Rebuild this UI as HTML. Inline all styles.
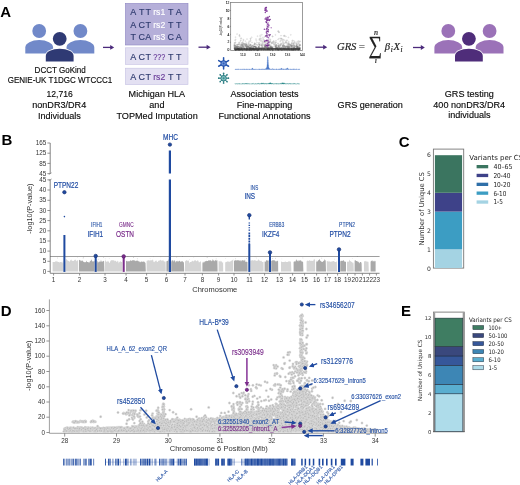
<!DOCTYPE html>
<html><head><meta charset="utf-8"><title>Figure</title>
<style>
html,body{margin:0;padding:0;background:#fff;}
body{width:520px;height:485px;overflow:hidden;}
svg{display:block;}
text{font-family:"Liberation Sans",sans-serif;}
.dj{font-family:"DejaVu Sans",sans-serif;}
.se{font-family:"Liberation Serif",serif;font-style:italic;}
.pl{font-weight:bold;font-size:15px;fill:#000;}
.cap{font-size:9.1px;fill:#0a0a0a;stroke:#0a0a0a;stroke-width:0.14px;text-anchor:middle;}
.tk{font-size:6.3px;fill:#333;}
.gl{font-size:8.8px;fill:#204ca4;stroke:#204ca4;stroke-width:0.2px;}
.gs{font-size:6.3px;fill:#2450a4;stroke:#2450a4;stroke-width:0.12px;}
.pu{fill:#7b2d8b;stroke:#7b2d8b;}
.dna{font-size:9px;fill:#2e3a6e;stroke:#2e3a6e;stroke-width:0.15px;}
</style></head><body>
<svg width="520" height="485" viewBox="0 0 520 485">
<defs>
<marker id="ab" viewBox="0 0 10 10" refX="6" refY="5" markerUnits="userSpaceOnUse" markerWidth="5.4" markerHeight="5.2" orient="auto"><path d="M0,0.3 L10,5 L0,9.7 z" fill="#1f4aa0"/></marker>
<marker id="ap" viewBox="0 0 10 10" refX="6" refY="5" markerUnits="userSpaceOnUse" markerWidth="5.4" markerHeight="5.2" orient="auto"><path d="M0,0.3 L10,5 L0,9.7 z" fill="#7b2d8b"/></marker>
</defs>
<rect width="520" height="485" fill="#fff"/>

<text class="pl" x="0.3" y="16.5">A</text>
<text class="pl" x="1.5" y="145.2">B</text>
<text class="pl" x="398.7" y="147.4">C</text>
<text class="pl" x="0.8" y="315.8">D</text>
<text class="pl" x="401.1" y="316.3">E</text>
<circle cx="39.2" cy="31" r="6.9" fill="#7189c9"/><path d="M25.300000000000004,53.6 V47.4 A13.9 7.3 0 0 1 53.1,47.4 V53.6 Z" fill="#7189c9"/><circle cx="80.4" cy="31" r="6.9" fill="#7189c9"/><path d="M66.5,53.6 V47.4 A13.9 7.3 0 0 1 94.30000000000001,47.4 V53.6 Z" fill="#7189c9"/><path d="M44.900000000000006,61.7 V56 A14.8 8.3 0 0 1 74.5,56 V61.7 Z" fill="#fff"/><circle cx="59.7" cy="38.8" r="7.9" fill="#fff"/><circle cx="59.7" cy="38.8" r="6.9" fill="#2f3a74"/><path d="M45.800000000000004,61.5 V56 A13.9 7.3 0 0 1 73.60000000000001,56 V61.5 Z" fill="#2f3a74"/>
<circle cx="448.3" cy="31" r="6.9" fill="#9b72b8"/><path d="M434.40000000000003,53.6 V47.4 A13.9 7.3 0 0 1 462.2,47.4 V53.6 Z" fill="#9b72b8"/><circle cx="489.6" cy="31" r="6.9" fill="#9b72b8"/><path d="M475.70000000000005,53.6 V47.4 A13.9 7.3 0 0 1 503.5,47.4 V53.6 Z" fill="#9b72b8"/><path d="M454.09999999999997,61.7 V56 A14.8 8.3 0 0 1 483.7,56 V61.7 Z" fill="#fff"/><circle cx="468.9" cy="38.8" r="7.9" fill="#fff"/><circle cx="468.9" cy="38.8" r="6.9" fill="#4f2d7a"/><path d="M455.0,61.5 V56 A13.9 7.3 0 0 1 482.79999999999995,56 V61.5 Z" fill="#4f2d7a"/>
<text x="60.2" y="73.2" font-size="8.3px" fill="#0a0a0a" stroke="#0a0a0a" stroke-width="0.14" text-anchor="middle" textLength="51.2" lengthAdjust="spacingAndGlyphs">DCCT GoKind</text>
<text x="60" y="83" font-size="8.3px" fill="#0a0a0a" stroke="#0a0a0a" stroke-width="0.14" text-anchor="middle" textLength="104.6" lengthAdjust="spacingAndGlyphs">GENIE-UK T1DGC WTCCC1</text>
<text class="cap" x="59.7" y="96.6" style="font-size:8.6px">12,716</text>
<text class="cap" x="59.2" y="107.6">nonDR3/DR4</text>
<text class="cap" x="59.4" y="118.9">Individuals</text>
<path d="M103,47.4 H112.2" stroke="#4b2a7b" stroke-width="1.3" fill="none"/><path d="M110.2,45.0 L114.2,47.4 L110.2,49.8 Z" fill="#4b2a7b"/>
<path d="M198.5,47.2 H208.6" stroke="#4b2a7b" stroke-width="1.3" fill="none"/><path d="M206.6,44.800000000000004 L210.6,47.2 L206.6,49.6 Z" fill="#4b2a7b"/>
<path d="M315.4,47.2 H325.2" stroke="#4b2a7b" stroke-width="1.3" fill="none"/><path d="M323.2,44.800000000000004 L327.2,47.2 L323.2,49.6 Z" fill="#4b2a7b"/>
<path d="M413,47.5 H422.8" stroke="#4b2a7b" stroke-width="1.3" fill="none"/><path d="M420.8,45.1 L424.8,47.5 L420.8,49.9 Z" fill="#4b2a7b"/>
<rect x="125.4" y="3.4" width="62.6" height="41.6" fill="#b5afd9" stroke="#8d85c2" stroke-width="0.6"/>
<rect x="125.4" y="47.8" width="62.6" height="16.6" fill="#e3e0f2" stroke="#c6c1e3" stroke-width="0.6"/>
<rect x="125.4" y="68.2" width="62.6" height="16.4" fill="#e3e0f2" stroke="#c6c1e3" stroke-width="0.6"/>
<text class="dna" text-anchor="middle" x="133.2 141.8 148.2" y="15.4">ATT</text><text class="dna" x="159.2" y="15.4" text-anchor="middle" style="fill:#fff;stroke:#fff" textLength="12" lengthAdjust="spacingAndGlyphs">rs1</text><text class="dna" text-anchor="middle" x="170.8 178.8" y="15.4">TA</text>
<text class="dna" text-anchor="middle" x="133.2 141.8 148.2" y="27.7">ACT</text><text class="dna" x="159.2" y="27.7" text-anchor="middle" style="fill:#fff;stroke:#fff" textLength="12" lengthAdjust="spacingAndGlyphs">rs2</text><text class="dna" text-anchor="middle" x="170.8 178.8" y="27.7">TT</text>
<text class="dna" text-anchor="middle" x="133.2 141.8 148.2" y="40.0">TCA</text><text class="dna" x="159.2" y="40.0" text-anchor="middle" style="fill:#fff;stroke:#fff" textLength="12" lengthAdjust="spacingAndGlyphs">rs3</text><text class="dna" text-anchor="middle" x="170.8 178.8" y="40.0">CA</text>
<text class="dna" text-anchor="middle" x="133.2 141.8 148.2" y="59.7">ACT</text><text class="dna" x="159.2" y="59.7" text-anchor="middle" style="fill:#6a3d9a;stroke:#6a3d9a" textLength="12" lengthAdjust="spacingAndGlyphs">???</text><text class="dna" text-anchor="middle" x="170.8 178.8" y="59.7">TT</text>
<text class="dna" text-anchor="middle" x="133.2 141.8 148.2" y="79.7">ACT</text><text class="dna" x="159.2" y="79.7" text-anchor="middle" style="fill:#6a3d9a;stroke:#6a3d9a" textLength="12" lengthAdjust="spacingAndGlyphs">rs2</text><text class="dna" text-anchor="middle" x="170.8 178.8" y="79.7">TT</text>
<text class="cap" x="156.9" y="96.6">Michigan HLA</text>
<text class="cap" x="156.9" y="108">and</text>
<text class="cap" x="157.1" y="118.8">TOPMed Imputation</text>
<g>
<g fill="none" stroke="#444" stroke-width="0.32"><circle cx="255.6" cy="49.5" r=".5"/><circle cx="272.3" cy="48.5" r=".5"/><circle cx="290.9" cy="48.3" r=".5"/><circle cx="288.1" cy="49.4" r=".5"/><circle cx="282.3" cy="49.0" r=".5"/><circle cx="278.0" cy="49.7" r=".5"/><circle cx="278.3" cy="49.8" r=".5"/><circle cx="241.9" cy="49.7" r=".5"/><circle cx="250.5" cy="48.6" r=".5"/><circle cx="291.2" cy="49.0" r=".5"/><circle cx="249.6" cy="48.1" r=".5"/><circle cx="278.8" cy="49.7" r=".5"/><circle cx="244.9" cy="48.8" r=".5"/><circle cx="244.0" cy="49.1" r=".5"/><circle cx="249.2" cy="47.9" r=".5"/><circle cx="265.8" cy="49.4" r=".5"/><circle cx="277.6" cy="48.7" r=".5"/><circle cx="248.1" cy="49.1" r=".5"/><circle cx="272.9" cy="49.1" r=".5"/><circle cx="286.0" cy="49.6" r=".5"/><circle cx="293.4" cy="49.4" r=".5"/><circle cx="289.1" cy="49.4" r=".5"/><circle cx="235.5" cy="47.7" r=".5"/><circle cx="251.7" cy="49.8" r=".5"/><circle cx="251.3" cy="49.5" r=".5"/><circle cx="237.5" cy="49.3" r=".5"/><circle cx="284.3" cy="49.0" r=".5"/><circle cx="257.1" cy="49.9" r=".5"/><circle cx="276.2" cy="48.5" r=".5"/><circle cx="242.8" cy="49.7" r=".5"/><circle cx="257.7" cy="49.9" r=".5"/><circle cx="267.4" cy="49.3" r=".5"/><circle cx="251.6" cy="49.6" r=".5"/><circle cx="259.9" cy="48.8" r=".5"/><circle cx="277.7" cy="49.7" r=".5"/><circle cx="239.1" cy="49.1" r=".5"/><circle cx="268.3" cy="48.2" r=".5"/><circle cx="280.6" cy="49.2" r=".5"/><circle cx="235.8" cy="49.9" r=".5"/><circle cx="254.1" cy="49.5" r=".5"/><circle cx="273.1" cy="48.7" r=".5"/><circle cx="237.4" cy="49.6" r=".5"/><circle cx="295.9" cy="49.1" r=".5"/><circle cx="295.4" cy="49.5" r=".5"/><circle cx="277.5" cy="48.9" r=".5"/><circle cx="241.4" cy="49.4" r=".5"/><circle cx="254.5" cy="49.8" r=".5"/><circle cx="249.2" cy="49.8" r=".5"/><circle cx="267.5" cy="49.3" r=".5"/><circle cx="298.5" cy="49.2" r=".5"/><circle cx="297.3" cy="49.5" r=".5"/><circle cx="246.9" cy="48.7" r=".5"/><circle cx="236.5" cy="49.7" r=".5"/><circle cx="262.6" cy="48.1" r=".5"/><circle cx="274.3" cy="48.8" r=".5"/><circle cx="238.5" cy="49.8" r=".5"/><circle cx="239.7" cy="49.6" r=".5"/><circle cx="238.4" cy="49.6" r=".5"/><circle cx="252.9" cy="48.9" r=".5"/><circle cx="266.1" cy="49.8" r=".5"/><circle cx="236.9" cy="47.7" r=".5"/><circle cx="289.5" cy="49.6" r=".5"/><circle cx="267.5" cy="48.6" r=".5"/><circle cx="238.5" cy="48.7" r=".5"/><circle cx="293.4" cy="49.0" r=".5"/><circle cx="270.8" cy="47.6" r=".5"/><circle cx="236.4" cy="49.5" r=".5"/><circle cx="235.7" cy="49.9" r=".5"/><circle cx="257.8" cy="49.2" r=".5"/><circle cx="249.9" cy="49.7" r=".5"/><circle cx="281.4" cy="49.9" r=".5"/><circle cx="292.3" cy="49.9" r=".5"/><circle cx="275.3" cy="49.7" r=".5"/><circle cx="236.0" cy="49.6" r=".5"/><circle cx="240.8" cy="49.6" r=".5"/><circle cx="261.5" cy="48.3" r=".5"/><circle cx="298.7" cy="49.9" r=".5"/><circle cx="286.8" cy="49.3" r=".5"/><circle cx="289.1" cy="49.1" r=".5"/><circle cx="276.2" cy="49.7" r=".5"/><circle cx="247.8" cy="49.1" r=".5"/><circle cx="255.8" cy="49.4" r=".5"/><circle cx="268.7" cy="49.4" r=".5"/><circle cx="262.9" cy="49.3" r=".5"/><circle cx="275.8" cy="49.1" r=".5"/><circle cx="296.8" cy="49.3" r=".5"/><circle cx="284.5" cy="49.5" r=".5"/><circle cx="237.9" cy="49.0" r=".5"/><circle cx="261.8" cy="48.4" r=".5"/><circle cx="269.0" cy="49.2" r=".5"/><circle cx="276.1" cy="48.2" r=".5"/><circle cx="251.9" cy="48.6" r=".5"/><circle cx="246.5" cy="49.9" r=".5"/><circle cx="250.4" cy="48.9" r=".5"/><circle cx="285.9" cy="49.5" r=".5"/><circle cx="235.2" cy="49.9" r=".5"/><circle cx="249.7" cy="49.5" r=".5"/><circle cx="265.0" cy="49.5" r=".5"/><circle cx="293.4" cy="49.8" r=".5"/><circle cx="270.2" cy="49.8" r=".5"/><circle cx="271.3" cy="49.1" r=".5"/><circle cx="298.0" cy="49.7" r=".5"/><circle cx="282.4" cy="49.7" r=".5"/><circle cx="239.5" cy="48.9" r=".5"/><circle cx="253.5" cy="49.7" r=".5"/><circle cx="268.6" cy="48.2" r=".5"/><circle cx="246.9" cy="49.4" r=".5"/><circle cx="271.5" cy="48.5" r=".5"/><circle cx="297.8" cy="48.0" r=".5"/><circle cx="248.8" cy="49.8" r=".5"/><circle cx="241.2" cy="48.8" r=".5"/><circle cx="256.3" cy="49.4" r=".5"/><circle cx="293.8" cy="49.6" r=".5"/><circle cx="239.4" cy="49.7" r=".5"/><circle cx="294.3" cy="48.1" r=".5"/><circle cx="291.3" cy="48.9" r=".5"/><circle cx="247.1" cy="49.9" r=".5"/><circle cx="237.2" cy="49.5" r=".5"/><circle cx="252.7" cy="49.5" r=".5"/><circle cx="238.8" cy="48.4" r=".5"/><circle cx="253.2" cy="48.9" r=".5"/><circle cx="253.6" cy="48.5" r=".5"/><circle cx="250.2" cy="49.2" r=".5"/><circle cx="299.4" cy="49.0" r=".5"/><circle cx="259.8" cy="48.3" r=".5"/><circle cx="259.9" cy="48.7" r=".5"/><circle cx="244.5" cy="49.0" r=".5"/><circle cx="246.6" cy="49.4" r=".5"/><circle cx="278.3" cy="49.3" r=".5"/><circle cx="251.8" cy="49.6" r=".5"/><circle cx="257.2" cy="48.3" r=".5"/><circle cx="250.2" cy="48.6" r=".5"/><circle cx="250.3" cy="49.4" r=".5"/><circle cx="298.3" cy="49.0" r=".5"/><circle cx="269.4" cy="48.6" r=".5"/><circle cx="256.7" cy="49.4" r=".5"/><circle cx="267.5" cy="49.2" r=".5"/><circle cx="280.8" cy="49.1" r=".5"/><circle cx="258.5" cy="49.1" r=".5"/><circle cx="291.8" cy="49.5" r=".5"/><circle cx="271.7" cy="48.9" r=".5"/><circle cx="253.8" cy="49.7" r=".5"/><circle cx="246.2" cy="49.6" r=".5"/><circle cx="281.2" cy="48.3" r=".5"/><circle cx="251.0" cy="48.4" r=".5"/><circle cx="250.3" cy="49.6" r=".5"/><circle cx="295.5" cy="49.5" r=".5"/><circle cx="238.1" cy="48.7" r=".5"/><circle cx="254.7" cy="49.5" r=".5"/><circle cx="249.9" cy="49.2" r=".5"/><circle cx="253.3" cy="48.3" r=".5"/><circle cx="255.6" cy="48.2" r=".5"/><circle cx="238.9" cy="49.9" r=".5"/><circle cx="241.4" cy="48.1" r=".5"/><circle cx="270.0" cy="49.9" r=".5"/><circle cx="250.0" cy="49.8" r=".5"/><circle cx="240.1" cy="49.8" r=".5"/><circle cx="253.7" cy="48.3" r=".5"/><circle cx="247.1" cy="49.7" r=".5"/><circle cx="297.1" cy="48.1" r=".5"/><circle cx="263.7" cy="49.7" r=".5"/><circle cx="269.2" cy="49.1" r=".5"/><circle cx="259.3" cy="49.5" r=".5"/><circle cx="234.6" cy="47.6" r=".5"/><circle cx="252.2" cy="49.0" r=".5"/><circle cx="261.0" cy="49.7" r=".5"/><circle cx="299.4" cy="48.1" r=".5"/><circle cx="264.1" cy="48.3" r=".5"/><circle cx="245.3" cy="49.7" r=".5"/><circle cx="299.4" cy="48.7" r=".5"/><circle cx="252.4" cy="48.1" r=".5"/><circle cx="280.7" cy="49.2" r=".5"/><circle cx="277.0" cy="48.5" r=".5"/><circle cx="242.9" cy="49.9" r=".5"/><circle cx="285.3" cy="48.7" r=".5"/><circle cx="284.1" cy="48.2" r=".5"/><circle cx="244.9" cy="49.8" r=".5"/><circle cx="291.2" cy="49.7" r=".5"/><circle cx="250.8" cy="49.1" r=".5"/><circle cx="299.8" cy="49.2" r=".5"/><circle cx="288.5" cy="49.0" r=".5"/><circle cx="293.0" cy="49.4" r=".5"/><circle cx="235.8" cy="49.6" r=".5"/><circle cx="294.4" cy="49.5" r=".5"/><circle cx="267.5" cy="49.2" r=".5"/><circle cx="279.4" cy="49.5" r=".5"/><circle cx="258.1" cy="49.9" r=".5"/><circle cx="261.3" cy="49.5" r=".5"/><circle cx="283.3" cy="48.6" r=".5"/><circle cx="284.3" cy="49.5" r=".5"/><circle cx="268.6" cy="49.2" r=".5"/><circle cx="258.7" cy="49.8" r=".5"/><circle cx="240.9" cy="49.7" r=".5"/><circle cx="270.9" cy="48.0" r=".5"/><circle cx="287.1" cy="49.3" r=".5"/><circle cx="237.6" cy="48.9" r=".5"/><circle cx="238.0" cy="48.4" r=".5"/></g>
<g fill="none" stroke="#707070" stroke-width="0.32"><circle cx="269.6" cy="45.4" r=".5"/><circle cx="242.4" cy="49.2" r=".5"/><circle cx="258.8" cy="47.2" r=".5"/><circle cx="279.1" cy="48.4" r=".5"/><circle cx="264.1" cy="48.9" r=".5"/><circle cx="250.3" cy="47.6" r=".5"/><circle cx="254.9" cy="46.7" r=".5"/><circle cx="263.8" cy="47.7" r=".5"/><circle cx="234.5" cy="48.4" r=".5"/><circle cx="297.1" cy="46.7" r=".5"/><circle cx="241.0" cy="46.4" r=".5"/><circle cx="266.1" cy="46.8" r=".5"/><circle cx="291.2" cy="46.7" r=".5"/><circle cx="256.0" cy="49.2" r=".5"/><circle cx="236.0" cy="49.0" r=".5"/><circle cx="297.3" cy="48.3" r=".5"/><circle cx="297.2" cy="47.4" r=".5"/><circle cx="247.7" cy="47.3" r=".5"/><circle cx="265.8" cy="47.0" r=".5"/><circle cx="296.7" cy="45.7" r=".5"/><circle cx="295.8" cy="48.4" r=".5"/><circle cx="294.3" cy="48.7" r=".5"/><circle cx="293.9" cy="48.4" r=".5"/><circle cx="269.3" cy="45.0" r=".5"/><circle cx="270.9" cy="48.8" r=".5"/><circle cx="267.6" cy="48.0" r=".5"/><circle cx="269.4" cy="48.1" r=".5"/><circle cx="297.1" cy="48.5" r=".5"/><circle cx="256.6" cy="49.3" r=".5"/><circle cx="256.1" cy="47.3" r=".5"/><circle cx="299.2" cy="45.7" r=".5"/><circle cx="242.8" cy="48.4" r=".5"/><circle cx="256.6" cy="47.7" r=".5"/><circle cx="242.7" cy="46.7" r=".5"/><circle cx="289.3" cy="48.6" r=".5"/><circle cx="299.0" cy="48.8" r=".5"/><circle cx="245.0" cy="49.7" r=".5"/><circle cx="278.5" cy="47.1" r=".5"/><circle cx="244.6" cy="48.3" r=".5"/><circle cx="275.6" cy="46.3" r=".5"/><circle cx="268.8" cy="48.0" r=".5"/><circle cx="288.7" cy="47.5" r=".5"/><circle cx="280.0" cy="48.2" r=".5"/><circle cx="275.5" cy="46.8" r=".5"/><circle cx="286.8" cy="46.2" r=".5"/><circle cx="265.8" cy="46.8" r=".5"/><circle cx="276.6" cy="48.2" r=".5"/><circle cx="254.3" cy="47.2" r=".5"/><circle cx="278.6" cy="46.7" r=".5"/><circle cx="293.2" cy="49.3" r=".5"/><circle cx="235.4" cy="48.2" r=".5"/><circle cx="272.6" cy="49.5" r=".5"/><circle cx="289.7" cy="49.9" r=".5"/><circle cx="253.3" cy="48.6" r=".5"/><circle cx="246.7" cy="48.6" r=".5"/><circle cx="283.9" cy="47.1" r=".5"/><circle cx="253.9" cy="46.3" r=".5"/><circle cx="243.4" cy="46.1" r=".5"/><circle cx="250.0" cy="49.1" r=".5"/><circle cx="283.7" cy="48.5" r=".5"/><circle cx="242.5" cy="48.0" r=".5"/><circle cx="248.5" cy="46.8" r=".5"/><circle cx="297.2" cy="44.8" r=".5"/><circle cx="236.3" cy="46.6" r=".5"/><circle cx="273.0" cy="49.9" r=".5"/><circle cx="294.9" cy="47.1" r=".5"/><circle cx="250.8" cy="47.2" r=".5"/><circle cx="238.8" cy="47.9" r=".5"/><circle cx="297.5" cy="47.1" r=".5"/><circle cx="249.7" cy="49.1" r=".5"/><circle cx="261.9" cy="49.1" r=".5"/><circle cx="279.2" cy="49.3" r=".5"/><circle cx="297.0" cy="46.8" r=".5"/><circle cx="236.3" cy="46.9" r=".5"/><circle cx="256.1" cy="47.4" r=".5"/><circle cx="237.5" cy="48.2" r=".5"/><circle cx="261.3" cy="45.4" r=".5"/><circle cx="297.4" cy="47.3" r=".5"/><circle cx="263.7" cy="49.2" r=".5"/><circle cx="287.6" cy="47.0" r=".5"/><circle cx="236.9" cy="47.9" r=".5"/><circle cx="263.8" cy="49.1" r=".5"/><circle cx="241.2" cy="47.4" r=".5"/><circle cx="258.5" cy="47.3" r=".5"/><circle cx="277.2" cy="47.4" r=".5"/><circle cx="271.6" cy="48.7" r=".5"/><circle cx="235.2" cy="47.7" r=".5"/><circle cx="240.1" cy="47.3" r=".5"/><circle cx="243.8" cy="49.0" r=".5"/><circle cx="241.4" cy="48.1" r=".5"/><circle cx="247.2" cy="49.5" r=".5"/><circle cx="293.9" cy="47.3" r=".5"/><circle cx="286.1" cy="49.2" r=".5"/><circle cx="288.9" cy="46.6" r=".5"/><circle cx="275.6" cy="48.9" r=".5"/><circle cx="262.3" cy="47.0" r=".5"/><circle cx="235.7" cy="47.3" r=".5"/><circle cx="284.6" cy="45.8" r=".5"/><circle cx="265.4" cy="45.8" r=".5"/><circle cx="282.6" cy="45.8" r=".5"/><circle cx="294.7" cy="49.4" r=".5"/><circle cx="255.3" cy="48.7" r=".5"/><circle cx="299.7" cy="47.2" r=".5"/><circle cx="288.3" cy="49.1" r=".5"/><circle cx="272.9" cy="47.0" r=".5"/><circle cx="247.7" cy="47.3" r=".5"/><circle cx="296.0" cy="48.6" r=".5"/><circle cx="291.7" cy="45.8" r=".5"/><circle cx="235.0" cy="47.1" r=".5"/><circle cx="276.8" cy="48.3" r=".5"/><circle cx="267.7" cy="47.1" r=".5"/><circle cx="264.9" cy="46.2" r=".5"/><circle cx="270.7" cy="48.4" r=".5"/><circle cx="251.7" cy="47.1" r=".5"/><circle cx="279.9" cy="46.9" r=".5"/><circle cx="289.6" cy="46.7" r=".5"/><circle cx="282.0" cy="47.6" r=".5"/><circle cx="288.2" cy="45.3" r=".5"/><circle cx="255.3" cy="46.7" r=".5"/><circle cx="281.4" cy="48.7" r=".5"/><circle cx="267.4" cy="44.7" r=".5"/><circle cx="288.3" cy="47.9" r=".5"/><circle cx="248.4" cy="46.7" r=".5"/><circle cx="286.1" cy="47.2" r=".5"/><circle cx="284.0" cy="46.1" r=".5"/><circle cx="283.2" cy="49.4" r=".5"/><circle cx="272.4" cy="49.5" r=".5"/><circle cx="249.9" cy="49.3" r=".5"/><circle cx="289.9" cy="47.9" r=".5"/><circle cx="280.0" cy="48.0" r=".5"/><circle cx="243.6" cy="47.4" r=".5"/><circle cx="294.1" cy="48.4" r=".5"/><circle cx="262.0" cy="49.2" r=".5"/><circle cx="285.3" cy="46.6" r=".5"/><circle cx="276.5" cy="48.3" r=".5"/><circle cx="240.7" cy="48.4" r=".5"/><circle cx="275.2" cy="48.5" r=".5"/><circle cx="246.3" cy="47.0" r=".5"/><circle cx="272.1" cy="47.8" r=".5"/><circle cx="251.7" cy="49.2" r=".5"/><circle cx="248.2" cy="49.5" r=".5"/><circle cx="297.8" cy="48.7" r=".5"/><circle cx="288.1" cy="48.2" r=".5"/><circle cx="290.6" cy="49.7" r=".5"/><circle cx="250.7" cy="48.3" r=".5"/><circle cx="257.1" cy="49.5" r=".5"/><circle cx="271.3" cy="46.9" r=".5"/><circle cx="260.8" cy="48.0" r=".5"/><circle cx="298.5" cy="47.0" r=".5"/><circle cx="255.1" cy="48.9" r=".5"/><circle cx="286.0" cy="49.8" r=".5"/><circle cx="275.6" cy="46.7" r=".5"/><circle cx="248.2" cy="46.9" r=".5"/><circle cx="277.5" cy="48.7" r=".5"/><circle cx="255.2" cy="48.4" r=".5"/><circle cx="276.8" cy="47.2" r=".5"/><circle cx="288.8" cy="48.8" r=".5"/><circle cx="289.1" cy="47.4" r=".5"/><circle cx="292.8" cy="48.6" r=".5"/><circle cx="293.3" cy="45.4" r=".5"/><circle cx="251.6" cy="48.4" r=".5"/><circle cx="292.8" cy="49.8" r=".5"/><circle cx="291.4" cy="47.6" r=".5"/><circle cx="287.5" cy="46.8" r=".5"/><circle cx="239.8" cy="47.7" r=".5"/><circle cx="264.9" cy="49.3" r=".5"/><circle cx="249.6" cy="47.6" r=".5"/><circle cx="266.3" cy="47.6" r=".5"/><circle cx="239.7" cy="49.8" r=".5"/><circle cx="271.5" cy="47.1" r=".5"/><circle cx="237.9" cy="49.5" r=".5"/><circle cx="278.9" cy="48.9" r=".5"/><circle cx="266.0" cy="48.2" r=".5"/><circle cx="275.7" cy="48.3" r=".5"/><circle cx="265.7" cy="45.3" r=".5"/><circle cx="261.4" cy="49.4" r=".5"/><circle cx="251.2" cy="49.3" r=".5"/><circle cx="235.3" cy="45.5" r=".5"/><circle cx="234.3" cy="45.1" r=".5"/><circle cx="246.1" cy="45.9" r=".5"/><circle cx="252.3" cy="49.3" r=".5"/><circle cx="287.8" cy="47.0" r=".5"/><circle cx="289.8" cy="44.5" r=".5"/><circle cx="246.5" cy="45.1" r=".5"/><circle cx="268.2" cy="49.6" r=".5"/><circle cx="283.8" cy="49.7" r=".5"/><circle cx="266.9" cy="48.0" r=".5"/><circle cx="296.3" cy="45.8" r=".5"/><circle cx="256.3" cy="48.4" r=".5"/><circle cx="294.4" cy="45.3" r=".5"/><circle cx="262.1" cy="47.2" r=".5"/><circle cx="236.5" cy="47.1" r=".5"/><circle cx="252.2" cy="47.8" r=".5"/><circle cx="250.7" cy="47.9" r=".5"/><circle cx="265.0" cy="46.7" r=".5"/><circle cx="240.0" cy="47.8" r=".5"/><circle cx="270.4" cy="47.3" r=".5"/><circle cx="272.9" cy="49.9" r=".5"/><circle cx="249.9" cy="47.7" r=".5"/><circle cx="256.4" cy="48.7" r=".5"/><circle cx="271.9" cy="48.4" r=".5"/><circle cx="274.3" cy="48.6" r=".5"/><circle cx="281.9" cy="49.0" r=".5"/><circle cx="259.6" cy="48.8" r=".5"/><circle cx="267.2" cy="46.0" r=".5"/><circle cx="300.1" cy="47.9" r=".5"/><circle cx="296.8" cy="46.8" r=".5"/><circle cx="258.9" cy="48.5" r=".5"/><circle cx="288.0" cy="49.4" r=".5"/><circle cx="234.5" cy="48.9" r=".5"/><circle cx="272.1" cy="47.6" r=".5"/><circle cx="255.5" cy="46.5" r=".5"/><circle cx="293.0" cy="47.5" r=".5"/><circle cx="242.3" cy="45.2" r=".5"/><circle cx="246.8" cy="48.8" r=".5"/><circle cx="287.3" cy="49.4" r=".5"/><circle cx="241.4" cy="47.7" r=".5"/><circle cx="242.5" cy="46.5" r=".5"/><circle cx="257.4" cy="48.5" r=".5"/><circle cx="254.2" cy="46.6" r=".5"/><circle cx="237.0" cy="44.7" r=".5"/><circle cx="283.5" cy="45.1" r=".5"/><circle cx="296.7" cy="48.4" r=".5"/><circle cx="237.8" cy="46.7" r=".5"/><circle cx="298.2" cy="47.2" r=".5"/><circle cx="296.0" cy="48.7" r=".5"/><circle cx="243.6" cy="47.7" r=".5"/><circle cx="264.6" cy="46.0" r=".5"/><circle cx="247.2" cy="46.6" r=".5"/><circle cx="239.7" cy="46.5" r=".5"/><circle cx="253.8" cy="49.3" r=".5"/><circle cx="295.4" cy="49.4" r=".5"/><circle cx="258.5" cy="47.7" r=".5"/><circle cx="281.9" cy="49.9" r=".5"/><circle cx="286.1" cy="48.4" r=".5"/><circle cx="268.2" cy="48.4" r=".5"/><circle cx="278.2" cy="45.2" r=".5"/><circle cx="297.7" cy="47.3" r=".5"/><circle cx="278.8" cy="47.4" r=".5"/><circle cx="272.5" cy="48.4" r=".5"/><circle cx="270.5" cy="46.5" r=".5"/><circle cx="283.4" cy="48.8" r=".5"/><circle cx="288.7" cy="49.5" r=".5"/><circle cx="251.0" cy="49.3" r=".5"/><circle cx="272.6" cy="48.9" r=".5"/><circle cx="246.4" cy="47.7" r=".5"/><circle cx="279.7" cy="45.4" r=".5"/><circle cx="256.8" cy="49.5" r=".5"/><circle cx="291.8" cy="45.5" r=".5"/><circle cx="293.2" cy="46.5" r=".5"/><circle cx="265.1" cy="47.6" r=".5"/><circle cx="271.8" cy="47.9" r=".5"/><circle cx="236.5" cy="47.7" r=".5"/><circle cx="285.3" cy="47.2" r=".5"/><circle cx="279.2" cy="48.9" r=".5"/><circle cx="267.8" cy="47.2" r=".5"/><circle cx="249.7" cy="48.7" r=".5"/><circle cx="282.2" cy="47.7" r=".5"/><circle cx="295.0" cy="46.5" r=".5"/><circle cx="291.5" cy="49.7" r=".5"/><circle cx="246.6" cy="47.8" r=".5"/><circle cx="295.1" cy="49.3" r=".5"/><circle cx="266.8" cy="47.4" r=".5"/><circle cx="237.9" cy="47.3" r=".5"/><circle cx="287.9" cy="48.4" r=".5"/><circle cx="270.8" cy="47.0" r=".5"/><circle cx="283.1" cy="49.1" r=".5"/><circle cx="285.4" cy="48.9" r=".5"/><circle cx="264.1" cy="49.0" r=".5"/><circle cx="244.1" cy="49.4" r=".5"/><circle cx="299.0" cy="48.0" r=".5"/><circle cx="287.0" cy="48.2" r=".5"/><circle cx="247.6" cy="46.1" r=".5"/><circle cx="264.1" cy="47.6" r=".5"/><circle cx="292.5" cy="48.7" r=".5"/><circle cx="249.7" cy="45.7" r=".5"/><circle cx="241.6" cy="48.7" r=".5"/><circle cx="257.3" cy="49.2" r=".5"/><circle cx="282.5" cy="46.3" r=".5"/><circle cx="237.1" cy="48.0" r=".5"/><circle cx="270.1" cy="47.7" r=".5"/><circle cx="291.9" cy="46.5" r=".5"/><circle cx="259.1" cy="48.1" r=".5"/><circle cx="276.9" cy="47.7" r=".5"/><circle cx="234.3" cy="46.2" r=".5"/><circle cx="268.9" cy="47.3" r=".5"/><circle cx="294.2" cy="48.2" r=".5"/><circle cx="268.8" cy="47.9" r=".5"/><circle cx="259.4" cy="45.1" r=".5"/><circle cx="280.1" cy="48.3" r=".5"/><circle cx="259.4" cy="44.6" r=".5"/><circle cx="246.0" cy="46.5" r=".5"/><circle cx="247.5" cy="48.4" r=".5"/><circle cx="281.2" cy="49.0" r=".5"/><circle cx="287.7" cy="48.7" r=".5"/><circle cx="295.2" cy="49.3" r=".5"/><circle cx="258.8" cy="46.9" r=".5"/><circle cx="284.1" cy="48.6" r=".5"/><circle cx="293.0" cy="48.3" r=".5"/><circle cx="288.6" cy="46.9" r=".5"/><circle cx="285.0" cy="48.7" r=".5"/><circle cx="237.8" cy="46.8" r=".5"/><circle cx="237.8" cy="46.7" r=".5"/><circle cx="300.1" cy="45.3" r=".5"/><circle cx="251.5" cy="48.9" r=".5"/><circle cx="251.2" cy="46.2" r=".5"/><circle cx="264.8" cy="48.1" r=".5"/><circle cx="271.5" cy="48.8" r=".5"/><circle cx="253.4" cy="46.5" r=".5"/></g>
<g fill="none" stroke="#939393" stroke-width="0.32"><circle cx="262.8" cy="45.5" r=".5"/><circle cx="278.3" cy="46.0" r=".5"/><circle cx="264.3" cy="44.9" r=".5"/><circle cx="299.7" cy="45.2" r=".5"/><circle cx="291.9" cy="45.6" r=".5"/><circle cx="242.3" cy="44.8" r=".5"/><circle cx="245.2" cy="45.9" r=".5"/><circle cx="290.5" cy="45.5" r=".5"/><circle cx="252.5" cy="45.9" r=".5"/><circle cx="296.5" cy="44.3" r=".5"/><circle cx="243.6" cy="44.1" r=".5"/><circle cx="280.4" cy="44.1" r=".5"/><circle cx="241.2" cy="45.3" r=".5"/><circle cx="235.7" cy="45.6" r=".5"/><circle cx="283.7" cy="47.0" r=".5"/><circle cx="241.1" cy="45.0" r=".5"/><circle cx="243.0" cy="45.3" r=".5"/><circle cx="287.8" cy="47.2" r=".5"/><circle cx="245.2" cy="43.7" r=".5"/><circle cx="248.7" cy="43.5" r=".5"/><circle cx="259.1" cy="46.3" r=".5"/><circle cx="288.7" cy="44.7" r=".5"/><circle cx="296.3" cy="46.4" r=".5"/><circle cx="249.0" cy="45.7" r=".5"/><circle cx="288.3" cy="43.6" r=".5"/><circle cx="257.7" cy="45.2" r=".5"/><circle cx="283.5" cy="43.7" r=".5"/><circle cx="287.2" cy="46.3" r=".5"/><circle cx="298.9" cy="44.1" r=".5"/><circle cx="278.7" cy="46.2" r=".5"/><circle cx="242.2" cy="44.9" r=".5"/><circle cx="258.8" cy="44.1" r=".5"/><circle cx="244.3" cy="44.1" r=".5"/><circle cx="265.5" cy="45.3" r=".5"/><circle cx="246.4" cy="44.3" r=".5"/><circle cx="276.4" cy="45.7" r=".5"/><circle cx="300.0" cy="44.6" r=".5"/><circle cx="261.0" cy="44.1" r=".5"/><circle cx="269.2" cy="47.2" r=".5"/><circle cx="241.1" cy="45.1" r=".5"/><circle cx="280.1" cy="44.9" r=".5"/><circle cx="292.3" cy="43.7" r=".5"/><circle cx="291.5" cy="43.3" r=".5"/><circle cx="247.8" cy="44.8" r=".5"/><circle cx="276.1" cy="45.2" r=".5"/><circle cx="247.8" cy="46.3" r=".5"/><circle cx="285.8" cy="42.3" r=".5"/><circle cx="276.4" cy="45.1" r=".5"/><circle cx="242.5" cy="45.1" r=".5"/><circle cx="276.3" cy="47.0" r=".5"/><circle cx="247.2" cy="46.7" r=".5"/><circle cx="263.1" cy="44.1" r=".5"/><circle cx="236.1" cy="47.4" r=".5"/><circle cx="256.5" cy="44.6" r=".5"/><circle cx="268.9" cy="43.0" r=".5"/><circle cx="270.8" cy="45.2" r=".5"/><circle cx="237.8" cy="46.9" r=".5"/><circle cx="272.2" cy="43.1" r=".5"/><circle cx="259.8" cy="47.5" r=".5"/><circle cx="265.6" cy="42.9" r=".5"/><circle cx="244.2" cy="44.6" r=".5"/><circle cx="235.4" cy="42.4" r=".5"/><circle cx="237.5" cy="45.9" r=".5"/><circle cx="291.0" cy="46.0" r=".5"/><circle cx="264.4" cy="41.9" r=".5"/><circle cx="273.7" cy="43.1" r=".5"/><circle cx="293.8" cy="43.5" r=".5"/><circle cx="286.1" cy="46.6" r=".5"/><circle cx="235.0" cy="46.3" r=".5"/><circle cx="293.3" cy="44.2" r=".5"/><circle cx="238.0" cy="46.4" r=".5"/><circle cx="250.7" cy="44.8" r=".5"/><circle cx="245.0" cy="45.2" r=".5"/><circle cx="262.0" cy="45.0" r=".5"/><circle cx="276.0" cy="45.4" r=".5"/><circle cx="238.6" cy="44.4" r=".5"/><circle cx="290.3" cy="45.2" r=".5"/><circle cx="283.3" cy="46.0" r=".5"/><circle cx="284.7" cy="47.5" r=".5"/><circle cx="289.9" cy="45.0" r=".5"/><circle cx="261.4" cy="45.7" r=".5"/><circle cx="251.8" cy="47.1" r=".5"/><circle cx="274.7" cy="45.4" r=".5"/><circle cx="255.0" cy="43.7" r=".5"/><circle cx="254.6" cy="44.3" r=".5"/><circle cx="252.0" cy="45.9" r=".5"/><circle cx="245.9" cy="44.8" r=".5"/><circle cx="294.2" cy="45.9" r=".5"/><circle cx="250.6" cy="44.8" r=".5"/><circle cx="246.1" cy="45.0" r=".5"/><circle cx="234.3" cy="45.0" r=".5"/><circle cx="282.9" cy="45.1" r=".5"/><circle cx="280.6" cy="45.5" r=".5"/><circle cx="275.6" cy="42.5" r=".5"/><circle cx="250.4" cy="45.1" r=".5"/><circle cx="288.3" cy="46.6" r=".5"/><circle cx="266.8" cy="45.7" r=".5"/><circle cx="241.6" cy="44.5" r=".5"/><circle cx="249.2" cy="44.7" r=".5"/><circle cx="239.5" cy="44.5" r=".5"/><circle cx="243.2" cy="43.6" r=".5"/><circle cx="235.2" cy="45.8" r=".5"/><circle cx="271.4" cy="43.2" r=".5"/><circle cx="296.8" cy="43.1" r=".5"/><circle cx="252.8" cy="45.6" r=".5"/><circle cx="274.0" cy="44.5" r=".5"/><circle cx="287.6" cy="44.3" r=".5"/><circle cx="238.0" cy="44.4" r=".5"/><circle cx="291.2" cy="44.4" r=".5"/><circle cx="246.2" cy="44.5" r=".5"/><circle cx="245.3" cy="44.7" r=".5"/><circle cx="281.5" cy="44.1" r=".5"/><circle cx="242.2" cy="43.0" r=".5"/><circle cx="275.7" cy="44.3" r=".5"/><circle cx="245.6" cy="45.2" r=".5"/><circle cx="288.8" cy="43.8" r=".5"/><circle cx="244.4" cy="46.5" r=".5"/><circle cx="268.6" cy="45.5" r=".5"/><circle cx="264.7" cy="45.0" r=".5"/><circle cx="236.9" cy="46.8" r=".5"/><circle cx="254.3" cy="44.5" r=".5"/></g>
<g fill="none" stroke="#b4b4b4" stroke-width="0.32"><circle cx="261.8" cy="41.2" r=".5"/><circle cx="292.6" cy="40.4" r=".5"/><circle cx="240.9" cy="38.3" r=".5"/><circle cx="288.9" cy="43.0" r=".5"/><circle cx="243.9" cy="43.4" r=".5"/><circle cx="277.8" cy="43.4" r=".5"/><circle cx="287.1" cy="40.3" r=".5"/><circle cx="293.9" cy="40.9" r=".5"/><circle cx="235.1" cy="40.3" r=".5"/><circle cx="234.5" cy="42.9" r=".5"/><circle cx="284.4" cy="43.3" r=".5"/><circle cx="292.1" cy="42.2" r=".5"/><circle cx="239.0" cy="43.8" r=".5"/><circle cx="239.0" cy="42.4" r=".5"/><circle cx="239.7" cy="36.4" r=".5"/><circle cx="282.6" cy="42.8" r=".5"/><circle cx="298.4" cy="42.4" r=".5"/><circle cx="282.0" cy="38.9" r=".5"/><circle cx="283.0" cy="39.8" r=".5"/><circle cx="263.9" cy="40.0" r=".5"/><circle cx="242.1" cy="42.8" r=".5"/><circle cx="270.4" cy="41.9" r=".5"/><circle cx="264.4" cy="40.4" r=".5"/><circle cx="278.1" cy="39.4" r=".5"/><circle cx="293.5" cy="44.1" r=".5"/><circle cx="295.7" cy="43.6" r=".5"/><circle cx="255.1" cy="43.9" r=".5"/><circle cx="276.0" cy="40.8" r=".5"/><circle cx="297.3" cy="41.6" r=".5"/><circle cx="285.8" cy="42.1" r=".5"/><circle cx="260.3" cy="36.7" r=".5"/><circle cx="272.7" cy="42.7" r=".5"/><circle cx="234.6" cy="43.6" r=".5"/><circle cx="259.5" cy="42.8" r=".5"/><circle cx="263.4" cy="41.7" r=".5"/><circle cx="290.8" cy="34.9" r=".5"/><circle cx="247.0" cy="39.1" r=".5"/><circle cx="267.3" cy="41.1" r=".5"/><circle cx="279.1" cy="38.5" r=".5"/><circle cx="251.7" cy="37.3" r=".5"/><circle cx="284.7" cy="40.2" r=".5"/><circle cx="268.0" cy="42.2" r=".5"/><circle cx="250.6" cy="40.6" r=".5"/><circle cx="270.6" cy="41.0" r=".5"/><circle cx="254.6" cy="43.1" r=".5"/><circle cx="283.3" cy="42.1" r=".5"/><circle cx="243.6" cy="43.6" r=".5"/><circle cx="280.2" cy="41.7" r=".5"/><circle cx="280.7" cy="40.6" r=".5"/><circle cx="260.2" cy="35.3" r=".5"/><circle cx="259.2" cy="39.9" r=".5"/><circle cx="298.6" cy="41.0" r=".5"/><circle cx="259.6" cy="38.8" r=".5"/><circle cx="266.5" cy="35.6" r=".5"/><circle cx="245.3" cy="43.9" r=".5"/><circle cx="278.3" cy="43.8" r=".5"/><circle cx="269.8" cy="39.2" r=".5"/><circle cx="261.8" cy="34.8" r=".5"/><circle cx="256.0" cy="39.1" r=".5"/><circle cx="246.7" cy="43.0" r=".5"/><circle cx="286.3" cy="43.4" r=".5"/><circle cx="240.9" cy="40.2" r=".5"/><circle cx="264.6" cy="42.6" r=".5"/><circle cx="281.5" cy="43.8" r=".5"/><circle cx="263.2" cy="39.0" r=".5"/><circle cx="286.1" cy="42.1" r=".5"/><circle cx="283.7" cy="35.9" r=".5"/><circle cx="286.4" cy="40.7" r=".5"/><circle cx="237.1" cy="34.1" r=".5"/><circle cx="276.0" cy="42.3" r=".5"/><circle cx="268.5" cy="43.0" r=".5"/><circle cx="262.3" cy="42.0" r=".5"/><circle cx="260.1" cy="39.0" r=".5"/><circle cx="248.8" cy="42.6" r=".5"/><circle cx="243.4" cy="39.7" r=".5"/><circle cx="281.3" cy="39.8" r=".5"/><circle cx="300.1" cy="41.3" r=".5"/><circle cx="262.9" cy="37.7" r=".5"/><circle cx="261.1" cy="38.4" r=".5"/><circle cx="258.7" cy="42.9" r=".5"/><circle cx="235.6" cy="39.6" r=".5"/><circle cx="268.7" cy="40.7" r=".5"/><circle cx="273.3" cy="41.3" r=".5"/><circle cx="268.3" cy="41.3" r=".5"/><circle cx="243.4" cy="40.4" r=".5"/><circle cx="273.4" cy="41.5" r=".5"/><circle cx="271.8" cy="42.9" r=".5"/><circle cx="249.1" cy="41.2" r=".5"/><circle cx="281.0" cy="35.7" r=".5"/><circle cx="272.2" cy="42.2" r=".5"/><circle cx="262.3" cy="42.9" r=".5"/><circle cx="267.0" cy="43.1" r=".5"/><circle cx="292.3" cy="40.9" r=".5"/><circle cx="275.4" cy="34.9" r=".5"/><circle cx="288.7" cy="41.7" r=".5"/><circle cx="288.4" cy="37.4" r=".5"/><circle cx="257.5" cy="36.2" r=".5"/><circle cx="241.2" cy="43.3" r=".5"/><circle cx="275.1" cy="43.9" r=".5"/><circle cx="274.0" cy="41.2" r=".5"/><circle cx="252.0" cy="42.4" r=".5"/><circle cx="242.9" cy="42.0" r=".5"/><circle cx="294.6" cy="42.3" r=".5"/><circle cx="270.4" cy="41.9" r=".5"/><circle cx="283.2" cy="39.8" r=".5"/><circle cx="239.5" cy="42.7" r=".5"/><circle cx="298.3" cy="43.4" r=".5"/><circle cx="256.9" cy="42.6" r=".5"/><circle cx="260.4" cy="40.9" r=".5"/><circle cx="299.6" cy="41.8" r=".5"/><circle cx="245.5" cy="41.2" r=".5"/><circle cx="262.3" cy="44.0" r=".5"/><circle cx="270.4" cy="39.8" r=".5"/><circle cx="287.0" cy="42.7" r=".5"/><circle cx="260.1" cy="40.0" r=".5"/><circle cx="264.5" cy="36.9" r=".5"/><circle cx="282.6" cy="41.0" r=".5"/><circle cx="235.1" cy="42.9" r=".5"/><circle cx="240.4" cy="41.0" r=".5"/><circle cx="267.3" cy="40.6" r=".5"/><circle cx="241.3" cy="38.4" r=".5"/><circle cx="294.9" cy="42.1" r=".5"/><circle cx="235.5" cy="37.2" r=".5"/><circle cx="261.9" cy="40.1" r=".5"/><circle cx="274.3" cy="42.9" r=".5"/><circle cx="285.9" cy="36.5" r=".5"/><circle cx="265.7" cy="41.2" r=".5"/><circle cx="250.2" cy="41.4" r=".5"/><circle cx="293.7" cy="42.8" r=".5"/><circle cx="256.3" cy="40.7" r=".5"/><circle cx="264.2" cy="42.5" r=".5"/></g>
<rect x="234" y="48" width="66.4" height="2" fill="#1a1a1a" opacity="0.5"/>
<circle cx="265.3" cy="12.6" r="0.75" fill="#7d3596" opacity="0.9"/><circle cx="266.1" cy="10.0" r="0.75" fill="#a874ba" opacity="0.9"/><circle cx="265.2" cy="8.4" r="0.75" fill="#9550ad" opacity="0.9"/><circle cx="265.9" cy="10.3" r="0.75" fill="#7d3596" opacity="0.9"/><circle cx="265.3" cy="7.9" r="0.75" fill="#9550ad" opacity="0.9"/><circle cx="265.3" cy="9.1" r="0.75" fill="#a874ba" opacity="0.9"/><circle cx="266.7" cy="11.3" r="0.75" fill="#9550ad" opacity="0.9"/><circle cx="266.4" cy="7.6" r="0.75" fill="#6a2a84" opacity="0.9"/><circle cx="267.2" cy="11.1" r="0.75" fill="#9550ad" opacity="0.9"/><circle cx="265.8" cy="10.8" r="0.75" fill="#9550ad" opacity="0.9"/><circle cx="265.9" cy="10.4" r="0.75" fill="#9550ad" opacity="0.9"/><circle cx="266.0" cy="7.7" r="0.75" fill="#9550ad" opacity="0.9"/><circle cx="266.0" cy="7.6" r="0.75" fill="#7d3596" opacity="0.9"/><circle cx="266.2" cy="10.0" r="0.75" fill="#a874ba" opacity="0.9"/><circle cx="265.0" cy="10.3" r="0.75" fill="#7d3596" opacity="0.9"/><circle cx="266.3" cy="11.0" r="0.75" fill="#9550ad" opacity="0.9"/><circle cx="265.2" cy="10.0" r="0.75" fill="#7d3596" opacity="0.9"/><circle cx="265.9" cy="9.0" r="0.75" fill="#7d3596" opacity="0.9"/><circle cx="271.2" cy="27.8" r="0.75" fill="#a874ba" opacity="0.9"/><circle cx="267.1" cy="26.1" r="0.75" fill="#9550ad" opacity="0.9"/><circle cx="266.9" cy="20.4" r="0.75" fill="#6a2a84" opacity="0.9"/><circle cx="268.0" cy="17.4" r="0.75" fill="#a874ba" opacity="0.9"/><circle cx="267.3" cy="27.9" r="0.75" fill="#a874ba" opacity="0.9"/><circle cx="266.0" cy="21.7" r="0.75" fill="#9550ad" opacity="0.9"/><circle cx="269.4" cy="16.5" r="0.75" fill="#7d3596" opacity="0.9"/><circle cx="266.6" cy="19.3" r="0.75" fill="#9550ad" opacity="0.9"/><circle cx="268.3" cy="29.7" r="0.75" fill="#7d3596" opacity="0.9"/><circle cx="266.5" cy="21.9" r="0.75" fill="#9550ad" opacity="0.9"/><circle cx="268.7" cy="27.0" r="0.75" fill="#a874ba" opacity="0.9"/><circle cx="267.9" cy="20.1" r="0.75" fill="#6a2a84" opacity="0.9"/><circle cx="268.1" cy="29.5" r="0.75" fill="#9550ad" opacity="0.9"/><circle cx="267.8" cy="26.7" r="0.75" fill="#6a2a84" opacity="0.9"/><circle cx="267.9" cy="17.9" r="0.75" fill="#9550ad" opacity="0.9"/><circle cx="267.8" cy="17.3" r="0.75" fill="#6a2a84" opacity="0.9"/><circle cx="267.4" cy="24.1" r="0.75" fill="#6a2a84" opacity="0.9"/><circle cx="266.5" cy="22.5" r="0.75" fill="#6a2a84" opacity="0.9"/><circle cx="267.9" cy="18.3" r="0.75" fill="#9550ad" opacity="0.9"/><circle cx="269.0" cy="25.2" r="0.75" fill="#9550ad" opacity="0.9"/><circle cx="268.1" cy="19.4" r="0.75" fill="#9550ad" opacity="0.9"/><circle cx="268.0" cy="20.1" r="0.75" fill="#a874ba" opacity="0.9"/><circle cx="269.3" cy="20.6" r="0.75" fill="#7d3596" opacity="0.9"/><circle cx="266.8" cy="28.4" r="0.75" fill="#6a2a84" opacity="0.9"/><circle cx="267.5" cy="28.0" r="0.75" fill="#a874ba" opacity="0.9"/><circle cx="268.4" cy="25.2" r="0.75" fill="#9550ad" opacity="0.9"/><circle cx="270.1" cy="19.4" r="0.75" fill="#6a2a84" opacity="0.9"/><circle cx="269.3" cy="20.0" r="0.75" fill="#9550ad" opacity="0.9"/><circle cx="267.4" cy="20.5" r="0.75" fill="#7d3596" opacity="0.9"/><circle cx="266.1" cy="17.5" r="0.75" fill="#9550ad" opacity="0.9"/><circle cx="268.5" cy="19.8" r="0.75" fill="#a874ba" opacity="0.9"/><circle cx="268.1" cy="24.6" r="0.75" fill="#9550ad" opacity="0.9"/><circle cx="266.3" cy="29.4" r="0.75" fill="#9550ad" opacity="0.9"/><circle cx="268.2" cy="23.0" r="0.75" fill="#a874ba" opacity="0.9"/><circle cx="265.1" cy="19.0" r="0.75" fill="#6a2a84" opacity="0.9"/><circle cx="266.1" cy="18.6" r="0.75" fill="#a874ba" opacity="0.9"/><circle cx="269.1" cy="19.9" r="0.75" fill="#7d3596" opacity="0.9"/><circle cx="266.0" cy="19.1" r="0.75" fill="#7d3596" opacity="0.9"/><circle cx="267.0" cy="19.2" r="0.75" fill="#6a2a84" opacity="0.9"/><circle cx="264.4" cy="29.3" r="0.75" fill="#7d3596" opacity="0.9"/><circle cx="268.5" cy="37.7" r="0.75" fill="#9550ad" opacity="0.9"/><circle cx="266.4" cy="32.7" r="0.75" fill="#7d3596" opacity="0.9"/><circle cx="270.1" cy="34.8" r="0.75" fill="#6a2a84" opacity="0.9"/><circle cx="268.1" cy="42.3" r="0.75" fill="#a874ba" opacity="0.9"/><circle cx="267.3" cy="40.5" r="0.75" fill="#6a2a84" opacity="0.9"/><circle cx="269.4" cy="35.7" r="0.75" fill="#7d3596" opacity="0.9"/><circle cx="268.2" cy="32.1" r="0.75" fill="#a874ba" opacity="0.9"/><circle cx="269.0" cy="34.7" r="0.75" fill="#7d3596" opacity="0.9"/><circle cx="265.4" cy="40.8" r="0.75" fill="#9550ad" opacity="0.9"/><circle cx="266.6" cy="35.5" r="0.75" fill="#a874ba" opacity="0.9"/><circle cx="268.0" cy="31.3" r="0.75" fill="#6a2a84" opacity="0.9"/><circle cx="267.0" cy="35.3" r="0.75" fill="#6a2a84" opacity="0.9"/><circle cx="267.0" cy="33.8" r="0.75" fill="#7d3596" opacity="0.9"/><circle cx="267.5" cy="36.9" r="0.75" fill="#9550ad" opacity="0.9"/><circle cx="266.9" cy="36.8" r="0.75" fill="#9550ad" opacity="0.9"/><circle cx="267.1" cy="45.3" r="0.75" fill="#a874ba" opacity="0.9"/><circle cx="269.0" cy="42.1" r="0.75" fill="#6a2a84" opacity="0.9"/><circle cx="267.2" cy="40.4" r="0.75" fill="#9550ad" opacity="0.9"/><circle cx="267.6" cy="31.3" r="0.75" fill="#6a2a84" opacity="0.9"/><circle cx="267.6" cy="45.6" r="0.75" fill="#7d3596" opacity="0.9"/><circle cx="266.5" cy="31.3" r="0.75" fill="#7d3596" opacity="0.9"/><circle cx="264.7" cy="41.2" r="0.75" fill="#7d3596" opacity="0.9"/><circle cx="265.6" cy="36.1" r="0.75" fill="#6a2a84" opacity="0.9"/><circle cx="267.6" cy="47.0" r="0.75" fill="#9550ad" opacity="0.9"/><circle cx="268.6" cy="42.8" r="0.75" fill="#9550ad" opacity="0.9"/><circle cx="268.0" cy="45.4" r="0.75" fill="#6a2a84" opacity="0.9"/><circle cx="267.3" cy="43.7" r="0.75" fill="#7d3596" opacity="0.9"/><circle cx="265.7" cy="45.6" r="0.75" fill="#9550ad" opacity="0.9"/><circle cx="266.4" cy="45.4" r="0.75" fill="#6a2a84" opacity="0.9"/><circle cx="268.7" cy="44.9" r="0.75" fill="#6a2a84" opacity="0.9"/><circle cx="265.7" cy="44.8" r="0.75" fill="#a874ba" opacity="0.9"/><circle cx="268.4" cy="40.2" r="0.75" fill="#a874ba" opacity="0.9"/><circle cx="266.6" cy="40.3" r="0.75" fill="#9550ad" opacity="0.9"/><circle cx="266.6" cy="40.7" r="0.75" fill="#6a2a84" opacity="0.9"/><circle cx="278.2" cy="31.2" r="0.55" fill="none" stroke="#777" stroke-width="0.3"/><circle cx="279" cy="32.2" r="0.55" fill="none" stroke="#777" stroke-width="0.3"/><circle cx="272.6" cy="36.4" r="0.55" fill="none" stroke="#777" stroke-width="0.3"/><circle cx="284.6" cy="35.8" r="0.55" fill="none" stroke="#777" stroke-width="0.3"/><circle cx="239.4" cy="35.2" r="0.55" fill="none" stroke="#777" stroke-width="0.3"/><circle cx="281" cy="38.4" r="0.55" fill="none" stroke="#777" stroke-width="0.3"/><circle cx="250.6" cy="38.8" r="0.55" fill="none" stroke="#777" stroke-width="0.3"/>
<rect x="230.8" y="2.3" width="71.7" height="48.1" fill="none" stroke="#222" stroke-width="0.45"/>
<text x="229.4" y="51.4" font-size="3.3px" fill="#000" stroke="#000" stroke-width="0.08" text-anchor="end">0</text>
<path d="M230,50.3 H230.8" stroke="#222" stroke-width="0.3"/>
<text x="229.4" y="43.4" font-size="3.3px" fill="#000" stroke="#000" stroke-width="0.08" text-anchor="end">2</text>
<path d="M230,42.3 H230.8" stroke="#222" stroke-width="0.3"/>
<text x="229.4" y="35.5" font-size="3.3px" fill="#000" stroke="#000" stroke-width="0.08" text-anchor="end">4</text>
<path d="M230,34.4 H230.8" stroke="#222" stroke-width="0.3"/>
<text x="229.4" y="27.5" font-size="3.3px" fill="#000" stroke="#000" stroke-width="0.08" text-anchor="end">6</text>
<path d="M230,26.4 H230.8" stroke="#222" stroke-width="0.3"/>
<text x="229.4" y="19.6" font-size="3.3px" fill="#000" stroke="#000" stroke-width="0.08" text-anchor="end">8</text>
<path d="M230,18.5 H230.8" stroke="#222" stroke-width="0.3"/>
<text x="229.4" y="11.6" font-size="3.3px" fill="#000" stroke="#000" stroke-width="0.08" text-anchor="end">10</text>
<path d="M230,10.5 H230.8" stroke="#222" stroke-width="0.3"/>
<text x="229.4" y="3.7" font-size="3.3px" fill="#000" stroke="#000" stroke-width="0.08" text-anchor="end">12</text>
<path d="M230,2.6 H230.8" stroke="#222" stroke-width="0.3"/>
<text x="242.8" y="55.6" font-size="2.7px" fill="#000" stroke="#000" stroke-width="0.06" text-anchor="middle">12.0</text>
<path d="M242.8,50.4 V51.2" stroke="#222" stroke-width="0.3"/>
<text x="257.7" y="55.6" font-size="2.7px" fill="#000" stroke="#000" stroke-width="0.06" text-anchor="middle">12.5</text>
<path d="M257.7,50.4 V51.2" stroke="#222" stroke-width="0.3"/>
<text x="272.6" y="55.6" font-size="2.7px" fill="#000" stroke="#000" stroke-width="0.06" text-anchor="middle">13.0</text>
<path d="M272.6,50.4 V51.2" stroke="#222" stroke-width="0.3"/>
<text x="287.6" y="55.6" font-size="2.7px" fill="#000" stroke="#000" stroke-width="0.06" text-anchor="middle">13.5</text>
<path d="M287.6,50.4 V51.2" stroke="#222" stroke-width="0.3"/>
<text x="302.5" y="55.6" font-size="2.7px" fill="#000" stroke="#000" stroke-width="0.06" text-anchor="middle">14.0</text>
<path d="M302.5,50.4 V51.2" stroke="#222" stroke-width="0.3"/>
<text transform="translate(222.2,26.4) rotate(-90)" font-size="2.8px" fill="#222" text-anchor="middle">-log10(P-value)</text>
<path d="M234.8,69.4 L234.8,69.39 L235.2,69.24 L235.6,69.35 L236.0,69.20 L236.4,69.11 L236.8,69.26 L237.2,69.14 L237.6,69.22 L238.0,69.32 L238.4,69.07 L238.8,69.34 L239.2,69.38 L239.6,69.29 L240.0,69.39 L240.4,69.32 L240.8,69.29 L241.2,69.19 L241.6,69.29 L242.0,69.14 L242.4,69.14 L242.8,69.32 L243.2,69.27 L243.6,69.19 L244.0,69.32 L244.4,69.12 L244.8,68.97 L245.2,69.26 L245.6,69.38 L246.0,68.97 L246.4,69.11 L246.8,69.18 L247.2,69.20 L247.6,69.28 L248.0,69.37 L248.4,69.25 L248.8,69.37 L249.2,69.11 L249.6,69.33 L250.0,69.29 L250.4,69.28 L250.8,69.26 L251.2,69.27 L251.6,69.04 L252.0,68.55 L252.4,68.02 L252.8,68.19 L253.2,68.92 L253.6,69.27 L254.0,69.12 L254.4,69.30 L254.8,69.32 L255.2,69.09 L255.6,69.33 L256.0,69.23 L256.4,69.40 L256.8,69.26 L257.2,69.39 L257.6,69.34 L258.0,69.16 L258.4,69.21 L258.8,69.26 L259.2,68.89 L259.6,69.12 L260.0,69.23 L260.4,69.37 L260.8,69.07 L261.2,69.32 L261.6,69.02 L262.0,69.23 L262.4,69.33 L262.8,68.82 L263.2,68.98 L263.6,69.06 L264.0,69.30 L264.4,69.21 L264.8,68.91 L265.2,68.99 L265.6,68.69 L266.0,68.23 L266.4,68.22 L266.8,66.88 L267.2,63.80 L267.6,56.50 L268.0,56.59 L268.4,63.68 L268.8,67.37 L269.2,68.32 L269.6,68.40 L270.0,68.93 L270.4,69.06 L270.8,69.23 L271.2,69.25 L271.6,69.35 L272.0,69.18 L272.4,68.55 L272.8,69.27 L273.2,69.33 L273.6,69.12 L274.0,68.97 L274.4,69.39 L274.8,69.05 L275.2,69.17 L275.6,69.29 L276.0,69.27 L276.4,69.06 L276.8,69.06 L277.2,69.37 L277.6,69.29 L278.0,69.35 L278.4,69.17 L278.8,69.06 L279.2,68.85 L279.6,69.21 L280.0,69.03 L280.4,69.05 L280.8,68.79 L281.2,68.12 L281.6,68.22 L282.0,68.89 L282.4,68.82 L282.8,69.28 L283.2,69.08 L283.6,68.97 L284.0,69.22 L284.4,69.29 L284.8,68.91 L285.2,69.21 L285.6,68.79 L286.0,68.77 L286.4,69.10 L286.8,68.35 L287.2,67.92 L287.6,68.17 L288.0,68.40 L288.4,68.97 L288.8,69.16 L289.2,69.30 L289.6,69.14 L290.0,69.38 L290.4,69.11 L290.8,69.08 L291.2,69.19 L291.6,69.34 L292.0,69.16 L292.4,69.31 L292.8,68.97 L293.2,69.16 L293.6,68.86 L294.0,69.28 L294.4,69.17 L294.8,69.09 L295.2,69.21 L295.6,69.28 L296.0,69.20 L296.4,69.01 L296.8,69.13 L297.2,69.39 L297.6,69.38 L298.0,69.35 L298.4,69.40 L298.8,69.05 L299.2,69.11 L299.6,69.10 L299.8,69.4 Z" fill="#4a78c8" stroke="#4a78c8" stroke-width="0.35" stroke-dasharray="1.2 0.5"/>
<path d="M234.8,84 L234.8,83.78 L235.2,83.72 L235.6,83.92 L236.0,83.93 L236.4,83.70 L236.8,83.75 L237.2,83.63 L237.6,83.96 L238.0,83.87 L238.4,83.93 L238.8,83.50 L239.2,83.55 L239.6,83.83 L240.0,83.94 L240.4,83.85 L240.8,83.96 L241.2,83.91 L241.6,83.91 L242.0,83.81 L242.4,83.89 L242.8,83.19 L243.2,83.85 L243.6,83.82 L244.0,83.66 L244.4,83.72 L244.8,83.74 L245.2,83.80 L245.6,83.19 L246.0,84.00 L246.4,83.03 L246.8,83.96 L247.2,83.77 L247.6,83.43 L248.0,83.79 L248.4,83.66 L248.8,83.80 L249.2,84.00 L249.6,83.66 L250.0,83.88 L250.4,83.91 L250.8,83.77 L251.2,83.91 L251.6,83.88 L252.0,83.39 L252.4,83.79 L252.8,83.69 L253.2,83.97 L253.6,83.38 L254.0,83.70 L254.4,83.94 L254.8,83.89 L255.2,83.75 L255.6,83.75 L256.0,83.70 L256.4,83.92 L256.8,83.76 L257.2,83.61 L257.6,83.72 L258.0,83.71 L258.4,83.66 L258.8,83.33 L259.2,83.62 L259.6,83.88 L260.0,83.71 L260.4,83.72 L260.8,83.40 L261.2,83.15 L261.6,83.19 L262.0,83.37 L262.4,83.51 L262.8,82.89 L263.2,83.58 L263.6,83.20 L264.0,83.53 L264.4,83.82 L264.8,83.40 L265.2,83.35 L265.6,83.83 L266.0,83.86 L266.4,83.61 L266.8,83.72 L267.2,83.59 L267.6,83.74 L268.0,83.73 L268.4,83.17 L268.8,83.41 L269.2,82.86 L269.6,83.22 L270.0,82.91 L270.4,82.54 L270.8,82.97 L271.2,83.16 L271.6,83.16 L272.0,83.60 L272.4,83.55 L272.8,83.40 L273.2,83.83 L273.6,83.88 L274.0,83.74 L274.4,83.77 L274.8,83.64 L275.2,83.73 L275.6,83.49 L276.0,83.90 L276.4,83.85 L276.8,83.34 L277.2,83.93 L277.6,83.72 L278.0,83.55 L278.4,83.87 L278.8,83.75 L279.2,83.74 L279.6,83.90 L280.0,83.35 L280.4,83.38 L280.8,83.68 L281.2,83.71 L281.6,83.30 L282.0,82.63 L282.4,83.05 L282.8,82.75 L283.2,82.87 L283.6,83.09 L284.0,83.34 L284.4,83.26 L284.8,83.13 L285.2,83.33 L285.6,83.93 L286.0,83.76 L286.4,83.70 L286.8,83.81 L287.2,83.76 L287.6,83.60 L288.0,83.95 L288.4,83.72 L288.8,83.68 L289.2,83.55 L289.6,83.59 L290.0,83.92 L290.4,83.74 L290.8,83.52 L291.2,83.95 L291.6,83.70 L292.0,83.65 L292.4,83.80 L292.8,83.89 L293.2,83.55 L293.6,83.97 L294.0,83.44 L294.4,83.41 L294.8,83.84 L295.2,83.72 L295.6,83.88 L296.0,83.76 L296.4,83.91 L296.8,83.99 L297.2,83.88 L297.6,83.48 L298.0,83.84 L298.4,83.85 L298.8,83.70 L299.2,83.94 L299.6,83.85 L299.8,84 Z" fill="#2e8c8c" stroke="#2e8c8c" stroke-width="0.35" stroke-dasharray="1.2 0.5"/>
<path d="M223.6,63.4 L223.60,57.70" stroke="#2453ad" stroke-width="1.5" stroke-linecap="round"/><path d="M223.6,63.4 L223.60,69.10" stroke="#2453ad" stroke-width="1.5" stroke-linecap="round"/><path d="M223.6,63.4 L228.54,60.55" stroke="#2453ad" stroke-width="1.5" stroke-linecap="round"/><path d="M223.6,63.4 L218.66,60.55" stroke="#2453ad" stroke-width="1.5" stroke-linecap="round"/><path d="M223.6,63.4 L218.66,66.25" stroke="#2453ad" stroke-width="1.5" stroke-linecap="round"/><path d="M223.6,63.4 L228.54,66.25" stroke="#2453ad" stroke-width="1.5" stroke-linecap="round"/><circle cx="223.6" cy="63.4" r="3.1" fill="#2453ad"/><circle cx="223.6" cy="63.4" r="2.2" fill="#6f94da"/><circle cx="223.6" cy="63.4" r="1.0" fill="#2453ad" opacity="0.8"/>
<path d="M223.6,78.2 L223.60,73.40" stroke="#2e7f85" stroke-width="1.0" stroke-linecap="round"/><circle cx="223.60" cy="73.40" r="0.85" fill="#2e7f85"/><path d="M223.6,78.2 L223.60,83.00" stroke="#2e7f85" stroke-width="1.0" stroke-linecap="round"/><circle cx="223.60" cy="83.00" r="0.85" fill="#2e7f85"/><path d="M223.6,78.2 L228.40,78.20" stroke="#2e7f85" stroke-width="1.0" stroke-linecap="round"/><circle cx="228.40" cy="78.20" r="0.85" fill="#2e7f85"/><path d="M223.6,78.2 L218.80,78.20" stroke="#2e7f85" stroke-width="1.0" stroke-linecap="round"/><circle cx="218.80" cy="78.20" r="0.85" fill="#2e7f85"/><path d="M223.6,78.2 L226.99,74.81" stroke="#2e7f85" stroke-width="1.0" stroke-linecap="round"/><circle cx="226.99" cy="74.81" r="0.85" fill="#2e7f85"/><path d="M223.6,78.2 L220.21,74.81" stroke="#2e7f85" stroke-width="1.0" stroke-linecap="round"/><circle cx="220.21" cy="74.81" r="0.85" fill="#2e7f85"/><path d="M223.6,78.2 L220.21,81.59" stroke="#2e7f85" stroke-width="1.0" stroke-linecap="round"/><circle cx="220.21" cy="81.59" r="0.85" fill="#2e7f85"/><path d="M223.6,78.2 L226.99,81.59" stroke="#2e7f85" stroke-width="1.0" stroke-linecap="round"/><circle cx="226.99" cy="81.59" r="0.85" fill="#2e7f85"/><circle cx="223.6" cy="78.2" r="3.1" fill="#2e7f85"/><circle cx="223.6" cy="78.2" r="2.2" fill="#7fc0c0"/><circle cx="223.6" cy="78.2" r="1.0" fill="#2e7f85" opacity="0.8"/>
</g>
<text class="cap" x="264.5" y="97">Association tests</text>
<text class="cap" x="264.5" y="108">Fine-mapping</text>
<text class="cap" x="264.5" y="118.8">Functional Annotations</text>
<text class="se" x="337" y="50" font-size="10.6px" fill="#222" stroke="#222" stroke-width="0.18">GRS</text>
<text x="358.8" y="49.7" font-size="11px" fill="#222" stroke="#222" stroke-width="0.18" style="font-family:'Liberation Serif',serif">=</text>
<text x="368.6" y="53.4" font-size="24.5px" fill="#222" stroke="#222" stroke-width="0.18" style="font-family:'Liberation Serif',serif" textLength="13.6" lengthAdjust="spacingAndGlyphs">∑</text>
<text class="se" x="376" y="34.8" font-size="8px" fill="#222" stroke="#222" stroke-width="0.18" text-anchor="middle">n</text>
<text class="se" x="375.8" y="63.2" font-size="8px" fill="#222" stroke="#222" stroke-width="0.18" text-anchor="middle">i</text>
<text class="se" x="384.8" y="50" font-size="10.6px" fill="#222" stroke="#222" stroke-width="0.18">β</text>
<text class="se" x="390.8" y="52.4" font-size="7.4px" fill="#222" stroke="#222" stroke-width="0.18">i</text>
<text class="se" x="393.6" y="50" font-size="10.6px" fill="#222" stroke="#222" stroke-width="0.18">X</text>
<text class="se" x="400.4" y="52.4" font-size="7.4px" fill="#222" stroke="#222" stroke-width="0.18">i</text>
<text class="cap" x="370.2" y="108">GRS generation</text>
<text class="cap" x="469.3" y="97">GRS testing</text>
<text class="cap" x="469.2" y="107.8">400 nonDR3/DR4</text>
<text class="cap" x="469.4" y="118.4">individuals</text>
<path d="M50.2,143 V173.6 M50.2,179.8 V273.3 H379.6" stroke="#777" stroke-width="0.9" fill="none"/>
<path d="M48.8,174.4 L51.6,172.8 M48.8,180.6 L51.6,179" stroke="#777" stroke-width="0.7"/>
<path d="M47.4,143 H50.2" stroke="#777" stroke-width="0.8"/>
<text class="tk" x="46.2" y="145.1" text-anchor="end">165</text>
<path d="M47.4,153.2 H50.2" stroke="#777" stroke-width="0.8"/>
<text class="tk" x="46.2" y="155.29999999999998" text-anchor="end">125</text>
<path d="M47.4,163.4 H50.2" stroke="#777" stroke-width="0.8"/>
<text class="tk" x="46.2" y="165.5" text-anchor="end">85</text>
<path d="M47.4,173.6 H50.2" stroke="#777" stroke-width="0.8"/>
<text class="tk" x="46.2" y="175.7" text-anchor="end">45</text>
<path d="M47.4,179.8 H50.2" stroke="#777" stroke-width="0.8"/>
<text class="tk" x="46.2" y="181.9" text-anchor="end">45</text>
<path d="M47.4,190 H50.2" stroke="#777" stroke-width="0.8"/>
<text class="tk" x="46.2" y="192.1" text-anchor="end">40</text>
<path d="M47.4,200.3 H50.2" stroke="#777" stroke-width="0.8"/>
<text class="tk" x="46.2" y="202.4" text-anchor="end">35</text>
<path d="M47.4,210.5 H50.2" stroke="#777" stroke-width="0.8"/>
<text class="tk" x="46.2" y="212.6" text-anchor="end">30</text>
<path d="M47.4,220.6 H50.2" stroke="#777" stroke-width="0.8"/>
<text class="tk" x="46.2" y="222.7" text-anchor="end">25</text>
<path d="M47.4,230.8 H50.2" stroke="#777" stroke-width="0.8"/>
<text class="tk" x="46.2" y="232.9" text-anchor="end">20</text>
<path d="M47.4,241 H50.2" stroke="#777" stroke-width="0.8"/>
<text class="tk" x="46.2" y="243.1" text-anchor="end">15</text>
<path d="M47.4,251.1 H50.2" stroke="#777" stroke-width="0.8"/>
<text class="tk" x="46.2" y="253.2" text-anchor="end">10</text>
<path d="M47.4,261.3 H50.2" stroke="#777" stroke-width="0.8"/>
<text class="tk" x="46.2" y="263.40000000000003" text-anchor="end">5</text>
<path d="M47.4,271.4 H50.2" stroke="#777" stroke-width="0.8"/>
<text class="tk" x="46.2" y="273.5" text-anchor="end">0</text>
<text transform="translate(32.2,208.6) rotate(-90)" font-size="7.35px" fill="#333" text-anchor="middle">-log10(P-value)</text>
<path d="M52.6,271.5 L52.6,262.1 L53.1,262.1 L53.6,262.0 L54.1,262.1 L54.6,262.1 L55.1,261.7 L55.6,261.4 L56.1,260.5 L56.6,261.9 L57.1,260.7 L57.6,262.1 L58.1,262.1 L58.6,262.1 L59.1,261.8 L59.6,262.8 L60.1,262.1 L60.6,262.1 L61.1,262.1 L61.6,261.8 L62.1,263.4 L62.6,262.1 L63.1,260.8 L63.6,262.7 L64.1,260.7 L64.6,261.3 L65.1,261.4 L65.6,260.7 L66.1,258.9 L66.6,259.2 L67.1,260.3 L67.6,260.3 L68.1,261.2 L68.6,260.7 L69.1,261.0 L69.6,262.3 L70.1,260.3 L70.6,260.4 L71.1,259.2 L71.6,260.6 L72.1,260.5 L72.6,260.9 L73.1,261.1 L73.6,261.0 L74.1,260.3 L74.6,260.3 L75.1,259.2 L75.6,260.3 L76.1,260.3 L76.6,261.6 L77.1,260.6 L77.6,260.3 L78.1,260.3 L78.2,271.5 Z" fill="#d4d4d4"/>
<circle cx="57.7" cy="257.4" r="0.4" fill="#d4d4d4"/>
<circle cx="57.6" cy="258.7" r="0.4" fill="#d4d4d4"/>
<circle cx="66.9" cy="257.4" r="0.4" fill="#d4d4d4"/>
<circle cx="77.5" cy="257.3" r="0.4" fill="#d4d4d4"/>
<path d="M79,271.5 L79.0,260.3 L79.5,259.8 L80.0,260.3 L80.5,260.3 L81.0,261.5 L81.5,260.3 L82.0,261.2 L82.5,260.3 L83.0,260.9 L83.5,262.1 L84.0,262.1 L84.5,261.9 L85.0,262.7 L85.5,262.0 L86.0,262.1 L86.5,260.4 L87.0,262.1 L87.5,262.1 L88.0,262.1 L88.5,262.1 L89.0,263.2 L89.5,262.0 L90.0,261.2 L90.5,261.1 L91.0,260.3 L91.5,259.3 L92.0,261.0 L92.5,261.6 L93.0,261.5 L93.5,261.2 L94.0,261.5 L94.5,260.4 L95.0,260.9 L95.5,261.2 L96.0,259.4 L96.5,260.3 L97.0,260.6 L97.5,261.3 L98.0,262.9 L98.5,261.9 L99.0,261.6 L99.5,261.5 L100.0,262.1 L100.5,261.6 L101.0,259.8 L101.5,261.7 L102.0,261.6 L102.5,261.6 L103.0,261.4 L103.5,260.8 L104.0,261.0 L104.4,271.5 Z" fill="#a9a9a9"/>
<circle cx="98.2" cy="259.2" r="0.4" fill="#a9a9a9"/>
<circle cx="103.7" cy="257.4" r="0.4" fill="#a9a9a9"/>
<circle cx="83.7" cy="257.1" r="0.4" fill="#a9a9a9"/>
<circle cx="83.1" cy="258.0" r="0.4" fill="#a9a9a9"/>
<path d="M104.8,271.5 L104.8,261.8 L105.3,259.4 L105.8,261.6 L106.3,261.4 L106.8,261.9 L107.3,260.6 L107.8,262.0 L108.3,262.0 L108.8,260.4 L109.3,263.0 L109.8,263.1 L110.3,261.2 L110.8,260.4 L111.3,260.3 L111.8,260.3 L112.3,260.3 L112.8,260.3 L113.3,260.3 L113.8,260.3 L114.3,261.6 L114.8,260.3 L115.3,260.8 L115.8,260.9 L116.3,261.5 L116.8,262.1 L117.3,261.4 L117.8,260.4 L118.3,261.5 L118.8,263.5 L119.3,262.1 L119.8,261.8 L120.3,260.9 L120.8,261.8 L121.3,262.1 L121.8,262.1 L122.3,261.3 L122.5,271.5 Z" fill="#d4d4d4"/>
<circle cx="109.2" cy="258.3" r="0.4" fill="#d4d4d4"/>
<circle cx="105.2" cy="258.8" r="0.4" fill="#d4d4d4"/>
<path d="M126,271.5 L126.0,260.8 L126.5,261.2 L127.0,260.5 L127.5,261.8 L128.0,260.9 L128.5,261.2 L129.0,261.5 L129.5,261.2 L130.0,260.8 L130.5,260.3 L131.0,260.5 L131.5,261.1 L132.0,260.4 L132.5,260.3 L133.0,260.3 L133.5,260.3 L134.0,260.3 L134.5,260.3 L135.0,261.1 L135.5,261.2 L136.0,260.3 L136.5,260.7 L137.0,261.1 L137.5,260.6 L138.0,260.6 L138.5,261.5 L139.0,261.3 L139.5,261.5 L140.0,262.4 L140.5,261.9 L141.0,261.5 L141.5,261.5 L142.0,261.7 L142.5,261.7 L143.0,261.8 L143.5,261.3 L144.0,261.9 L144.5,261.6 L145.0,262.8 L145.5,262.8 L145.8,271.5 Z" fill="#a9a9a9"/>
<circle cx="127.9" cy="256.6" r="0.4" fill="#a9a9a9"/>
<circle cx="133.6" cy="257.5" r="0.4" fill="#a9a9a9"/>
<circle cx="137.3" cy="258.8" r="0.4" fill="#a9a9a9"/>
<path d="M146.6,271.5 L146.6,260.4 L147.1,261.2 L147.6,260.3 L148.1,260.3 L148.6,260.3 L149.1,260.5 L149.6,260.5 L150.1,260.6 L150.6,260.3 L151.1,260.3 L151.6,260.3 L152.1,260.6 L152.6,259.6 L153.1,259.7 L153.6,262.1 L154.1,262.2 L154.6,262.1 L155.1,260.5 L155.6,261.5 L156.1,260.1 L156.6,261.2 L157.1,262.0 L157.6,262.1 L158.1,261.3 L158.6,260.6 L159.1,260.9 L159.6,260.3 L160.1,260.3 L160.6,259.4 L161.1,260.7 L161.6,260.4 L162.1,260.3 L162.6,260.8 L163.1,259.4 L163.6,261.1 L164.1,261.4 L164.6,261.4 L165.1,261.6 L165.6,261.8 L165.8,271.5 Z" fill="#d4d4d4"/>
<circle cx="160.8" cy="256.9" r="0.4" fill="#d4d4d4"/>
<circle cx="153.7" cy="256.8" r="0.4" fill="#d4d4d4"/>
<circle cx="150.1" cy="258.8" r="0.4" fill="#d4d4d4"/>
<path d="M166.4,271.5 L166.4,261.5 L166.9,261.1 L167.4,260.9 L167.9,260.6 L168.4,260.3 L168.9,258.7 L169.4,260.4 L169.9,260.3 L170.4,261.7 L170.9,263.0 L171.4,261.1 L171.9,260.3 L172.4,260.3 L172.9,260.4 L173.4,260.4 L173.9,261.9 L174.4,260.3 L174.9,260.3 L175.4,261.7 L175.9,262.8 L176.4,261.1 L176.9,260.9 L177.4,260.8 L177.9,262.0 L178.4,261.3 L178.9,261.2 L179.4,260.5 L179.9,261.3 L180.4,261.4 L180.9,261.9 L181.4,261.5 L181.9,261.1 L182.4,261.6 L182.9,261.3 L183.4,262.4 L183.9,262.1 L184.2,271.5 Z" fill="#a9a9a9"/>
<circle cx="176.8" cy="257.1" r="0.4" fill="#a9a9a9"/>
<circle cx="182.4" cy="256.6" r="0.4" fill="#a9a9a9"/>
<path d="M185,271.5 L185.0,260.7 L185.5,261.6 L186.0,260.3 L186.5,260.3 L187.0,260.4 L187.5,260.5 L188.0,261.2 L188.5,259.9 L189.0,261.4 L189.5,263.6 L190.0,262.0 L190.5,262.1 L191.0,262.0 L191.5,261.5 L192.0,261.5 L192.5,260.7 L193.0,260.7 L193.5,261.7 L194.0,260.7 L194.5,260.6 L195.0,260.3 L195.5,260.3 L196.0,260.7 L196.5,261.3 L197.0,261.2 L197.5,260.3 L198.0,260.3 L198.5,261.2 L199.0,262.8 L199.5,262.1 L200.0,262.1 L200.5,261.3 L201.0,261.4 L201.4,271.5 Z" fill="#d4d4d4"/>
<circle cx="193.8" cy="257.3" r="0.4" fill="#d4d4d4"/>
<circle cx="189.5" cy="259.3" r="0.4" fill="#d4d4d4"/>
<path d="M202.4,271.5 L202.4,263.4 L202.9,261.8 L203.4,261.8 L203.9,263.2 L204.4,261.7 L204.9,261.4 L205.4,261.1 L205.9,261.6 L206.4,260.6 L206.9,261.2 L207.4,261.0 L207.9,261.1 L208.4,260.3 L208.9,260.6 L209.4,260.6 L209.9,260.3 L210.4,260.3 L210.9,260.4 L211.4,260.7 L211.9,261.6 L212.4,260.3 L212.9,258.9 L213.4,260.6 L213.9,260.4 L214.4,261.5 L214.9,260.3 L215.4,260.3 L215.9,260.3 L216.4,260.4 L216.9,260.6 L217.4,260.3 L217.6,271.5 Z" fill="#a9a9a9"/>
<circle cx="216.1" cy="258.9" r="0.4" fill="#a9a9a9"/>
<circle cx="207.1" cy="257.5" r="0.4" fill="#a9a9a9"/>
<path d="M218.6,271.5 L218.6,261.3 L219.1,261.0 L219.6,261.2 L220.1,262.1 L220.6,260.8 L221.1,260.8 L221.6,261.7 L222.1,261.7 L222.6,263.1 L223.1,261.9 L223.2,271.5 Z" fill="#d4d4d4"/>
<path d="M225.2,271.5 L225.2,261.5 L225.7,262.6 L226.2,262.1 L226.7,261.8 L227.2,261.7 L227.7,261.3 L228.2,261.3 L228.7,261.7 L229.2,262.1 L229.7,261.4 L230.2,261.4 L230.7,261.3 L231.2,260.9 L231.7,260.5 L232.2,260.3 L232.7,260.3 L233.2,258.5 L233.2,271.5 Z" fill="#d4d4d4"/>
<circle cx="225.6" cy="258.6" r="0.4" fill="#d4d4d4"/>
<path d="M234,271.5 L234.0,261.3 L234.5,260.5 L235.0,260.3 L235.5,260.3 L236.0,260.3 L236.5,260.4 L237.0,260.3 L237.5,260.3 L238.0,260.3 L238.5,260.3 L239.0,260.6 L239.5,260.7 L240.0,260.3 L240.5,260.3 L241.0,261.7 L241.5,260.5 L242.0,260.3 L242.5,260.3 L243.0,260.3 L243.5,260.3 L244.0,261.3 L244.5,260.3 L245.0,259.6 L245.5,261.9 L246.0,262.1 L246.5,261.6 L247.0,262.1 L247.5,262.1 L247.6,271.5 Z" fill="#a9a9a9"/>
<circle cx="235.5" cy="258.8" r="0.4" fill="#a9a9a9"/>
<circle cx="246.4" cy="258.3" r="0.4" fill="#a9a9a9"/>
<path d="M249,271.5 L249.0,260.8 L249.5,260.8 L250.0,261.1 L250.5,260.4 L251.0,260.4 L251.5,260.4 L252.0,260.3 L252.5,260.3 L253.0,260.3 L253.5,260.8 L254.0,260.3 L254.5,260.3 L255.0,260.3 L255.5,260.4 L256.0,260.5 L256.5,260.9 L257.0,260.8 L257.5,260.6 L258.0,260.8 L258.5,258.9 L259.0,260.3 L259.5,260.3 L260.0,261.3 L260.5,261.0 L261.0,260.5 L261.5,261.1 L262.0,261.8 L262.5,261.9 L263.0,262.1 L263.5,261.6 L263.6,271.5 Z" fill="#d4d4d4"/>
<circle cx="256.6" cy="258.0" r="0.4" fill="#d4d4d4"/>
<circle cx="255.1" cy="256.9" r="0.4" fill="#d4d4d4"/>
<path d="M264.6,271.5 L264.6,261.6 L265.1,261.4 L265.6,262.1 L266.1,260.3 L266.6,260.3 L267.1,260.5 L267.6,260.4 L268.1,260.3 L268.6,260.7 L269.1,260.6 L269.6,260.9 L270.1,261.3 L270.6,261.1 L271.1,261.0 L271.6,260.7 L272.1,260.4 L272.6,260.3 L273.1,260.3 L273.6,260.3 L274.1,260.3 L274.6,260.6 L275.1,260.5 L275.6,261.4 L276.1,261.4 L276.6,261.3 L277.1,260.4 L277.6,261.1 L278.1,261.3 L278.2,271.5 Z" fill="#a9a9a9"/>
<circle cx="275.5" cy="258.2" r="0.4" fill="#a9a9a9"/>
<circle cx="272.8" cy="258.7" r="0.4" fill="#a9a9a9"/>
<path d="M281,271.5 L281.0,261.5 L281.5,261.4 L282.0,262.1 L282.5,262.1 L283.0,262.1 L283.5,262.1 L284.0,262.1 L284.5,261.9 L285.0,261.4 L285.5,261.5 L286.0,262.1 L286.5,262.0 L287.0,262.0 L287.5,261.9 L288.0,261.8 L288.5,261.5 L289.0,261.1 L289.5,261.5 L290.0,261.5 L290.5,261.4 L291.0,261.8 L291.4,271.5 Z" fill="#d4d4d4"/>
<circle cx="281.9" cy="258.9" r="0.4" fill="#d4d4d4"/>
<path d="M293.6,271.5 L293.6,261.7 L294.1,261.7 L294.6,261.2 L295.1,261.3 L295.6,261.7 L296.1,259.0 L296.6,260.3 L297.1,260.4 L297.6,260.8 L298.1,261.8 L298.6,260.3 L299.1,260.4 L299.6,260.8 L300.1,260.3 L300.6,260.6 L301.1,260.5 L301.6,261.5 L302.1,261.7 L302.6,261.5 L303.1,262.1 L303.4,271.5 Z" fill="#a9a9a9"/>
<circle cx="302.9" cy="257.9" r="0.4" fill="#a9a9a9"/>
<path d="M306.6,271.5 L306.6,261.2 L307.1,261.0 L307.6,260.6 L308.1,260.5 L308.6,261.2 L309.1,260.4 L309.6,260.3 L310.1,260.6 L310.6,261.0 L311.1,260.6 L311.6,260.9 L312.1,260.6 L312.6,261.0 L313.1,261.1 L313.6,259.9 L314.1,258.7 L314.6,259.4 L315.1,260.3 L315.2,271.5 Z" fill="#d4d4d4"/>
<circle cx="312.8" cy="256.8" r="0.4" fill="#d4d4d4"/>
<path d="M316.2,271.5 L316.2,260.0 L316.7,262.0 L317.2,261.8 L317.7,261.1 L318.2,260.3 L318.7,260.3 L319.2,259.6 L319.7,258.9 L320.2,261.2 L320.7,260.6 L321.2,261.2 L321.7,262.1 L322.2,262.1 L322.7,261.9 L323.2,260.5 L323.7,261.4 L324.2,260.5 L324.7,259.1 L325.2,260.3 L325.7,260.5 L326,271.5 Z" fill="#a9a9a9"/>
<circle cx="321.8" cy="258.1" r="0.4" fill="#a9a9a9"/>
<path d="M326.8,271.5 L326.8,261.1 L327.3,261.4 L327.8,260.8 L328.3,262.2 L328.8,260.5 L329.3,261.6 L329.8,261.6 L330.3,261.6 L330.8,261.9 L331.3,262.1 L331.8,261.0 L332.3,261.3 L332.8,261.5 L333.3,261.1 L333.8,260.9 L334.3,261.6 L334.8,261.8 L335.3,262.1 L335.8,262.1 L336.3,262.1 L336.8,260.4 L337,271.5 Z" fill="#d4d4d4"/>
<circle cx="334.5" cy="259.1" r="0.4" fill="#d4d4d4"/>
<path d="M338,271.5 L338.0,260.3 L338.5,260.3 L339.0,260.6 L339.5,261.1 L340.0,261.8 L340.5,261.0 L341.0,260.7 L341.5,260.8 L342.0,261.0 L342.5,260.9 L343.0,260.3 L343.5,260.3 L344.0,260.8 L344.5,261.6 L345.0,261.9 L345.5,261.6 L346.0,262.0 L346,271.5 Z" fill="#a9a9a9"/>
<circle cx="338.9" cy="257.3" r="0.4" fill="#a9a9a9"/>
<path d="M347,271.5 L347.0,261.6 L347.5,261.8 L348.0,261.8 L348.5,262.0 L349.0,260.8 L349.5,259.6 L350.0,261.1 L350.5,261.2 L351.0,261.3 L351.5,262.0 L352.0,261.9 L352.5,262.4 L353.0,263.6 L353.5,262.1 L353.8,271.5 Z" fill="#d4d4d4"/>
<circle cx="352.3" cy="258.7" r="0.4" fill="#d4d4d4"/>
<path d="M354.6,271.5 L354.6,260.6 L355.1,260.3 L355.6,260.3 L356.1,260.9 L356.6,261.1 L357.1,261.1 L357.6,261.4 L358.1,262.0 L358.6,261.5 L359.1,263.4 L359.6,262.8 L360.1,262.1 L360.6,262.1 L361.1,262.1 L361.6,263.5 L361.8,271.5 Z" fill="#a9a9a9"/>
<circle cx="357.2" cy="256.6" r="0.4" fill="#a9a9a9"/>
<path d="M364,271.5 L364.0,262.5 L364.5,260.9 L365.0,261.0 L365.5,261.5 L366.0,260.6 L366.5,261.6 L367.0,262.1 L367.5,261.4 L368.0,261.6 L368.5,261.9 L368.8,271.5 Z" fill="#d4d4d4"/>
<path d="M370.6,271.5 L370.6,261.8 L371.1,261.1 L371.6,260.5 L372.1,261.8 L372.6,260.3 L373.1,260.7 L373.6,261.7 L374.1,260.5 L374.6,261.7 L375.1,260.8 L375.6,261.4 L375.6,271.5 Z" fill="#a9a9a9"/>
<path d="M50.2,256.5 H379.6" stroke="#333" stroke-width="0.48"/>
<path d="M53.6,273.3 V275.5" stroke="#777" stroke-width="0.8"/>
<text class="tk" x="53.6" y="282.3" text-anchor="middle">1</text>
<path d="M79.6,273.3 V275.5" stroke="#777" stroke-width="0.8"/>
<text class="tk" x="79.6" y="282.3" text-anchor="middle">2</text>
<path d="M105,273.3 V275.5" stroke="#777" stroke-width="0.8"/>
<text class="tk" x="105" y="282.3" text-anchor="middle">3</text>
<path d="M126,273.3 V275.5" stroke="#777" stroke-width="0.8"/>
<text class="tk" x="126" y="282.3" text-anchor="middle">4</text>
<path d="M146.6,273.3 V275.5" stroke="#777" stroke-width="0.8"/>
<text class="tk" x="146.6" y="282.3" text-anchor="middle">5</text>
<path d="M166.4,273.3 V275.5" stroke="#777" stroke-width="0.8"/>
<text class="tk" x="166.4" y="282.3" text-anchor="middle">6</text>
<path d="M185,273.3 V275.5" stroke="#777" stroke-width="0.8"/>
<text class="tk" x="185" y="282.3" text-anchor="middle">7</text>
<path d="M202.4,273.3 V275.5" stroke="#777" stroke-width="0.8"/>
<text class="tk" x="202.4" y="282.3" text-anchor="middle">8</text>
<path d="M218.6,273.3 V275.5" stroke="#777" stroke-width="0.8"/>
<text class="tk" x="218.6" y="282.3" text-anchor="middle">9</text>
<path d="M234,273.3 V275.5" stroke="#777" stroke-width="0.8"/>
<text class="tk" x="234" y="282.3" text-anchor="middle">10</text>
<path d="M249.4,273.3 V275.5" stroke="#777" stroke-width="0.8"/>
<text class="tk" x="249.4" y="282.3" text-anchor="middle">11</text>
<path d="M264.6,273.3 V275.5" stroke="#777" stroke-width="0.8"/>
<text class="tk" x="264.6" y="282.3" text-anchor="middle">12</text>
<path d="M279.4,273.3 V275.5" stroke="#777" stroke-width="0.8"/>
<text class="tk" x="279.4" y="282.3" text-anchor="middle">13</text>
<path d="M292.6,273.3 V275.5" stroke="#777" stroke-width="0.8"/>
<text class="tk" x="292.6" y="282.3" text-anchor="middle">14</text>
<path d="M304.6,273.3 V275.5" stroke="#777" stroke-width="0.8"/>
<text class="tk" x="304.6" y="282.3" text-anchor="middle">15</text>
<path d="M316.6,273.3 V275.5" stroke="#777" stroke-width="0.8"/>
<text class="tk" x="316.6" y="282.3" text-anchor="middle">16</text>
<path d="M327.4,273.3 V275.5" stroke="#777" stroke-width="0.8"/>
<text class="tk" x="327.4" y="282.3" text-anchor="middle">17</text>
<path d="M337.6,273.3 V275.5" stroke="#777" stroke-width="0.8"/>
<text class="tk" x="337.6" y="282.3" text-anchor="middle">18</text>
<path d="M347.5,273.3 V275.5" stroke="#777" stroke-width="0.8"/>
<text class="tk" x="347.5" y="282.3" text-anchor="middle">19</text>
<path d="M355,273.3 V275.5" stroke="#777" stroke-width="0.8"/>
<text class="tk" x="355" y="282.3" text-anchor="middle">20</text>
<path d="M362.4,273.3 V275.5" stroke="#777" stroke-width="0.8"/>
<text class="tk" x="362.4" y="282.3" text-anchor="middle">21</text>
<path d="M369.6,273.3 V275.5" stroke="#777" stroke-width="0.8"/>
<text class="tk" x="369.6" y="282.3" text-anchor="middle">22</text>
<path d="M376.4,273.3 V275.5" stroke="#777" stroke-width="0.8"/>
<text class="tk" x="376.4" y="282.3" text-anchor="middle">23</text>
<text x="214.8" y="292.2" font-size="7.5px" fill="#333" text-anchor="middle">Chromosome</text>
<path d="M64.4,259.5 V271.7" stroke="#fbf7f0" stroke-width="2.9" opacity="0.6"/>
<path d="M95.7,259.5 V271.7" stroke="#fbf7f0" stroke-width="2.9" opacity="0.6"/>
<path d="M123.7,259.5 V271.7" stroke="#fbf7f0" stroke-width="2.9" opacity="0.6"/>
<path d="M169.9,259.5 V271.7" stroke="#fbf7f0" stroke-width="2.9" opacity="0.6"/>
<path d="M249.3,259.5 V271.7" stroke="#fbf7f0" stroke-width="2.9" opacity="0.6"/>
<path d="M270,259.5 V271.7" stroke="#fbf7f0" stroke-width="2.9" opacity="0.6"/>
<path d="M339,259.5 V271.7" stroke="#fbf7f0" stroke-width="2.9" opacity="0.6"/>
<path d="M64.4,235 V271.9" stroke="#1f4aa0" stroke-width="2"/>
<circle cx="64.4" cy="216.6" r="0.8" fill="#1f4aa0"/>
<circle cx="64.4" cy="192.2" r="1.7" fill="#1f4aa0" stroke="#1b3578" stroke-width="0.7"/>
<text class="gl" x="53.7" y="188.4" textLength="24.6" lengthAdjust="spacingAndGlyphs">PTPN22</text>
<path d="M95.7,256 V271.9" stroke="#1f4aa0" stroke-width="2"/><circle cx="95.7" cy="256" r="1.75" fill="#1f4aa0" stroke="#1b3578" stroke-width="0.7"/>
<text class="gs" x="91.1" y="226.9" textLength="11.3" lengthAdjust="spacingAndGlyphs">IFIH1</text>
<text class="gl" x="87.5" y="237.1" textLength="15.5" lengthAdjust="spacingAndGlyphs">IFIH1</text>
<path d="M123.7,256.4 V271.9" stroke="#7b2d8b" stroke-width="2"/><circle cx="123.7" cy="256.4" r="1.75" fill="#7b2d8b" stroke="#54186a" stroke-width="0.7"/>
<text class="gs pu" x="119.1" y="226.9" textLength="14.5" lengthAdjust="spacingAndGlyphs">GMNC</text>
<text class="gl pu" x="116.1" y="237.1" textLength="17.9" lengthAdjust="spacingAndGlyphs">OSTN</text>
<path d="M169.9,150.6 V173.6 M169.9,179.6 V271.9" stroke="#1f4aa0" stroke-width="2.2"/>
<circle cx="169.9" cy="144.6" r="1.7" fill="#1f4aa0" stroke="#1b3578" stroke-width="0.7"/>
<text class="gl" x="163.1" y="140.3" textLength="14.9" lengthAdjust="spacingAndGlyphs">MHC</text>
<path d="M249.3,244 V271.9" stroke="#1f4aa0" stroke-width="2"/>
<path d="M249.3,215 V219.6" stroke="#1f4aa0" stroke-width="1.4"/>
<path d="M249.3,222.4 V231.4" stroke="#1f4aa0" stroke-width="1.5" stroke-dasharray="1.1 1.3"/>
<path d="M249.3,232.4 V244" stroke="#1f4aa0" stroke-width="1.7" stroke-dasharray="2 0.7"/>
<circle cx="249.3" cy="215.2" r="1.75" fill="#1f4aa0" stroke="#1b3578" stroke-width="0.7"/>
<text class="gs" x="250.6" y="189.5" textLength="7.6" lengthAdjust="spacingAndGlyphs">INS</text>
<text class="gl" x="244.4" y="199.3" textLength="10.6" lengthAdjust="spacingAndGlyphs">INS</text>
<path d="M270,252.4 V271.9" stroke="#1f4aa0" stroke-width="2"/><circle cx="270" cy="252.4" r="1.75" fill="#1f4aa0" stroke="#1b3578" stroke-width="0.7"/>
<text class="gs" x="269.2" y="227.2" textLength="15" lengthAdjust="spacingAndGlyphs">ERBB3</text>
<text class="gl" x="262.1" y="237.1" textLength="17.3" lengthAdjust="spacingAndGlyphs">IKZF4</text>
<path d="M339,249.4 V271.9" stroke="#1f4aa0" stroke-width="2"/><circle cx="339" cy="249.4" r="1.75" fill="#1f4aa0" stroke="#1b3578" stroke-width="0.7"/>
<text class="gs" x="339.1" y="226.9" textLength="15.9" lengthAdjust="spacingAndGlyphs">PTPN2</text>
<text class="gl" x="329.5" y="237.1" textLength="21.1" lengthAdjust="spacingAndGlyphs">PTPN2</text>
<rect x="433.4" y="149.1" width="30.3" height="119" fill="#fff" stroke="#777" stroke-width="0.9"/>
<rect x="434.9" y="249.3" width="27.2" height="18.7" fill="#a4d3e3"/>
<rect x="434.9" y="211.6" width="27.2" height="37.7" fill="#3c9dc3"/>
<rect x="434.9" y="192.8" width="27.2" height="18.8" fill="#3e4289"/>
<rect x="434.9" y="155.2" width="27.2" height="37.6" fill="#3b7560"/>
<text class="dj" x="431" y="270.5" font-size="6.1px" fill="#333" text-anchor="end">0</text>
<text class="dj" x="431" y="251.7" font-size="6.1px" fill="#333" text-anchor="end">1</text>
<text class="dj" x="431" y="232.8" font-size="6.1px" fill="#333" text-anchor="end">2</text>
<text class="dj" x="431" y="214.0" font-size="6.1px" fill="#333" text-anchor="end">3</text>
<text class="dj" x="431" y="195.1" font-size="6.1px" fill="#333" text-anchor="end">4</text>
<text class="dj" x="431" y="176.3" font-size="6.1px" fill="#333" text-anchor="end">5</text>
<text class="dj" x="431" y="157.4" font-size="6.1px" fill="#333" text-anchor="end">6</text>
<text class="dj" transform="translate(423.8,208.8) rotate(-90)" font-size="6.8px" fill="#333" text-anchor="middle">Number of Unique CS</text>
<text class="dj" x="469.3" y="159.8" font-size="7px" fill="#222">Variants per CS</text>
<rect x="476.6" y="165.0" width="11.6" height="3.3" fill="#3b7560"/>
<text class="dj" x="493.4" y="169.0" font-size="6.8px" fill="#222" textLength="19.2" lengthAdjust="spacingAndGlyphs">40–65</text>
<rect x="476.6" y="173.8" width="11.6" height="3.3" fill="#3e4289"/>
<text class="dj" x="493.4" y="177.8" font-size="6.8px" fill="#222" textLength="17" lengthAdjust="spacingAndGlyphs">20-40</text>
<rect x="476.6" y="182.7" width="11.6" height="3.3" fill="#2f6fa8"/>
<text class="dj" x="493.4" y="186.7" font-size="6.8px" fill="#222" textLength="17" lengthAdjust="spacingAndGlyphs">10-20</text>
<rect x="476.6" y="191.5" width="11.6" height="3.3" fill="#3c9dc3"/>
<text class="dj" x="493.4" y="195.5" font-size="6.8px" fill="#222" textLength="13" lengthAdjust="spacingAndGlyphs">6-10</text>
<rect x="476.6" y="200.4" width="11.6" height="3.3" fill="#a4d3e3"/>
<text class="dj" x="493.4" y="204.4" font-size="6.8px" fill="#222" textLength="9.4" lengthAdjust="spacingAndGlyphs">1-5</text>
<rect x="433.5" y="312.1" width="30.7" height="119.5" fill="#fff" stroke="#777" stroke-width="0.9"/><rect x="433.1" y="312.4" width="2.1" height="119.4" fill="#9a9a9a"/><rect x="462.7" y="312.4" width="2" height="119.4" fill="#9a9a9a"/><path d="M433,431.7 H464.7" stroke="#444" stroke-width="0.7"/>
<rect x="435" y="393.8" width="27.8" height="37.8" fill="#aedcea" stroke="#1c2433" stroke-width="0.5"/>
<rect x="435" y="384.3" width="27.8" height="9.5" fill="#5aaed0" stroke="#1c2433" stroke-width="0.5"/>
<rect x="435" y="365.4" width="27.8" height="18.9" fill="#3d86b5" stroke="#1c2433" stroke-width="0.5"/>
<rect x="435" y="355.9" width="27.8" height="9.5" fill="#36579a" stroke="#1c2433" stroke-width="0.5"/>
<rect x="435" y="346.5" width="27.8" height="9.5" fill="#3a487d" stroke="#1c2433" stroke-width="0.5"/>
<rect x="435" y="318.1" width="27.8" height="28.4" fill="#3f7d62" stroke="#1c2433" stroke-width="0.5"/>
<text class="dj" x="431.4" y="433.6" font-size="5.3px" fill="#333" text-anchor="end">0</text>
<text class="dj" x="431.4" y="414.7" font-size="5.3px" fill="#333" text-anchor="end">2</text>
<text class="dj" x="431.4" y="395.8" font-size="5.3px" fill="#333" text-anchor="end">4</text>
<text class="dj" x="431.4" y="376.8" font-size="5.3px" fill="#333" text-anchor="end">6</text>
<text class="dj" x="431.4" y="357.9" font-size="5.3px" fill="#333" text-anchor="end">8</text>
<text class="dj" x="431.4" y="339.0" font-size="5.3px" fill="#333" text-anchor="end">10</text>
<text class="dj" x="431.4" y="320.1" font-size="5.3px" fill="#333" text-anchor="end">12</text>
<text class="dj" transform="translate(421.8,370.4) rotate(-90)" font-size="5.7px" fill="#333" text-anchor="middle">Number of Unique CS</text>
<text class="dj" x="468.9" y="321.5" font-size="6.2px" fill="#222" textLength="42.9" lengthAdjust="spacingAndGlyphs">Variants per CS</text>
<rect x="472.9" y="325.5" width="10.8" height="4.1" fill="#3f7d62" stroke="#1c2433" stroke-width="0.45"/>
<text class="dj" x="488.5" y="329.7" font-size="6.2px" fill="#222" textLength="13.4" lengthAdjust="spacingAndGlyphs">100+</text>
<rect x="472.9" y="333.5" width="10.8" height="4.1" fill="#3a487d" stroke="#1c2433" stroke-width="0.45"/>
<text class="dj" x="488.5" y="337.7" font-size="6.2px" fill="#222" textLength="19" lengthAdjust="spacingAndGlyphs">50-100</text>
<rect x="472.9" y="341.6" width="10.8" height="4.1" fill="#36579a" stroke="#1c2433" stroke-width="0.45"/>
<text class="dj" x="488.5" y="345.8" font-size="6.2px" fill="#222" textLength="15.4" lengthAdjust="spacingAndGlyphs">20-50</text>
<rect x="472.9" y="349.6" width="10.8" height="4.1" fill="#3d86b5" stroke="#1c2433" stroke-width="0.45"/>
<text class="dj" x="488.5" y="353.8" font-size="6.2px" fill="#222" textLength="15.4" lengthAdjust="spacingAndGlyphs">10-20</text>
<rect x="472.9" y="357.7" width="10.8" height="4.1" fill="#5aaed0" stroke="#1c2433" stroke-width="0.45"/>
<text class="dj" x="488.5" y="361.9" font-size="6.2px" fill="#222" textLength="12.1" lengthAdjust="spacingAndGlyphs">6-10</text>
<rect x="472.9" y="365.7" width="10.8" height="4.1" fill="#aedcea" stroke="#1c2433" stroke-width="0.45"/>
<text class="dj" x="488.5" y="369.9" font-size="6.2px" fill="#222" textLength="8.6" lengthAdjust="spacingAndGlyphs">1-5</text>
<path d="M49.4,299.4 V433.3 H387.4" stroke="#777" stroke-width="0.7" fill="none"/>
<path d="M46.4,432.5 H49.4" stroke="#777" stroke-width="0.8"/>
<text class="tk" x="45" y="434.6" text-anchor="end">0</text>
<path d="M46.4,417.2 H49.4" stroke="#777" stroke-width="0.8"/>
<text class="tk" x="45" y="419.4" text-anchor="end">20</text>
<path d="M46.4,402.0 H49.4" stroke="#777" stroke-width="0.8"/>
<text class="tk" x="45" y="404.1" text-anchor="end">40</text>
<path d="M46.4,386.8 H49.4" stroke="#777" stroke-width="0.8"/>
<text class="tk" x="45" y="388.9" text-anchor="end">60</text>
<path d="M46.4,371.5 H49.4" stroke="#777" stroke-width="0.8"/>
<text class="tk" x="45" y="373.6" text-anchor="end">80</text>
<path d="M46.4,356.2 H49.4" stroke="#777" stroke-width="0.8"/>
<text class="tk" x="45" y="358.4" text-anchor="end">100</text>
<path d="M46.4,341.0 H49.4" stroke="#777" stroke-width="0.8"/>
<text class="tk" x="45" y="343.1" text-anchor="end">120</text>
<path d="M46.4,325.8 H49.4" stroke="#777" stroke-width="0.8"/>
<text class="tk" x="45" y="327.9" text-anchor="end">140</text>
<path d="M46.4,310.5 H49.4" stroke="#777" stroke-width="0.8"/>
<text class="tk" x="45" y="312.6" text-anchor="end">160</text>
<path d="M64.7,433.3 V436.6" stroke="#777" stroke-width="0.8"/>
<text class="tk" x="64.7" y="442.7" text-anchor="middle">28</text>
<path d="M116.5,433.3 V436.6" stroke="#777" stroke-width="0.8"/>
<text class="tk" x="116.5" y="442.7" text-anchor="middle">29</text>
<path d="M168.2,433.3 V436.6" stroke="#777" stroke-width="0.8"/>
<text class="tk" x="168.2" y="442.7" text-anchor="middle">30</text>
<path d="M219.9,433.3 V436.6" stroke="#777" stroke-width="0.8"/>
<text class="tk" x="219.9" y="442.7" text-anchor="middle">31</text>
<path d="M271.7,433.3 V436.6" stroke="#777" stroke-width="0.8"/>
<text class="tk" x="271.7" y="442.7" text-anchor="middle">32</text>
<path d="M323.4,433.3 V436.6" stroke="#777" stroke-width="0.8"/>
<text class="tk" x="323.4" y="442.7" text-anchor="middle">33</text>
<path d="M375.2,433.3 V436.6" stroke="#777" stroke-width="0.8"/>
<text class="tk" x="375.2" y="442.7" text-anchor="middle">34</text>
<text transform="translate(31.4,365.6) rotate(-90)" font-size="7.35px" fill="#333" text-anchor="middle">-log10(P-value)</text>
<text x="218.8" y="450.6" font-size="7.55px" fill="#333" text-anchor="middle">Chromosome 6 Position (Mb)</text>
<path d="M64,432.4 L64.2,430.1 L65.1,430.1 L66.0,430.1 L66.9,430.1 L67.8,430.1 L68.7,430.1 L69.6,430.1 L70.5,430.1 L71.4,430.1 L72.3,430.1 L73.2,430.1 L74.1,430.1 L75.0,430.1 L75.9,430.1 L76.8,430.0 L77.7,430.0 L78.6,430.0 L79.5,430.0 L80.4,430.0 L81.3,430.0 L82.2,430.0 L83.1,430.0 L84.0,430.0 L84.9,430.0 L85.8,430.0 L86.7,430.0 L87.6,430.0 L88.5,430.0 L89.4,430.0 L90.3,430.0 L91.2,430.0 L92.1,430.0 L93.0,430.0 L93.9,430.0 L94.8,430.0 L95.7,430.0 L96.6,430.0 L97.5,430.0 L98.4,430.0 L99.3,430.0 L100.2,430.0 L101.1,430.0 L102.0,430.0 L102.9,430.0 L103.8,430.0 L104.7,430.0 L105.6,430.0 L106.5,429.9 L107.4,429.9 L108.3,429.9 L109.2,429.9 L110.1,429.9 L111.0,429.9 L111.9,429.9 L112.8,429.9 L113.7,429.9 L114.6,429.9 L115.5,429.9 L116.4,429.9 L117.3,429.9 L118.2,429.9 L119.1,429.9 L120.0,429.9 L120.9,429.9 L121.8,429.9 L122.7,429.9 L123.6,429.9 L124.5,429.9 L125.4,429.9 L126.3,429.9 L127.2,429.9 L128.1,429.9 L129.0,429.9 L129.9,429.9 L130.8,429.8 L131.7,429.7 L132.6,429.6 L133.5,429.5 L134.4,429.4 L135.3,429.3 L136.2,429.2 L137.1,429.1 L138.0,429.0 L138.9,428.9 L139.8,428.9 L140.7,428.8 L141.6,428.7 L142.5,428.6 L143.4,428.5 L144.3,428.4 L145.2,428.3 L146.1,428.2 L147.0,428.1 L147.9,428.0 L148.8,427.9 L149.7,427.8 L150.6,427.7 L151.5,427.6 L152.4,427.5 L153.3,427.4 L154.2,427.2 L155.1,427.1 L156.0,427.0 L156.9,426.9 L157.8,426.8 L158.7,426.7 L159.6,426.6 L160.5,426.5 L161.4,426.4 L162.3,426.3 L163.2,426.1 L164.1,426.0 L165.0,425.9 L165.9,425.8 L166.8,425.8 L167.7,425.8 L168.6,425.8 L169.5,425.8 L170.4,425.8 L171.3,425.8 L172.2,425.8 L173.1,425.8 L174.0,425.8 L174.9,425.8 L175.8,425.8 L176.7,425.8 L177.6,425.8 L178.5,425.8 L179.4,425.7 L180.3,425.7 L181.2,425.7 L182.1,425.7 L183.0,425.7 L183.9,425.7 L184.8,425.7 L185.7,425.7 L186.6,425.7 L187.5,425.6 L188.4,425.6 L189.3,425.6 L190.2,425.6 L191.1,425.6 L192.0,425.6 L192.9,425.6 L193.8,425.6 L194.7,425.5 L195.6,425.5 L196.5,425.5 L197.4,425.5 L198.3,425.5 L199.2,425.5 L200.1,425.5 L201.0,425.5 L201.9,425.5 L202.8,425.4 L203.7,425.4 L204.6,425.4 L205.5,425.4 L206.4,425.4 L207.3,425.4 L208.2,425.4 L209.1,425.4 L210.0,425.4 L210.9,425.3 L211.8,425.3 L212.7,425.3 L213.6,425.3 L214.5,425.3 L215.4,425.3 L216.3,425.3 L217.2,425.3 L218.1,425.2 L219.0,425.1 L219.9,424.9 L220.8,424.7 L221.7,424.5 L222.6,424.3 L223.5,424.2 L224.4,424.0 L225.3,423.8 L226.2,423.6 L227.1,423.5 L228.0,423.3 L228.9,423.1 L229.8,422.9 L230.7,422.8 L231.6,422.6 L232.5,422.5 L233.4,422.4 L234.3,422.3 L235.2,422.3 L236.1,422.2 L237.0,422.1 L237.9,422.1 L238.8,422.0 L239.7,421.9 L240.6,421.9 L241.5,421.8 L242.4,421.7 L243.3,421.7 L244.2,421.6 L245.1,421.5 L246.0,421.5 L246.9,421.4 L247.8,421.3 L248.7,421.3 L249.6,421.2 L250.5,421.1 L251.4,421.1 L252.3,421.0 L253.2,420.9 L254.1,420.9 L255.0,420.8 L255.9,420.7 L256.8,420.7 L257.7,420.6 L258.6,420.5 L259.5,420.5 L260.4,420.4 L261.3,420.4 L262.2,420.3 L263.1,420.1 L264.0,419.9 L264.9,419.8 L265.8,419.6 L266.7,419.4 L267.6,419.3 L268.5,419.1 L269.4,418.9 L270.3,418.8 L271.2,418.6 L272.1,418.4 L273.0,418.3 L273.9,418.1 L274.8,418.0 L275.7,417.8 L276.6,417.6 L277.5,417.5 L278.4,417.3 L279.3,417.1 L280.2,416.9 L281.1,416.6 L282.0,416.3 L282.9,416.0 L283.8,415.7 L284.7,415.4 L285.6,415.1 L286.5,414.8 L287.4,414.5 L288.3,414.1 L289.2,413.8 L290.1,413.5 L291.0,413.2 L291.9,412.9 L292.8,412.6 L293.7,412.3 L294.6,412.0 L295.5,411.7 L296.4,411.1 L297.3,410.1 L298.2,409.1 L299.1,408.1 L300.0,407.1 L300.9,407.6 L301.8,408.1 L302.7,408.6 L303.6,409.1 L304.5,409.4 L305.4,409.7 L306.3,409.9 L307.2,410.2 L308.1,410.4 L309.0,410.7 L309.9,410.9 L310.8,411.2 L311.7,411.4 L312.6,412.0 L313.5,412.7 L314.4,413.5 L315.3,414.2 L316.2,415.0 L317.1,415.7 L318.0,416.4 L318.9,417.2 L319.8,417.9 L320.7,418.9 L321.6,419.9 L322.5,420.8 L323.4,421.8 L324.3,422.8 L325.2,423.8 L326.1,424.7 L327.0,425.1 L327.9,425.4 L328.8,425.7 L329.7,426.1 L330.6,426.4 L331.5,426.7 L332.4,427.0 L333.3,427.4 L334.2,427.7 L335.1,428.0 L336.0,428.2 L336.9,428.3 L337.8,428.5 L338.7,428.6 L339.6,428.8 L340.5,428.9 L341.4,429.1 L342.3,429.2 L343.2,429.4 L344.1,429.5 L345.0,429.6 L345.9,429.7 L346.8,429.8 L347.7,429.8 L348.6,429.9 L349.5,429.9 L350.4,430.0 L351.3,430.1 L352.2,430.1 L353.1,430.2 L354.0,430.2 L354.9,430.3 L355.8,430.3 L356.7,430.4 L357.6,430.5 L358.5,430.5 L359.4,430.6 L360.3,430.6 L361.2,430.7 L362.1,430.8 L363.0,430.8 L363.9,430.8 L364.8,430.8 L365.7,430.9 L366.6,430.9 L367.5,430.9 L368.4,431.0 L369.3,431.0 L370.2,431.0 L371.1,431.1 L372.0,431.1 L372.9,431.1 L373.8,431.2 L374.7,431.2 L375.6,431.2 L376.5,431.3 L377.4,431.3 L377.5,432.4 Z" fill="#d4d4d4"/>
<g fill="#bababa" stroke="#e6e6e6" stroke-width="0.42">
<circle cx="307.8" cy="405.3" r="1.18"/><circle cx="115.3" cy="428.7" r="1.18"/><circle cx="242.8" cy="421.0" r="1.18"/><circle cx="243.7" cy="427.0" r="1.18"/><circle cx="72.9" cy="431.0" r="1.18"/><circle cx="279.4" cy="384.5" r="1.18"/><circle cx="97.7" cy="430.5" r="1.18"/><circle cx="300.2" cy="373.8" r="1.18"/><circle cx="246.2" cy="406.5" r="1.18"/><circle cx="313.0" cy="412.1" r="1.18"/><circle cx="298.4" cy="416.4" r="1.18"/><circle cx="253.4" cy="418.4" r="1.18"/><circle cx="294.6" cy="403.9" r="1.18"/><circle cx="242.9" cy="425.1" r="1.18"/><circle cx="314.0" cy="424.7" r="1.18"/><circle cx="302.7" cy="316.0" r="1.18"/><circle cx="102.4" cy="428.6" r="1.18"/><circle cx="159.2" cy="430.2" r="1.18"/><circle cx="320.9" cy="408.3" r="1.18"/><circle cx="277.6" cy="421.7" r="1.18"/><circle cx="254.1" cy="425.9" r="1.18"/><circle cx="242.4" cy="416.6" r="1.18"/><circle cx="208.1" cy="420.7" r="1.18"/><circle cx="273.6" cy="412.2" r="1.18"/><circle cx="195.3" cy="422.4" r="1.18"/><circle cx="215.9" cy="424.3" r="1.18"/><circle cx="193.4" cy="424.9" r="1.18"/><circle cx="164.0" cy="409.3" r="1.18"/><circle cx="297.6" cy="400.8" r="1.18"/><circle cx="133.4" cy="426.6" r="1.18"/><circle cx="154.7" cy="431.3" r="1.18"/><circle cx="74.5" cy="422.0" r="1.18"/><circle cx="314.0" cy="424.0" r="1.18"/><circle cx="304.0" cy="366.0" r="1.18"/><circle cx="157.4" cy="413.5" r="1.18"/><circle cx="292.7" cy="428.7" r="1.18"/><circle cx="311.3" cy="418.1" r="1.18"/><circle cx="279.5" cy="391.9" r="1.18"/><circle cx="243.6" cy="420.3" r="1.18"/><circle cx="163.1" cy="404.7" r="1.18"/><circle cx="279.9" cy="430.2" r="1.18"/><circle cx="276.0" cy="416.9" r="1.18"/><circle cx="295.5" cy="368.3" r="1.18"/><circle cx="191.8" cy="429.9" r="1.18"/><circle cx="293.9" cy="402.1" r="1.18"/><circle cx="212.0" cy="420.5" r="1.18"/><circle cx="293.1" cy="413.5" r="1.18"/><circle cx="267.7" cy="413.2" r="1.18"/><circle cx="210.3" cy="429.0" r="1.18"/><circle cx="273.1" cy="428.3" r="1.18"/><circle cx="256.4" cy="421.2" r="1.18"/><circle cx="306.6" cy="415.9" r="1.18"/><circle cx="215.6" cy="428.5" r="1.18"/><circle cx="134.7" cy="412.5" r="1.18"/><circle cx="200.9" cy="423.0" r="1.18"/><circle cx="209.6" cy="429.5" r="1.18"/><circle cx="82.3" cy="421.7" r="1.18"/><circle cx="315.7" cy="424.1" r="1.18"/><circle cx="261.5" cy="424.1" r="1.18"/><circle cx="260.4" cy="414.4" r="1.18"/><circle cx="315.2" cy="400.0" r="1.18"/><circle cx="302.1" cy="314.7" r="1.18"/><circle cx="162.8" cy="406.1" r="1.18"/><circle cx="74.8" cy="429.8" r="1.18"/><circle cx="293.3" cy="415.4" r="1.18"/><circle cx="248.1" cy="426.6" r="1.18"/><circle cx="309.5" cy="415.6" r="1.18"/><circle cx="162.7" cy="428.9" r="1.18"/><circle cx="143.8" cy="425.3" r="1.18"/><circle cx="197.3" cy="430.6" r="1.18"/><circle cx="214.5" cy="425.9" r="1.18"/><circle cx="301.9" cy="425.4" r="1.18"/><circle cx="334.1" cy="428.3" r="1.18"/><circle cx="152.7" cy="424.8" r="1.18"/><circle cx="289.1" cy="405.8" r="1.18"/><circle cx="180.8" cy="427.8" r="1.18"/><circle cx="267.3" cy="412.3" r="1.18"/><circle cx="246.9" cy="410.7" r="1.18"/><circle cx="168.9" cy="428.6" r="1.18"/><circle cx="364.8" cy="429.9" r="1.18"/><circle cx="294.4" cy="412.4" r="1.18"/><circle cx="252.8" cy="401.7" r="1.18"/><circle cx="293.7" cy="410.5" r="1.18"/><circle cx="172.6" cy="420.1" r="1.18"/><circle cx="306.9" cy="394.5" r="1.18"/><circle cx="322.6" cy="422.1" r="1.18"/><circle cx="165.5" cy="422.8" r="1.18"/><circle cx="324.5" cy="423.3" r="1.18"/><circle cx="255.8" cy="413.7" r="1.18"/><circle cx="246.0" cy="430.3" r="1.18"/><circle cx="314.7" cy="417.2" r="1.18"/><circle cx="283.1" cy="390.6" r="1.18"/><circle cx="215.0" cy="419.3" r="1.18"/><circle cx="282.2" cy="424.9" r="1.18"/><circle cx="323.1" cy="430.5" r="1.18"/><circle cx="306.7" cy="352.4" r="1.18"/><circle cx="233.5" cy="407.0" r="1.18"/><circle cx="267.3" cy="428.8" r="1.18"/><circle cx="295.6" cy="415.9" r="1.18"/><circle cx="185.8" cy="430.8" r="1.18"/><circle cx="254.3" cy="426.1" r="1.18"/><circle cx="246.4" cy="402.6" r="1.18"/><circle cx="322.4" cy="423.7" r="1.18"/><circle cx="138.2" cy="427.0" r="1.18"/><circle cx="160.6" cy="423.0" r="1.18"/><circle cx="346.4" cy="428.1" r="1.18"/><circle cx="315.2" cy="422.5" r="1.18"/><circle cx="302.5" cy="403.9" r="1.18"/><circle cx="262.2" cy="429.5" r="1.18"/><circle cx="247.3" cy="416.4" r="1.18"/><circle cx="253.7" cy="409.6" r="1.18"/><circle cx="283.6" cy="357.4" r="1.18"/><circle cx="295.9" cy="430.2" r="1.18"/><circle cx="287.9" cy="424.8" r="1.18"/><circle cx="269.8" cy="409.9" r="1.18"/><circle cx="307.7" cy="394.2" r="1.18"/><circle cx="305.1" cy="414.0" r="1.18"/><circle cx="263.8" cy="418.1" r="1.18"/><circle cx="153.2" cy="429.5" r="1.18"/><circle cx="247.1" cy="406.3" r="1.18"/><circle cx="273.2" cy="425.2" r="1.18"/><circle cx="308.6" cy="426.5" r="1.18"/><circle cx="235.2" cy="431.1" r="1.18"/><circle cx="96.2" cy="428.1" r="1.18"/><circle cx="360.8" cy="430.9" r="1.18"/><circle cx="273.5" cy="408.3" r="1.18"/><circle cx="300.0" cy="371.6" r="1.18"/><circle cx="305.6" cy="402.9" r="1.18"/><circle cx="245.1" cy="419.7" r="1.18"/><circle cx="218.5" cy="430.8" r="1.18"/><circle cx="181.9" cy="425.2" r="1.18"/><circle cx="171.7" cy="420.9" r="1.18"/><circle cx="280.6" cy="425.6" r="1.18"/><circle cx="276.1" cy="421.2" r="1.18"/><circle cx="257.4" cy="416.2" r="1.18"/><circle cx="252.4" cy="421.9" r="1.18"/><circle cx="308.2" cy="407.7" r="1.18"/><circle cx="285.3" cy="411.5" r="1.18"/><circle cx="216.4" cy="419.5" r="1.18"/><circle cx="280.2" cy="412.5" r="1.18"/><circle cx="302.7" cy="374.9" r="1.18"/><circle cx="311.4" cy="396.8" r="1.18"/><circle cx="247.8" cy="399.0" r="1.18"/><circle cx="239.1" cy="402.7" r="1.18"/><circle cx="113.6" cy="431.0" r="1.18"/><circle cx="279.6" cy="425.0" r="1.18"/><circle cx="239.0" cy="414.3" r="1.18"/><circle cx="302.2" cy="413.6" r="1.18"/><circle cx="232.3" cy="429.5" r="1.18"/><circle cx="273.3" cy="412.8" r="1.18"/><circle cx="367.9" cy="430.0" r="1.18"/><circle cx="245.5" cy="422.6" r="1.18"/><circle cx="343.9" cy="428.9" r="1.18"/><circle cx="285.1" cy="422.1" r="1.18"/><circle cx="283.6" cy="410.2" r="1.18"/><circle cx="367.6" cy="430.0" r="1.18"/><circle cx="145.9" cy="426.5" r="1.18"/><circle cx="226.7" cy="418.1" r="1.18"/><circle cx="302.7" cy="344.7" r="1.18"/><circle cx="129.8" cy="414.1" r="1.18"/><circle cx="91.4" cy="429.2" r="1.18"/><circle cx="301.7" cy="322.9" r="1.18"/><circle cx="171.4" cy="426.6" r="1.18"/><circle cx="276.2" cy="410.6" r="1.18"/><circle cx="199.1" cy="422.5" r="1.18"/><circle cx="308.7" cy="422.9" r="1.18"/><circle cx="223.7" cy="425.5" r="1.18"/><circle cx="257.5" cy="424.6" r="1.18"/><circle cx="245.6" cy="398.4" r="1.18"/><circle cx="256.9" cy="418.2" r="1.18"/><circle cx="154.6" cy="431.2" r="1.18"/><circle cx="192.2" cy="421.1" r="1.18"/><circle cx="306.9" cy="402.1" r="1.18"/><circle cx="229.0" cy="419.6" r="1.18"/><circle cx="320.0" cy="429.8" r="1.18"/><circle cx="156.3" cy="426.4" r="1.18"/><circle cx="291.8" cy="426.3" r="1.18"/><circle cx="317.8" cy="417.3" r="1.18"/><circle cx="310.4" cy="410.2" r="1.18"/><circle cx="178.9" cy="420.1" r="1.18"/><circle cx="268.4" cy="424.5" r="1.18"/><circle cx="149.4" cy="430.9" r="1.18"/><circle cx="297.9" cy="399.8" r="1.18"/><circle cx="252.6" cy="414.2" r="1.18"/><circle cx="276.6" cy="429.9" r="1.18"/><circle cx="364.4" cy="428.4" r="1.18"/><circle cx="279.6" cy="390.7" r="1.18"/><circle cx="248.9" cy="385.3" r="1.18"/><circle cx="300.8" cy="355.5" r="1.18"/><circle cx="220.0" cy="426.4" r="1.18"/><circle cx="231.3" cy="418.3" r="1.18"/><circle cx="221.0" cy="421.0" r="1.18"/><circle cx="295.7" cy="394.1" r="1.18"/><circle cx="243.3" cy="414.9" r="1.18"/><circle cx="267.2" cy="382.5" r="1.18"/><circle cx="213.5" cy="430.4" r="1.18"/><circle cx="227.6" cy="422.6" r="1.18"/><circle cx="234.8" cy="426.3" r="1.18"/><circle cx="300.3" cy="362.8" r="1.18"/><circle cx="175.8" cy="422.8" r="1.18"/><circle cx="241.2" cy="403.1" r="1.18"/><circle cx="314.9" cy="401.2" r="1.18"/><circle cx="322.7" cy="411.6" r="1.18"/><circle cx="219.6" cy="418.3" r="1.18"/><circle cx="159.6" cy="425.2" r="1.18"/><circle cx="346.9" cy="427.0" r="1.18"/><circle cx="287.0" cy="411.0" r="1.18"/><circle cx="187.4" cy="420.5" r="1.18"/><circle cx="288.2" cy="414.5" r="1.18"/><circle cx="258.6" cy="414.0" r="1.18"/><circle cx="319.9" cy="420.2" r="1.18"/><circle cx="304.5" cy="406.9" r="1.18"/><circle cx="211.6" cy="430.1" r="1.18"/><circle cx="98.1" cy="430.7" r="1.18"/><circle cx="296.8" cy="392.3" r="1.18"/><circle cx="299.7" cy="378.7" r="1.18"/><circle cx="306.0" cy="414.4" r="1.18"/><circle cx="186.2" cy="420.2" r="1.18"/><circle cx="303.0" cy="390.5" r="1.18"/><circle cx="176.0" cy="414.1" r="1.18"/><circle cx="233.8" cy="425.6" r="1.18"/><circle cx="311.2" cy="407.9" r="1.18"/><circle cx="289.9" cy="424.5" r="1.18"/><circle cx="289.4" cy="402.4" r="1.18"/><circle cx="307.7" cy="411.5" r="1.18"/><circle cx="290.8" cy="420.7" r="1.18"/><circle cx="198.9" cy="429.9" r="1.18"/><circle cx="307.9" cy="403.6" r="1.18"/><circle cx="310.3" cy="421.8" r="1.18"/><circle cx="199.1" cy="418.5" r="1.18"/><circle cx="298.4" cy="426.3" r="1.18"/><circle cx="294.1" cy="414.8" r="1.18"/><circle cx="307.0" cy="364.7" r="1.18"/><circle cx="308.1" cy="422.2" r="1.18"/><circle cx="305.8" cy="409.4" r="1.18"/><circle cx="230.6" cy="426.3" r="1.18"/><circle cx="289.1" cy="406.6" r="1.18"/><circle cx="301.5" cy="320.2" r="1.18"/><circle cx="356.8" cy="429.7" r="1.18"/><circle cx="273.5" cy="411.1" r="1.18"/><circle cx="317.9" cy="415.1" r="1.18"/><circle cx="275.8" cy="416.6" r="1.18"/><circle cx="173.9" cy="429.3" r="1.18"/><circle cx="243.9" cy="413.6" r="1.18"/><circle cx="361.8" cy="431.0" r="1.18"/><circle cx="193.7" cy="426.7" r="1.18"/><circle cx="238.0" cy="415.6" r="1.18"/><circle cx="148.5" cy="424.9" r="1.18"/><circle cx="140.7" cy="419.3" r="1.18"/><circle cx="243.9" cy="418.6" r="1.18"/><circle cx="81.2" cy="427.7" r="1.18"/><circle cx="308.5" cy="410.1" r="1.18"/><circle cx="300.0" cy="416.9" r="1.18"/><circle cx="271.2" cy="412.5" r="1.18"/><circle cx="221.4" cy="425.2" r="1.18"/><circle cx="290.1" cy="401.3" r="1.18"/><circle cx="220.3" cy="430.0" r="1.18"/><circle cx="291.3" cy="412.0" r="1.18"/><circle cx="292.6" cy="421.1" r="1.18"/><circle cx="315.4" cy="424.8" r="1.18"/><circle cx="324.8" cy="427.9" r="1.18"/><circle cx="317.0" cy="408.6" r="1.18"/><circle cx="297.4" cy="406.4" r="1.18"/><circle cx="90.5" cy="427.7" r="1.18"/><circle cx="363.9" cy="429.7" r="1.18"/><circle cx="240.3" cy="415.2" r="1.18"/><circle cx="199.1" cy="427.8" r="1.18"/><circle cx="127.7" cy="431.1" r="1.18"/><circle cx="157.4" cy="430.7" r="1.18"/><circle cx="202.6" cy="420.8" r="1.18"/><circle cx="245.5" cy="418.0" r="1.18"/><circle cx="317.4" cy="412.4" r="1.18"/><circle cx="203.4" cy="420.2" r="1.18"/><circle cx="277.9" cy="415.1" r="1.18"/><circle cx="299.1" cy="378.5" r="1.18"/><circle cx="308.9" cy="401.9" r="1.18"/><circle cx="295.3" cy="399.7" r="1.18"/><circle cx="289.7" cy="360.6" r="1.18"/><circle cx="127.3" cy="420.4" r="1.18"/><circle cx="297.3" cy="424.5" r="1.18"/><circle cx="302.8" cy="417.2" r="1.18"/><circle cx="203.3" cy="428.5" r="1.18"/><circle cx="217.7" cy="427.2" r="1.18"/><circle cx="77.1" cy="422.2" r="1.18"/><circle cx="212.8" cy="421.2" r="1.18"/><circle cx="253.0" cy="429.0" r="1.18"/><circle cx="191.2" cy="426.3" r="1.18"/><circle cx="246.1" cy="430.7" r="1.18"/><circle cx="262.5" cy="416.5" r="1.18"/><circle cx="100.7" cy="416.7" r="1.18"/><circle cx="255.2" cy="414.9" r="1.18"/><circle cx="278.0" cy="417.0" r="1.18"/><circle cx="240.8" cy="416.1" r="1.18"/><circle cx="279.7" cy="421.9" r="1.18"/><circle cx="147.0" cy="425.7" r="1.18"/><circle cx="270.7" cy="426.6" r="1.18"/><circle cx="146.8" cy="417.5" r="1.18"/><circle cx="356.0" cy="428.8" r="1.18"/><circle cx="323.4" cy="429.8" r="1.18"/><circle cx="184.8" cy="429.1" r="1.18"/><circle cx="264.7" cy="418.5" r="1.18"/><circle cx="298.0" cy="412.7" r="1.18"/><circle cx="308.2" cy="402.7" r="1.18"/><circle cx="242.1" cy="429.8" r="1.18"/><circle cx="306.7" cy="410.0" r="1.18"/><circle cx="285.3" cy="377.0" r="1.18"/><circle cx="310.1" cy="422.3" r="1.18"/><circle cx="289.6" cy="422.4" r="1.18"/><circle cx="305.0" cy="420.0" r="1.18"/><circle cx="110.2" cy="427.6" r="1.18"/><circle cx="290.1" cy="372.7" r="1.18"/><circle cx="331.4" cy="422.1" r="1.18"/><circle cx="350.8" cy="401.0" r="1.18"/><circle cx="297.8" cy="405.3" r="1.18"/><circle cx="228.5" cy="430.7" r="1.18"/><circle cx="233.0" cy="429.3" r="1.18"/><circle cx="174.4" cy="421.3" r="1.18"/><circle cx="120.4" cy="431.1" r="1.18"/><circle cx="139.7" cy="421.0" r="1.18"/><circle cx="298.8" cy="366.3" r="1.18"/><circle cx="315.5" cy="411.8" r="1.18"/><circle cx="178.2" cy="428.4" r="1.18"/><circle cx="132.7" cy="431.2" r="1.18"/><circle cx="307.1" cy="396.8" r="1.18"/><circle cx="281.4" cy="424.4" r="1.18"/><circle cx="344.7" cy="429.6" r="1.18"/><circle cx="163.7" cy="403.9" r="1.18"/><circle cx="301.6" cy="362.1" r="1.18"/><circle cx="246.5" cy="401.2" r="1.18"/><circle cx="254.4" cy="395.9" r="1.18"/><circle cx="259.0" cy="412.6" r="1.18"/><circle cx="244.5" cy="413.5" r="1.18"/><circle cx="278.4" cy="429.7" r="1.18"/><circle cx="92.8" cy="428.0" r="1.18"/><circle cx="272.1" cy="423.1" r="1.18"/><circle cx="296.7" cy="400.8" r="1.18"/><circle cx="299.2" cy="401.0" r="1.18"/><circle cx="258.6" cy="412.9" r="1.18"/><circle cx="290.0" cy="398.1" r="1.18"/><circle cx="165.7" cy="430.4" r="1.18"/><circle cx="239.2" cy="420.0" r="1.18"/><circle cx="206.0" cy="421.8" r="1.18"/><circle cx="235.4" cy="427.1" r="1.18"/><circle cx="278.5" cy="410.6" r="1.18"/><circle cx="223.9" cy="425.4" r="1.18"/><circle cx="295.3" cy="395.3" r="1.18"/><circle cx="252.0" cy="418.1" r="1.18"/><circle cx="283.3" cy="389.2" r="1.18"/><circle cx="296.8" cy="390.3" r="1.18"/><circle cx="274.1" cy="428.0" r="1.18"/><circle cx="255.5" cy="423.0" r="1.18"/><circle cx="261.9" cy="428.0" r="1.18"/><circle cx="300.7" cy="386.4" r="1.18"/><circle cx="278.8" cy="405.9" r="1.18"/><circle cx="299.9" cy="394.6" r="1.18"/><circle cx="123.5" cy="429.0" r="1.18"/><circle cx="297.2" cy="362.2" r="1.18"/><circle cx="126.2" cy="414.3" r="1.18"/><circle cx="288.5" cy="409.7" r="1.18"/><circle cx="275.8" cy="429.0" r="1.18"/><circle cx="257.5" cy="414.2" r="1.18"/><circle cx="286.3" cy="428.4" r="1.18"/><circle cx="202.2" cy="425.3" r="1.18"/><circle cx="257.8" cy="408.5" r="1.18"/><circle cx="158.4" cy="413.2" r="1.18"/><circle cx="270.5" cy="415.5" r="1.18"/><circle cx="183.3" cy="431.2" r="1.18"/><circle cx="301.4" cy="335.0" r="1.18"/><circle cx="192.3" cy="419.2" r="1.18"/><circle cx="310.3" cy="401.3" r="1.18"/><circle cx="321.8" cy="425.7" r="1.18"/><circle cx="293.0" cy="408.7" r="1.18"/><circle cx="296.8" cy="420.2" r="1.18"/><circle cx="304.7" cy="402.8" r="1.18"/><circle cx="241.7" cy="393.1" r="1.18"/><circle cx="168.9" cy="422.7" r="1.18"/><circle cx="308.3" cy="401.6" r="1.18"/><circle cx="140.7" cy="431.2" r="1.18"/><circle cx="195.2" cy="421.3" r="1.18"/><circle cx="305.9" cy="415.6" r="1.18"/><circle cx="239.7" cy="403.5" r="1.18"/><circle cx="303.5" cy="357.8" r="1.18"/><circle cx="272.0" cy="407.7" r="1.18"/><circle cx="311.2" cy="431.0" r="1.18"/><circle cx="289.5" cy="426.0" r="1.18"/><circle cx="259.6" cy="412.6" r="1.18"/><circle cx="85.3" cy="428.6" r="1.18"/><circle cx="163.1" cy="407.7" r="1.18"/><circle cx="153.1" cy="424.2" r="1.18"/><circle cx="198.7" cy="424.2" r="1.18"/><circle cx="240.1" cy="418.3" r="1.18"/><circle cx="299.5" cy="382.5" r="1.18"/><circle cx="298.7" cy="409.0" r="1.18"/><circle cx="317.1" cy="420.0" r="1.18"/><circle cx="301.7" cy="429.0" r="1.18"/><circle cx="286.3" cy="417.7" r="1.18"/><circle cx="314.0" cy="408.6" r="1.18"/><circle cx="299.8" cy="399.4" r="1.18"/><circle cx="240.5" cy="413.4" r="1.18"/><circle cx="272.8" cy="409.5" r="1.18"/><circle cx="304.1" cy="394.9" r="1.18"/><circle cx="248.3" cy="426.5" r="1.18"/><circle cx="293.8" cy="401.8" r="1.18"/><circle cx="316.7" cy="416.3" r="1.18"/><circle cx="264.5" cy="420.8" r="1.18"/><circle cx="195.0" cy="420.9" r="1.18"/><circle cx="296.2" cy="407.0" r="1.18"/><circle cx="178.0" cy="421.8" r="1.18"/><circle cx="295.0" cy="405.3" r="1.18"/><circle cx="260.3" cy="421.9" r="1.18"/><circle cx="261.3" cy="401.1" r="1.18"/><circle cx="348.7" cy="429.0" r="1.18"/><circle cx="288.7" cy="354.8" r="1.18"/><circle cx="190.8" cy="428.7" r="1.18"/><circle cx="255.1" cy="415.5" r="1.18"/><circle cx="290.5" cy="383.6" r="1.18"/><circle cx="262.3" cy="426.9" r="1.18"/><circle cx="309.0" cy="391.6" r="1.18"/><circle cx="156.2" cy="430.1" r="1.18"/><circle cx="293.6" cy="402.3" r="1.18"/><circle cx="290.6" cy="429.9" r="1.18"/><circle cx="165.5" cy="420.9" r="1.18"/><circle cx="299.4" cy="390.8" r="1.18"/><circle cx="170.8" cy="428.6" r="1.18"/><circle cx="264.5" cy="418.6" r="1.18"/><circle cx="300.4" cy="412.0" r="1.18"/><circle cx="257.8" cy="419.1" r="1.18"/><circle cx="307.8" cy="426.2" r="1.18"/><circle cx="324.9" cy="421.3" r="1.18"/><circle cx="341.1" cy="427.2" r="1.18"/><circle cx="300.6" cy="418.6" r="1.18"/><circle cx="258.5" cy="427.3" r="1.18"/><circle cx="307.1" cy="418.1" r="1.18"/><circle cx="247.7" cy="426.5" r="1.18"/><circle cx="280.6" cy="406.8" r="1.18"/><circle cx="300.8" cy="398.0" r="1.18"/><circle cx="328.3" cy="430.3" r="1.18"/><circle cx="216.1" cy="421.1" r="1.18"/><circle cx="129.9" cy="430.0" r="1.18"/><circle cx="294.8" cy="425.9" r="1.18"/><circle cx="237.4" cy="426.7" r="1.18"/><circle cx="267.2" cy="410.3" r="1.18"/><circle cx="179.3" cy="420.1" r="1.18"/><circle cx="211.8" cy="421.7" r="1.18"/><circle cx="338.3" cy="430.0" r="1.18"/><circle cx="297.3" cy="370.2" r="1.18"/><circle cx="256.4" cy="407.2" r="1.18"/><circle cx="301.9" cy="346.9" r="1.18"/><circle cx="261.2" cy="413.0" r="1.18"/><circle cx="231.4" cy="429.9" r="1.18"/><circle cx="140.1" cy="428.5" r="1.18"/><circle cx="313.4" cy="397.3" r="1.18"/><circle cx="174.8" cy="427.8" r="1.18"/><circle cx="221.5" cy="427.4" r="1.18"/><circle cx="332.2" cy="426.5" r="1.18"/><circle cx="290.1" cy="418.9" r="1.18"/><circle cx="229.0" cy="425.1" r="1.18"/><circle cx="236.6" cy="396.2" r="1.18"/><circle cx="92.3" cy="429.7" r="1.18"/><circle cx="228.3" cy="423.4" r="1.18"/><circle cx="244.6" cy="422.1" r="1.18"/><circle cx="90.8" cy="430.8" r="1.18"/><circle cx="269.0" cy="400.8" r="1.18"/><circle cx="232.9" cy="422.4" r="1.18"/><circle cx="273.7" cy="411.3" r="1.18"/><circle cx="262.5" cy="411.1" r="1.18"/><circle cx="373.3" cy="430.9" r="1.18"/><circle cx="302.8" cy="390.7" r="1.18"/><circle cx="174.0" cy="419.7" r="1.18"/><circle cx="314.0" cy="402.0" r="1.18"/><circle cx="164.4" cy="429.5" r="1.18"/><circle cx="293.3" cy="398.6" r="1.18"/><circle cx="324.5" cy="422.1" r="1.18"/><circle cx="289.9" cy="410.0" r="1.18"/><circle cx="109.4" cy="427.9" r="1.18"/><circle cx="164.2" cy="431.0" r="1.18"/><circle cx="158.7" cy="427.5" r="1.18"/><circle cx="103.2" cy="428.5" r="1.18"/><circle cx="95.4" cy="421.8" r="1.18"/><circle cx="284.8" cy="421.4" r="1.18"/><circle cx="290.0" cy="419.6" r="1.18"/><circle cx="233.4" cy="413.8" r="1.18"/><circle cx="327.7" cy="430.9" r="1.18"/><circle cx="309.5" cy="414.9" r="1.18"/><circle cx="252.3" cy="411.6" r="1.18"/><circle cx="302.6" cy="392.4" r="1.18"/><circle cx="221.3" cy="418.9" r="1.18"/><circle cx="172.7" cy="420.4" r="1.18"/><circle cx="292.2" cy="389.5" r="1.18"/><circle cx="299.8" cy="396.9" r="1.18"/><circle cx="166.2" cy="430.0" r="1.18"/><circle cx="225.7" cy="417.7" r="1.18"/><circle cx="318.4" cy="419.5" r="1.18"/><circle cx="312.5" cy="415.9" r="1.18"/><circle cx="333.2" cy="431.3" r="1.18"/><circle cx="121.4" cy="431.1" r="1.18"/><circle cx="134.9" cy="430.2" r="1.18"/><circle cx="260.8" cy="421.2" r="1.18"/><circle cx="308.9" cy="410.4" r="1.18"/><circle cx="151.3" cy="423.0" r="1.18"/><circle cx="227.9" cy="431.0" r="1.18"/><circle cx="298.6" cy="379.3" r="1.18"/><circle cx="231.9" cy="423.2" r="1.18"/><circle cx="300.8" cy="326.8" r="1.18"/><circle cx="247.5" cy="417.6" r="1.18"/><circle cx="300.2" cy="355.2" r="1.18"/><circle cx="282.7" cy="424.1" r="1.18"/><circle cx="302.8" cy="396.0" r="1.18"/><circle cx="163.2" cy="424.9" r="1.18"/><circle cx="138.7" cy="428.2" r="1.18"/><circle cx="296.7" cy="407.7" r="1.18"/><circle cx="108.9" cy="430.2" r="1.18"/><circle cx="259.1" cy="421.9" r="1.18"/><circle cx="176.4" cy="424.1" r="1.18"/><circle cx="248.4" cy="418.8" r="1.18"/><circle cx="309.4" cy="422.4" r="1.18"/><circle cx="251.0" cy="418.5" r="1.18"/><circle cx="76.6" cy="430.6" r="1.18"/><circle cx="363.2" cy="429.7" r="1.18"/><circle cx="322.0" cy="423.9" r="1.18"/><circle cx="223.2" cy="419.0" r="1.18"/><circle cx="281.6" cy="415.2" r="1.18"/><circle cx="294.2" cy="428.6" r="1.18"/><circle cx="174.8" cy="420.9" r="1.18"/><circle cx="347.3" cy="428.9" r="1.18"/><circle cx="262.8" cy="413.2" r="1.18"/><circle cx="163.1" cy="404.0" r="1.18"/><circle cx="246.2" cy="428.7" r="1.18"/><circle cx="253.5" cy="423.2" r="1.18"/><circle cx="76.0" cy="422.2" r="1.18"/><circle cx="222.5" cy="423.1" r="1.18"/><circle cx="219.4" cy="426.1" r="1.18"/><circle cx="161.4" cy="431.3" r="1.18"/><circle cx="133.2" cy="413.3" r="1.18"/><circle cx="285.5" cy="423.0" r="1.18"/><circle cx="323.3" cy="424.2" r="1.18"/><circle cx="163.7" cy="414.4" r="1.18"/><circle cx="324.8" cy="419.4" r="1.18"/><circle cx="289.3" cy="419.1" r="1.18"/><circle cx="325.9" cy="428.8" r="1.18"/><circle cx="247.8" cy="417.7" r="1.18"/><circle cx="376.7" cy="430.3" r="1.18"/><circle cx="123.7" cy="412.9" r="1.18"/><circle cx="283.6" cy="405.1" r="1.18"/><circle cx="197.3" cy="427.9" r="1.18"/><circle cx="93.2" cy="428.5" r="1.18"/><circle cx="241.0" cy="415.8" r="1.18"/><circle cx="305.9" cy="372.7" r="1.18"/><circle cx="80.9" cy="430.6" r="1.18"/><circle cx="161.5" cy="420.4" r="1.18"/><circle cx="187.3" cy="422.0" r="1.18"/><circle cx="76.3" cy="431.4" r="1.18"/><circle cx="280.3" cy="417.2" r="1.18"/><circle cx="299.8" cy="397.5" r="1.18"/><circle cx="273.3" cy="410.5" r="1.18"/><circle cx="225.2" cy="423.8" r="1.18"/><circle cx="295.2" cy="403.3" r="1.18"/><circle cx="308.6" cy="423.3" r="1.18"/><circle cx="262.7" cy="414.3" r="1.18"/><circle cx="232.0" cy="415.5" r="1.18"/><circle cx="193.0" cy="422.7" r="1.18"/><circle cx="168.0" cy="423.8" r="1.18"/><circle cx="301.9" cy="430.2" r="1.18"/><circle cx="296.4" cy="414.7" r="1.18"/><circle cx="301.1" cy="417.4" r="1.18"/><circle cx="228.5" cy="429.9" r="1.18"/><circle cx="292.5" cy="424.0" r="1.18"/><circle cx="262.8" cy="417.1" r="1.18"/><circle cx="159.5" cy="418.0" r="1.18"/><circle cx="277.0" cy="417.7" r="1.18"/><circle cx="179.8" cy="426.3" r="1.18"/><circle cx="230.2" cy="428.4" r="1.18"/><circle cx="259.5" cy="408.6" r="1.18"/><circle cx="293.7" cy="413.5" r="1.18"/><circle cx="299.8" cy="398.8" r="1.18"/><circle cx="330.0" cy="424.6" r="1.18"/><circle cx="330.2" cy="423.4" r="1.18"/><circle cx="240.0" cy="406.8" r="1.18"/><circle cx="273.5" cy="428.2" r="1.18"/><circle cx="323.0" cy="422.5" r="1.18"/><circle cx="306.5" cy="409.3" r="1.18"/><circle cx="312.1" cy="388.7" r="1.18"/><circle cx="226.0" cy="427.0" r="1.18"/><circle cx="286.4" cy="405.6" r="1.18"/><circle cx="174.8" cy="420.2" r="1.18"/><circle cx="239.7" cy="423.3" r="1.18"/><circle cx="300.8" cy="345.4" r="1.18"/><circle cx="293.0" cy="406.0" r="1.18"/><circle cx="229.7" cy="418.5" r="1.18"/><circle cx="331.0" cy="425.1" r="1.18"/><circle cx="300.4" cy="399.2" r="1.18"/><circle cx="300.4" cy="328.7" r="1.18"/><circle cx="300.0" cy="397.6" r="1.18"/><circle cx="129.7" cy="414.4" r="1.18"/><circle cx="132.7" cy="410.7" r="1.18"/><circle cx="268.6" cy="408.0" r="1.18"/><circle cx="238.2" cy="424.2" r="1.18"/><circle cx="280.5" cy="426.4" r="1.18"/><circle cx="302.8" cy="323.7" r="1.18"/><circle cx="306.6" cy="337.5" r="1.18"/><circle cx="240.1" cy="417.8" r="1.18"/><circle cx="266.3" cy="390.6" r="1.18"/><circle cx="312.4" cy="410.8" r="1.18"/><circle cx="318.9" cy="425.7" r="1.18"/><circle cx="165.3" cy="425.4" r="1.18"/><circle cx="293.4" cy="419.8" r="1.18"/><circle cx="297.1" cy="422.1" r="1.18"/><circle cx="293.6" cy="403.1" r="1.18"/><circle cx="134.1" cy="431.4" r="1.18"/><circle cx="173.7" cy="427.1" r="1.18"/><circle cx="304.8" cy="383.5" r="1.18"/><circle cx="314.1" cy="419.9" r="1.18"/><circle cx="338.2" cy="431.1" r="1.18"/><circle cx="176.5" cy="422.1" r="1.18"/><circle cx="317.6" cy="406.7" r="1.18"/><circle cx="220.5" cy="426.0" r="1.18"/><circle cx="306.5" cy="412.4" r="1.18"/><circle cx="301.4" cy="389.0" r="1.18"/><circle cx="157.5" cy="409.9" r="1.18"/><circle cx="258.9" cy="412.7" r="1.18"/><circle cx="86.7" cy="429.8" r="1.18"/><circle cx="159.4" cy="429.5" r="1.18"/><circle cx="304.1" cy="361.6" r="1.18"/><circle cx="342.3" cy="430.0" r="1.18"/><circle cx="234.5" cy="428.0" r="1.18"/><circle cx="71.4" cy="430.1" r="1.18"/><circle cx="246.8" cy="402.2" r="1.18"/><circle cx="206.8" cy="427.8" r="1.18"/><circle cx="200.8" cy="431.1" r="1.18"/><circle cx="158.3" cy="430.2" r="1.18"/><circle cx="317.3" cy="423.6" r="1.18"/><circle cx="288.3" cy="416.2" r="1.18"/><circle cx="144.4" cy="414.6" r="1.18"/><circle cx="230.7" cy="431.4" r="1.18"/><circle cx="306.9" cy="344.1" r="1.18"/><circle cx="247.7" cy="415.2" r="1.18"/><circle cx="310.4" cy="416.0" r="1.18"/><circle cx="83.9" cy="421.6" r="1.18"/><circle cx="140.5" cy="424.8" r="1.18"/><circle cx="134.4" cy="417.7" r="1.18"/><circle cx="238.5" cy="428.9" r="1.18"/><circle cx="328.7" cy="420.4" r="1.18"/><circle cx="299.2" cy="389.7" r="1.18"/><circle cx="78.6" cy="427.6" r="1.18"/><circle cx="294.2" cy="424.4" r="1.18"/><circle cx="293.4" cy="393.5" r="1.18"/><circle cx="303.5" cy="406.2" r="1.18"/><circle cx="261.3" cy="413.4" r="1.18"/><circle cx="193.4" cy="419.9" r="1.18"/><circle cx="252.5" cy="404.1" r="1.18"/><circle cx="291.0" cy="425.6" r="1.18"/><circle cx="282.3" cy="404.9" r="1.18"/><circle cx="332.4" cy="428.0" r="1.18"/><circle cx="285.3" cy="411.5" r="1.18"/><circle cx="252.9" cy="385.3" r="1.18"/><circle cx="203.0" cy="418.2" r="1.18"/><circle cx="301.1" cy="352.1" r="1.18"/><circle cx="297.0" cy="417.1" r="1.18"/><circle cx="302.3" cy="405.2" r="1.18"/><circle cx="117.4" cy="427.4" r="1.18"/><circle cx="84.0" cy="421.2" r="1.18"/><circle cx="258.3" cy="407.6" r="1.18"/><circle cx="241.9" cy="426.9" r="1.18"/><circle cx="264.0" cy="412.8" r="1.18"/><circle cx="226.7" cy="430.9" r="1.18"/><circle cx="72.1" cy="428.1" r="1.18"/><circle cx="323.4" cy="418.1" r="1.18"/><circle cx="305.4" cy="390.3" r="1.18"/><circle cx="144.0" cy="424.4" r="1.18"/><circle cx="344.0" cy="427.8" r="1.18"/><circle cx="281.4" cy="422.2" r="1.18"/><circle cx="276.1" cy="368.4" r="1.18"/><circle cx="252.8" cy="396.7" r="1.18"/><circle cx="281.1" cy="417.9" r="1.18"/><circle cx="75.7" cy="428.2" r="1.18"/><circle cx="115.9" cy="430.9" r="1.18"/><circle cx="301.2" cy="318.5" r="1.18"/><circle cx="276.6" cy="399.2" r="1.18"/><circle cx="260.6" cy="428.0" r="1.18"/><circle cx="258.1" cy="413.5" r="1.18"/><circle cx="186.2" cy="424.6" r="1.18"/><circle cx="307.0" cy="380.4" r="1.18"/><circle cx="296.8" cy="427.1" r="1.18"/><circle cx="161.7" cy="424.0" r="1.18"/><circle cx="290.7" cy="391.6" r="1.18"/><circle cx="246.4" cy="413.6" r="1.18"/><circle cx="106.3" cy="430.4" r="1.18"/><circle cx="319.3" cy="406.6" r="1.18"/><circle cx="300.8" cy="324.9" r="1.18"/><circle cx="98.2" cy="427.8" r="1.18"/><circle cx="233.8" cy="420.3" r="1.18"/><circle cx="340.4" cy="431.0" r="1.18"/><circle cx="234.8" cy="414.4" r="1.18"/><circle cx="190.4" cy="431.2" r="1.18"/><circle cx="266.1" cy="426.2" r="1.18"/><circle cx="304.7" cy="389.6" r="1.18"/><circle cx="330.2" cy="422.3" r="1.18"/><circle cx="105.6" cy="431.2" r="1.18"/><circle cx="184.8" cy="418.9" r="1.18"/><circle cx="291.4" cy="417.8" r="1.18"/><circle cx="258.4" cy="411.5" r="1.18"/><circle cx="313.4" cy="412.6" r="1.18"/><circle cx="180.5" cy="428.9" r="1.18"/><circle cx="366.3" cy="429.9" r="1.18"/><circle cx="269.0" cy="422.6" r="1.18"/><circle cx="159.7" cy="423.8" r="1.18"/><circle cx="278.0" cy="410.7" r="1.18"/><circle cx="306.1" cy="392.0" r="1.18"/><circle cx="314.8" cy="405.0" r="1.18"/><circle cx="133.0" cy="419.6" r="1.18"/><circle cx="213.4" cy="419.0" r="1.18"/><circle cx="146.8" cy="429.7" r="1.18"/><circle cx="198.1" cy="420.7" r="1.18"/><circle cx="86.5" cy="431.0" r="1.18"/><circle cx="248.6" cy="422.0" r="1.18"/><circle cx="271.4" cy="419.2" r="1.18"/><circle cx="85.4" cy="421.0" r="1.18"/><circle cx="185.0" cy="429.7" r="1.18"/><circle cx="262.1" cy="412.0" r="1.18"/><circle cx="305.4" cy="415.1" r="1.18"/><circle cx="226.8" cy="423.6" r="1.18"/><circle cx="308.7" cy="403.9" r="1.18"/><circle cx="230.7" cy="417.6" r="1.18"/><circle cx="349.8" cy="422.5" r="1.18"/><circle cx="321.9" cy="421.4" r="1.18"/><circle cx="359.2" cy="428.8" r="1.18"/><circle cx="66.2" cy="431.3" r="1.18"/><circle cx="273.5" cy="421.1" r="1.18"/><circle cx="95.6" cy="428.5" r="1.18"/><circle cx="301.7" cy="395.9" r="1.18"/><circle cx="170.0" cy="423.6" r="1.18"/><circle cx="272.8" cy="430.7" r="1.18"/><circle cx="333.7" cy="426.8" r="1.18"/><circle cx="293.0" cy="395.3" r="1.18"/><circle cx="300.5" cy="413.7" r="1.18"/><circle cx="224.0" cy="421.7" r="1.18"/><circle cx="319.9" cy="429.4" r="1.18"/><circle cx="156.1" cy="423.6" r="1.18"/><circle cx="278.3" cy="411.8" r="1.18"/><circle cx="313.2" cy="403.9" r="1.18"/><circle cx="365.5" cy="429.8" r="1.18"/><circle cx="124.5" cy="429.8" r="1.18"/><circle cx="323.3" cy="425.7" r="1.18"/><circle cx="251.9" cy="425.2" r="1.18"/><circle cx="286.1" cy="400.5" r="1.18"/><circle cx="327.3" cy="421.5" r="1.18"/><circle cx="196.8" cy="431.1" r="1.18"/><circle cx="288.5" cy="407.6" r="1.18"/><circle cx="289.6" cy="429.8" r="1.18"/><circle cx="156.9" cy="421.9" r="1.18"/><circle cx="332.1" cy="421.5" r="1.18"/><circle cx="251.0" cy="430.6" r="1.18"/><circle cx="174.2" cy="422.4" r="1.18"/><circle cx="163.9" cy="404.5" r="1.18"/><circle cx="187.5" cy="422.1" r="1.18"/><circle cx="285.2" cy="430.9" r="1.18"/><circle cx="311.2" cy="401.3" r="1.18"/><circle cx="301.4" cy="392.1" r="1.18"/><circle cx="250.5" cy="430.5" r="1.18"/><circle cx="258.8" cy="428.3" r="1.18"/><circle cx="233.5" cy="428.0" r="1.18"/><circle cx="300.5" cy="387.6" r="1.18"/><circle cx="253.2" cy="426.2" r="1.18"/><circle cx="371.7" cy="430.1" r="1.18"/><circle cx="303.1" cy="430.0" r="1.18"/><circle cx="307.7" cy="402.9" r="1.18"/><circle cx="294.7" cy="428.9" r="1.18"/><circle cx="283.1" cy="401.1" r="1.18"/><circle cx="309.3" cy="426.5" r="1.18"/><circle cx="274.1" cy="385.2" r="1.18"/><circle cx="275.1" cy="385.6" r="1.18"/><circle cx="158.0" cy="410.3" r="1.18"/><circle cx="305.9" cy="395.0" r="1.18"/><circle cx="161.0" cy="427.6" r="1.18"/><circle cx="188.3" cy="420.6" r="1.18"/><circle cx="326.4" cy="419.9" r="1.18"/><circle cx="282.0" cy="430.5" r="1.18"/><circle cx="292.0" cy="418.8" r="1.18"/><circle cx="224.8" cy="424.2" r="1.18"/><circle cx="310.9" cy="396.1" r="1.18"/><circle cx="112.9" cy="429.8" r="1.18"/><circle cx="290.6" cy="430.7" r="1.18"/><circle cx="291.5" cy="408.3" r="1.18"/><circle cx="151.7" cy="429.9" r="1.18"/><circle cx="117.9" cy="431.3" r="1.18"/><circle cx="258.9" cy="409.0" r="1.18"/><circle cx="313.1" cy="396.4" r="1.18"/><circle cx="370.1" cy="431.0" r="1.18"/><circle cx="302.0" cy="332.7" r="1.18"/><circle cx="223.2" cy="420.9" r="1.18"/><circle cx="293.3" cy="427.7" r="1.18"/><circle cx="302.5" cy="366.3" r="1.18"/><circle cx="337.8" cy="428.3" r="1.18"/><circle cx="208.5" cy="426.1" r="1.18"/><circle cx="137.5" cy="428.7" r="1.18"/><circle cx="361.4" cy="429.2" r="1.18"/><circle cx="299.3" cy="421.2" r="1.18"/><circle cx="188.3" cy="423.7" r="1.18"/><circle cx="227.9" cy="426.4" r="1.18"/><circle cx="319.6" cy="418.1" r="1.18"/><circle cx="165.3" cy="423.1" r="1.18"/><circle cx="282.8" cy="392.1" r="1.18"/><circle cx="196.1" cy="424.6" r="1.18"/><circle cx="325.6" cy="417.8" r="1.18"/><circle cx="190.7" cy="430.7" r="1.18"/><circle cx="254.0" cy="425.7" r="1.18"/><circle cx="301.0" cy="341.0" r="1.18"/><circle cx="143.8" cy="428.5" r="1.18"/><circle cx="239.7" cy="421.8" r="1.18"/><circle cx="294.5" cy="400.5" r="1.18"/><circle cx="243.3" cy="425.7" r="1.18"/><circle cx="304.0" cy="418.2" r="1.18"/><circle cx="281.4" cy="408.7" r="1.18"/><circle cx="296.4" cy="421.2" r="1.18"/><circle cx="259.1" cy="416.7" r="1.18"/><circle cx="299.2" cy="392.7" r="1.18"/><circle cx="293.7" cy="406.9" r="1.18"/><circle cx="321.6" cy="410.0" r="1.18"/><circle cx="236.8" cy="416.5" r="1.18"/><circle cx="319.2" cy="406.2" r="1.18"/><circle cx="168.2" cy="423.9" r="1.18"/><circle cx="300.4" cy="339.1" r="1.18"/><circle cx="311.6" cy="418.6" r="1.18"/><circle cx="266.6" cy="430.9" r="1.18"/><circle cx="214.1" cy="427.5" r="1.18"/><circle cx="260.4" cy="415.4" r="1.18"/><circle cx="269.9" cy="429.0" r="1.18"/><circle cx="242.1" cy="420.7" r="1.18"/><circle cx="208.4" cy="425.4" r="1.18"/><circle cx="321.8" cy="414.7" r="1.18"/><circle cx="357.9" cy="429.1" r="1.18"/><circle cx="301.2" cy="368.7" r="1.18"/><circle cx="279.1" cy="429.9" r="1.18"/><circle cx="175.3" cy="429.9" r="1.18"/><circle cx="308.6" cy="394.7" r="1.18"/><circle cx="291.4" cy="427.3" r="1.18"/><circle cx="271.2" cy="417.5" r="1.18"/><circle cx="263.0" cy="410.0" r="1.18"/><circle cx="295.7" cy="404.6" r="1.18"/><circle cx="357.0" cy="429.5" r="1.18"/><circle cx="220.9" cy="421.4" r="1.18"/><circle cx="146.6" cy="427.0" r="1.18"/><circle cx="167.1" cy="421.6" r="1.18"/><circle cx="279.7" cy="427.2" r="1.18"/><circle cx="213.4" cy="430.4" r="1.18"/><circle cx="281.7" cy="424.6" r="1.18"/><circle cx="285.6" cy="411.3" r="1.18"/><circle cx="197.2" cy="423.0" r="1.18"/><circle cx="326.5" cy="418.7" r="1.18"/><circle cx="254.9" cy="418.2" r="1.18"/><circle cx="180.9" cy="425.0" r="1.18"/><circle cx="285.0" cy="397.0" r="1.18"/><circle cx="248.2" cy="420.8" r="1.18"/><circle cx="305.8" cy="399.7" r="1.18"/><circle cx="301.7" cy="370.2" r="1.18"/><circle cx="262.8" cy="410.6" r="1.18"/><circle cx="302.7" cy="399.0" r="1.18"/><circle cx="252.0" cy="408.2" r="1.18"/><circle cx="250.2" cy="416.1" r="1.18"/><circle cx="281.8" cy="416.5" r="1.18"/><circle cx="231.7" cy="420.8" r="1.18"/><circle cx="313.7" cy="408.8" r="1.18"/><circle cx="163.0" cy="427.0" r="1.18"/><circle cx="253.2" cy="429.0" r="1.18"/><circle cx="160.4" cy="422.9" r="1.18"/><circle cx="292.8" cy="366.5" r="1.18"/><circle cx="219.6" cy="420.4" r="1.18"/><circle cx="261.1" cy="422.2" r="1.18"/><circle cx="280.3" cy="387.6" r="1.18"/><circle cx="319.3" cy="429.0" r="1.18"/><circle cx="294.4" cy="397.5" r="1.18"/><circle cx="274.7" cy="366.4" r="1.18"/><circle cx="247.6" cy="407.4" r="1.18"/><circle cx="290.5" cy="405.8" r="1.18"/><circle cx="231.1" cy="427.9" r="1.18"/><circle cx="306.7" cy="413.9" r="1.18"/><circle cx="263.4" cy="428.4" r="1.18"/><circle cx="312.3" cy="428.0" r="1.18"/><circle cx="256.3" cy="411.6" r="1.18"/><circle cx="281.1" cy="391.6" r="1.18"/><circle cx="300.7" cy="342.7" r="1.18"/><circle cx="276.1" cy="365.2" r="1.18"/><circle cx="155.1" cy="425.3" r="1.18"/><circle cx="289.1" cy="381.2" r="1.18"/><circle cx="152.7" cy="417.1" r="1.18"/><circle cx="250.9" cy="389.3" r="1.18"/><circle cx="307.3" cy="409.1" r="1.18"/><circle cx="132.0" cy="417.7" r="1.18"/><circle cx="328.5" cy="421.6" r="1.18"/><circle cx="146.3" cy="431.1" r="1.18"/><circle cx="82.0" cy="428.9" r="1.18"/><circle cx="282.7" cy="408.1" r="1.18"/><circle cx="187.0" cy="425.3" r="1.18"/><circle cx="163.6" cy="406.4" r="1.18"/><circle cx="151.8" cy="427.9" r="1.18"/><circle cx="272.7" cy="405.3" r="1.18"/><circle cx="164.4" cy="431.3" r="1.18"/><circle cx="180.0" cy="423.9" r="1.18"/><circle cx="242.0" cy="431.3" r="1.18"/><circle cx="301.7" cy="319.8" r="1.18"/><circle cx="275.1" cy="411.1" r="1.18"/><circle cx="306.1" cy="417.1" r="1.18"/><circle cx="344.4" cy="426.8" r="1.18"/><circle cx="294.2" cy="385.7" r="1.18"/><circle cx="112.0" cy="431.4" r="1.18"/><circle cx="232.1" cy="407.6" r="1.18"/><circle cx="271.2" cy="425.0" r="1.18"/><circle cx="269.0" cy="427.6" r="1.18"/><circle cx="368.2" cy="430.0" r="1.18"/><circle cx="301.0" cy="413.5" r="1.18"/><circle cx="317.3" cy="405.0" r="1.18"/><circle cx="371.3" cy="430.0" r="1.18"/><circle cx="305.4" cy="397.8" r="1.18"/><circle cx="288.4" cy="416.1" r="1.18"/><circle cx="160.1" cy="431.4" r="1.18"/><circle cx="233.5" cy="415.0" r="1.18"/><circle cx="163.6" cy="425.8" r="1.18"/><circle cx="172.4" cy="420.9" r="1.18"/><circle cx="98.8" cy="428.2" r="1.18"/><circle cx="280.1" cy="404.4" r="1.18"/><circle cx="158.4" cy="419.8" r="1.18"/><circle cx="279.1" cy="414.3" r="1.18"/><circle cx="324.2" cy="425.3" r="1.18"/><circle cx="313.5" cy="428.6" r="1.18"/><circle cx="79.8" cy="428.0" r="1.18"/><circle cx="206.5" cy="427.1" r="1.18"/><circle cx="244.3" cy="419.4" r="1.18"/><circle cx="168.1" cy="422.0" r="1.18"/><circle cx="232.9" cy="422.5" r="1.18"/><circle cx="149.1" cy="426.7" r="1.18"/><circle cx="300.6" cy="393.8" r="1.18"/><circle cx="227.4" cy="419.5" r="1.18"/><circle cx="181.4" cy="427.8" r="1.18"/><circle cx="177.6" cy="422.2" r="1.18"/><circle cx="322.0" cy="427.7" r="1.18"/><circle cx="290.5" cy="418.9" r="1.18"/><circle cx="242.4" cy="402.9" r="1.18"/><circle cx="232.1" cy="425.1" r="1.18"/><circle cx="344.3" cy="431.2" r="1.18"/><circle cx="326.4" cy="424.2" r="1.18"/><circle cx="318.6" cy="424.9" r="1.18"/><circle cx="262.3" cy="411.9" r="1.18"/><circle cx="128.6" cy="428.9" r="1.18"/><circle cx="178.3" cy="423.3" r="1.18"/><circle cx="149.9" cy="431.2" r="1.18"/><circle cx="324.7" cy="418.2" r="1.18"/><circle cx="184.9" cy="429.6" r="1.18"/><circle cx="258.3" cy="404.4" r="1.18"/><circle cx="157.1" cy="428.7" r="1.18"/><circle cx="229.8" cy="422.7" r="1.18"/><circle cx="155.4" cy="424.3" r="1.18"/><circle cx="204.2" cy="416.6" r="1.18"/><circle cx="366.8" cy="425.6" r="1.18"/><circle cx="294.5" cy="388.4" r="1.18"/><circle cx="229.9" cy="416.3" r="1.18"/><circle cx="297.0" cy="404.1" r="1.18"/><circle cx="155.6" cy="428.4" r="1.18"/><circle cx="93.8" cy="422.1" r="1.18"/><circle cx="80.6" cy="421.4" r="1.18"/><circle cx="330.4" cy="423.8" r="1.18"/><circle cx="237.5" cy="431.3" r="1.18"/><circle cx="215.1" cy="424.0" r="1.18"/><circle cx="92.1" cy="421.8" r="1.18"/><circle cx="211.4" cy="428.4" r="1.18"/><circle cx="318.3" cy="405.8" r="1.18"/><circle cx="284.2" cy="420.0" r="1.18"/><circle cx="254.5" cy="424.4" r="1.18"/><circle cx="244.3" cy="418.6" r="1.18"/><circle cx="301.4" cy="401.7" r="1.18"/><circle cx="302.9" cy="398.6" r="1.18"/><circle cx="307.2" cy="401.7" r="1.18"/><circle cx="176.5" cy="421.1" r="1.18"/><circle cx="211.9" cy="426.2" r="1.18"/><circle cx="186.0" cy="429.3" r="1.18"/><circle cx="312.3" cy="422.2" r="1.18"/><circle cx="205.4" cy="421.9" r="1.18"/><circle cx="346.3" cy="426.7" r="1.18"/><circle cx="267.4" cy="429.0" r="1.18"/><circle cx="249.6" cy="415.0" r="1.18"/><circle cx="182.5" cy="428.7" r="1.18"/><circle cx="266.2" cy="412.6" r="1.18"/><circle cx="302.8" cy="396.3" r="1.18"/><circle cx="293.2" cy="410.7" r="1.18"/><circle cx="129.4" cy="431.0" r="1.18"/><circle cx="217.8" cy="424.4" r="1.18"/><circle cx="324.0" cy="426.0" r="1.18"/><circle cx="301.1" cy="419.9" r="1.18"/><circle cx="262.1" cy="430.6" r="1.18"/><circle cx="329.4" cy="425.6" r="1.18"/><circle cx="260.4" cy="420.9" r="1.18"/><circle cx="300.4" cy="332.3" r="1.18"/><circle cx="67.0" cy="428.6" r="1.18"/><circle cx="223.3" cy="431.0" r="1.18"/><circle cx="106.9" cy="431.1" r="1.18"/><circle cx="288.5" cy="406.9" r="1.18"/><circle cx="179.4" cy="419.7" r="1.18"/><circle cx="317.7" cy="395.4" r="1.18"/><circle cx="263.8" cy="428.1" r="1.18"/><circle cx="129.9" cy="429.8" r="1.18"/><circle cx="314.7" cy="413.2" r="1.18"/><circle cx="301.8" cy="414.3" r="1.18"/><circle cx="208.9" cy="427.4" r="1.18"/><circle cx="309.8" cy="396.2" r="1.18"/><circle cx="221.9" cy="426.2" r="1.18"/><circle cx="190.4" cy="421.6" r="1.18"/><circle cx="300.5" cy="316.1" r="1.18"/><circle cx="311.2" cy="424.6" r="1.18"/><circle cx="272.0" cy="389.8" r="1.18"/><circle cx="325.1" cy="408.9" r="1.18"/><circle cx="262.3" cy="415.6" r="1.18"/><circle cx="246.5" cy="402.0" r="1.18"/><circle cx="110.7" cy="429.9" r="1.18"/><circle cx="313.0" cy="410.7" r="1.18"/><circle cx="108.2" cy="430.5" r="1.18"/><circle cx="305.2" cy="423.2" r="1.18"/><circle cx="275.8" cy="403.6" r="1.18"/><circle cx="308.0" cy="395.7" r="1.18"/><circle cx="142.9" cy="429.0" r="1.18"/><circle cx="307.0" cy="361.7" r="1.18"/><circle cx="307.8" cy="418.2" r="1.18"/><circle cx="290.8" cy="399.4" r="1.18"/><circle cx="281.1" cy="420.4" r="1.18"/><circle cx="156.3" cy="423.0" r="1.18"/><circle cx="316.4" cy="417.1" r="1.18"/><circle cx="343.0" cy="427.6" r="1.18"/><circle cx="304.1" cy="363.7" r="1.18"/><circle cx="202.3" cy="427.7" r="1.18"/><circle cx="232.8" cy="422.1" r="1.18"/><circle cx="334.6" cy="422.6" r="1.18"/><circle cx="241.2" cy="412.2" r="1.18"/><circle cx="259.7" cy="414.2" r="1.18"/><circle cx="174.9" cy="424.9" r="1.18"/><circle cx="297.1" cy="370.0" r="1.18"/><circle cx="157.0" cy="422.3" r="1.18"/><circle cx="193.7" cy="426.7" r="1.18"/><circle cx="222.0" cy="427.4" r="1.18"/><circle cx="296.6" cy="399.4" r="1.18"/><circle cx="304.0" cy="385.7" r="1.18"/><circle cx="108.2" cy="427.7" r="1.18"/><circle cx="319.1" cy="396.2" r="1.18"/><circle cx="320.1" cy="424.8" r="1.18"/><circle cx="83.5" cy="429.1" r="1.18"/><circle cx="335.8" cy="431.3" r="1.18"/><circle cx="86.6" cy="427.7" r="1.18"/><circle cx="274.3" cy="427.5" r="1.18"/><circle cx="158.2" cy="425.0" r="1.18"/><circle cx="163.1" cy="424.1" r="1.18"/><circle cx="146.1" cy="425.8" r="1.18"/><circle cx="92.8" cy="420.7" r="1.18"/><circle cx="156.5" cy="416.5" r="1.18"/><circle cx="283.0" cy="403.7" r="1.18"/><circle cx="65.7" cy="428.3" r="1.18"/><circle cx="186.8" cy="419.7" r="1.18"/><circle cx="217.8" cy="419.0" r="1.18"/><circle cx="140.0" cy="431.3" r="1.18"/><circle cx="296.9" cy="412.7" r="1.18"/><circle cx="271.8" cy="431.2" r="1.18"/><circle cx="135.2" cy="426.8" r="1.18"/><circle cx="312.9" cy="398.3" r="1.18"/><circle cx="122.7" cy="429.7" r="1.18"/><circle cx="158.6" cy="427.0" r="1.18"/><circle cx="208.7" cy="407.4" r="1.18"/><circle cx="246.3" cy="419.2" r="1.18"/><circle cx="80.2" cy="421.0" r="1.18"/><circle cx="152.6" cy="413.6" r="1.18"/><circle cx="299.9" cy="382.9" r="1.18"/><circle cx="280.9" cy="399.0" r="1.18"/><circle cx="204.3" cy="425.5" r="1.18"/><circle cx="266.2" cy="425.3" r="1.18"/><circle cx="290.4" cy="398.6" r="1.18"/><circle cx="311.5" cy="397.2" r="1.18"/><circle cx="173.2" cy="420.9" r="1.18"/><circle cx="274.5" cy="366.7" r="1.18"/><circle cx="207.6" cy="430.1" r="1.18"/><circle cx="251.2" cy="390.9" r="1.18"/><circle cx="156.5" cy="410.7" r="1.18"/><circle cx="224.0" cy="431.4" r="1.18"/><circle cx="282.1" cy="400.3" r="1.18"/><circle cx="125.5" cy="428.2" r="1.18"/><circle cx="179.7" cy="429.5" r="1.18"/><circle cx="362.0" cy="423.0" r="1.18"/><circle cx="130.7" cy="412.1" r="1.18"/><circle cx="299.4" cy="418.0" r="1.18"/><circle cx="269.9" cy="430.8" r="1.18"/><circle cx="266.3" cy="408.9" r="1.18"/><circle cx="276.3" cy="428.1" r="1.18"/><circle cx="295.2" cy="371.4" r="1.18"/><circle cx="249.6" cy="421.1" r="1.18"/><circle cx="299.0" cy="400.4" r="1.18"/><circle cx="291.2" cy="377.9" r="1.18"/><circle cx="306.4" cy="410.0" r="1.18"/><circle cx="291.7" cy="397.8" r="1.18"/><circle cx="286.2" cy="424.8" r="1.18"/><circle cx="302.8" cy="320.7" r="1.18"/><circle cx="256.6" cy="423.3" r="1.18"/><circle cx="277.9" cy="407.8" r="1.18"/><circle cx="67.6" cy="428.2" r="1.18"/><circle cx="313.2" cy="412.7" r="1.18"/><circle cx="201.7" cy="418.2" r="1.18"/><circle cx="211.3" cy="419.7" r="1.18"/><circle cx="306.9" cy="410.8" r="1.18"/><circle cx="328.6" cy="431.0" r="1.18"/><circle cx="278.1" cy="426.7" r="1.18"/><circle cx="299.0" cy="404.6" r="1.18"/><circle cx="276.0" cy="419.1" r="1.18"/><circle cx="359.9" cy="429.6" r="1.18"/><circle cx="157.9" cy="411.1" r="1.18"/><circle cx="283.3" cy="430.1" r="1.18"/><circle cx="67.0" cy="427.8" r="1.18"/><circle cx="198.0" cy="422.2" r="1.18"/><circle cx="338.9" cy="431.1" r="1.18"/><circle cx="280.7" cy="397.0" r="1.18"/><circle cx="273.7" cy="365.1" r="1.18"/><circle cx="163.9" cy="411.0" r="1.18"/><circle cx="298.7" cy="396.1" r="1.18"/><circle cx="304.7" cy="397.2" r="1.18"/><circle cx="111.2" cy="428.2" r="1.18"/><circle cx="201.7" cy="429.9" r="1.18"/><circle cx="310.3" cy="399.5" r="1.18"/><circle cx="341.8" cy="431.2" r="1.18"/><circle cx="93.8" cy="428.2" r="1.18"/><circle cx="186.1" cy="426.2" r="1.18"/><circle cx="182.6" cy="420.4" r="1.18"/><circle cx="307.2" cy="402.0" r="1.18"/><circle cx="153.0" cy="431.1" r="1.18"/><circle cx="162.4" cy="429.2" r="1.18"/><circle cx="238.8" cy="421.0" r="1.18"/><circle cx="289.2" cy="415.5" r="1.18"/><circle cx="173.0" cy="419.5" r="1.18"/><circle cx="246.0" cy="414.0" r="1.18"/><circle cx="257.1" cy="406.3" r="1.18"/><circle cx="238.8" cy="418.3" r="1.18"/><circle cx="198.9" cy="430.3" r="1.18"/><circle cx="339.1" cy="427.9" r="1.18"/><circle cx="98.8" cy="430.6" r="1.18"/><circle cx="302.5" cy="326.3" r="1.18"/><circle cx="180.8" cy="423.1" r="1.18"/><circle cx="284.2" cy="427.7" r="1.18"/><circle cx="351.2" cy="428.5" r="1.18"/><circle cx="124.0" cy="413.4" r="1.18"/><circle cx="354.2" cy="430.0" r="1.18"/><circle cx="274.8" cy="414.9" r="1.18"/><circle cx="307.1" cy="408.5" r="1.18"/><circle cx="259.7" cy="414.8" r="1.18"/><circle cx="163.7" cy="425.6" r="1.18"/><circle cx="230.3" cy="431.0" r="1.18"/><circle cx="271.4" cy="412.3" r="1.18"/><circle cx="338.6" cy="425.7" r="1.18"/><circle cx="289.8" cy="381.9" r="1.18"/><circle cx="350.8" cy="421.5" r="1.18"/><circle cx="239.5" cy="402.3" r="1.18"/><circle cx="275.0" cy="423.8" r="1.18"/><circle cx="377.5" cy="430.3" r="1.18"/><circle cx="377.4" cy="430.4" r="1.18"/><circle cx="301.2" cy="411.0" r="1.18"/><circle cx="243.4" cy="422.9" r="1.18"/><circle cx="282.5" cy="418.2" r="1.18"/><circle cx="154.7" cy="423.5" r="1.18"/><circle cx="236.0" cy="426.8" r="1.18"/><circle cx="232.6" cy="427.3" r="1.18"/><circle cx="249.1" cy="411.9" r="1.18"/><circle cx="287.6" cy="397.4" r="1.18"/><circle cx="243.6" cy="427.6" r="1.18"/><circle cx="247.0" cy="429.9" r="1.18"/><circle cx="240.2" cy="414.4" r="1.18"/><circle cx="267.8" cy="427.4" r="1.18"/><circle cx="300.1" cy="367.5" r="1.18"/><circle cx="289.1" cy="420.1" r="1.18"/><circle cx="154.2" cy="417.8" r="1.18"/><circle cx="184.2" cy="422.7" r="1.18"/><circle cx="299.9" cy="362.7" r="1.18"/><circle cx="304.7" cy="391.3" r="1.18"/><circle cx="296.9" cy="394.0" r="1.18"/><circle cx="163.7" cy="423.7" r="1.18"/><circle cx="81.8" cy="428.6" r="1.18"/><circle cx="308.9" cy="426.4" r="1.18"/><circle cx="281.6" cy="390.3" r="1.18"/><circle cx="301.6" cy="411.4" r="1.18"/><circle cx="259.8" cy="429.1" r="1.18"/><circle cx="335.2" cy="425.6" r="1.18"/><circle cx="250.4" cy="429.9" r="1.18"/><circle cx="249.7" cy="414.3" r="1.18"/><circle cx="287.0" cy="403.1" r="1.18"/><circle cx="305.0" cy="368.9" r="1.18"/><circle cx="302.7" cy="362.8" r="1.18"/><circle cx="163.6" cy="418.9" r="1.18"/><circle cx="311.5" cy="400.2" r="1.18"/><circle cx="188.9" cy="430.9" r="1.18"/><circle cx="174.5" cy="430.9" r="1.18"/><circle cx="350.7" cy="430.1" r="1.18"/><circle cx="302.3" cy="343.2" r="1.18"/><circle cx="80.6" cy="427.6" r="1.18"/><circle cx="271.2" cy="409.9" r="1.18"/><circle cx="301.8" cy="415.9" r="1.18"/><circle cx="284.8" cy="363.1" r="1.18"/><circle cx="251.6" cy="409.7" r="1.18"/><circle cx="189.8" cy="425.9" r="1.18"/><circle cx="313.9" cy="418.1" r="1.18"/><circle cx="315.7" cy="423.1" r="1.18"/><circle cx="233.1" cy="417.9" r="1.18"/><circle cx="311.0" cy="413.5" r="1.18"/><circle cx="286.3" cy="430.3" r="1.18"/><circle cx="299.5" cy="389.0" r="1.18"/><circle cx="281.1" cy="417.9" r="1.18"/><circle cx="269.4" cy="425.9" r="1.18"/><circle cx="142.7" cy="426.1" r="1.18"/><circle cx="92.9" cy="429.9" r="1.18"/><circle cx="246.5" cy="416.6" r="1.18"/><circle cx="286.4" cy="381.1" r="1.18"/><circle cx="157.7" cy="430.5" r="1.18"/><circle cx="239.5" cy="423.4" r="1.18"/><circle cx="152.1" cy="430.5" r="1.18"/><circle cx="320.1" cy="413.8" r="1.18"/><circle cx="331.2" cy="422.4" r="1.18"/><circle cx="301.5" cy="364.5" r="1.18"/><circle cx="314.5" cy="417.7" r="1.18"/><circle cx="250.4" cy="412.3" r="1.18"/><circle cx="158.7" cy="424.3" r="1.18"/><circle cx="240.5" cy="430.5" r="1.18"/><circle cx="243.1" cy="422.1" r="1.18"/><circle cx="299.5" cy="399.0" r="1.18"/><circle cx="247.0" cy="412.5" r="1.18"/><circle cx="256.6" cy="428.0" r="1.18"/><circle cx="239.7" cy="429.4" r="1.18"/><circle cx="320.7" cy="414.9" r="1.18"/><circle cx="291.3" cy="379.6" r="1.18"/><circle cx="286.9" cy="410.4" r="1.18"/><circle cx="220.3" cy="426.9" r="1.18"/><circle cx="226.0" cy="431.2" r="1.18"/><circle cx="232.6" cy="420.4" r="1.18"/><circle cx="244.6" cy="431.1" r="1.18"/><circle cx="274.9" cy="430.9" r="1.18"/><circle cx="297.4" cy="423.9" r="1.18"/><circle cx="301.4" cy="317.1" r="1.18"/><circle cx="281.1" cy="426.5" r="1.18"/><circle cx="200.5" cy="425.2" r="1.18"/><circle cx="242.3" cy="414.5" r="1.18"/><circle cx="305.8" cy="349.8" r="1.18"/><circle cx="136.3" cy="426.5" r="1.18"/><circle cx="220.2" cy="415.9" r="1.18"/><circle cx="222.6" cy="420.9" r="1.18"/><circle cx="258.0" cy="414.3" r="1.18"/><circle cx="237.4" cy="417.2" r="1.18"/><circle cx="238.2" cy="425.3" r="1.18"/><circle cx="312.1" cy="380.5" r="1.18"/><circle cx="289.1" cy="414.6" r="1.18"/><circle cx="251.9" cy="411.2" r="1.18"/><circle cx="337.1" cy="426.2" r="1.18"/><circle cx="255.2" cy="429.0" r="1.18"/><circle cx="76.1" cy="430.1" r="1.18"/><circle cx="199.6" cy="422.3" r="1.18"/><circle cx="245.3" cy="431.4" r="1.18"/><circle cx="306.0" cy="419.1" r="1.18"/><circle cx="65.5" cy="430.9" r="1.18"/><circle cx="301.4" cy="322.6" r="1.18"/><circle cx="292.5" cy="414.5" r="1.18"/><circle cx="202.1" cy="420.8" r="1.18"/><circle cx="72.7" cy="421.9" r="1.18"/><circle cx="78.8" cy="431.2" r="1.18"/><circle cx="361.3" cy="429.6" r="1.18"/><circle cx="210.0" cy="430.0" r="1.18"/><circle cx="324.4" cy="427.1" r="1.18"/><circle cx="158.3" cy="414.3" r="1.18"/><circle cx="320.0" cy="411.5" r="1.18"/><circle cx="304.5" cy="403.5" r="1.18"/><circle cx="220.4" cy="429.1" r="1.18"/><circle cx="164.1" cy="409.3" r="1.18"/><circle cx="271.6" cy="418.9" r="1.18"/><circle cx="305.4" cy="411.6" r="1.18"/><circle cx="306.6" cy="344.3" r="1.18"/><circle cx="287.6" cy="421.9" r="1.18"/><circle cx="256.2" cy="412.0" r="1.18"/><circle cx="145.9" cy="413.6" r="1.18"/><circle cx="266.5" cy="430.2" r="1.18"/><circle cx="218.3" cy="422.8" r="1.18"/><circle cx="224.5" cy="426.5" r="1.18"/><circle cx="71.9" cy="431.2" r="1.18"/><circle cx="268.7" cy="410.7" r="1.18"/><circle cx="260.4" cy="430.0" r="1.18"/><circle cx="274.8" cy="422.5" r="1.18"/><circle cx="321.3" cy="417.2" r="1.18"/><circle cx="283.9" cy="430.2" r="1.18"/><circle cx="158.5" cy="416.9" r="1.18"/><circle cx="180.4" cy="422.7" r="1.18"/><circle cx="176.8" cy="431.2" r="1.18"/><circle cx="334.7" cy="428.7" r="1.18"/><circle cx="296.0" cy="406.1" r="1.18"/><circle cx="205.8" cy="424.3" r="1.18"/><circle cx="195.6" cy="422.1" r="1.18"/><circle cx="141.5" cy="425.1" r="1.18"/><circle cx="184.0" cy="421.2" r="1.18"/><circle cx="96.0" cy="431.2" r="1.18"/><circle cx="97.6" cy="426.2" r="1.18"/><circle cx="327.7" cy="428.5" r="1.18"/><circle cx="188.6" cy="423.3" r="1.18"/><circle cx="302.5" cy="321.4" r="1.18"/><circle cx="354.5" cy="429.6" r="1.18"/><circle cx="297.6" cy="424.0" r="1.18"/><circle cx="229.0" cy="418.0" r="1.18"/><circle cx="268.3" cy="396.7" r="1.18"/><circle cx="252.4" cy="421.6" r="1.18"/><circle cx="178.9" cy="426.6" r="1.18"/><circle cx="78.6" cy="431.2" r="1.18"/><circle cx="249.9" cy="416.6" r="1.18"/><circle cx="204.3" cy="429.8" r="1.18"/><circle cx="246.8" cy="420.4" r="1.18"/><circle cx="325.2" cy="424.0" r="1.18"/><circle cx="218.5" cy="426.6" r="1.18"/><circle cx="297.0" cy="402.5" r="1.18"/><circle cx="324.3" cy="418.1" r="1.18"/><circle cx="255.5" cy="430.9" r="1.18"/><circle cx="138.3" cy="428.1" r="1.18"/><circle cx="292.1" cy="413.9" r="1.18"/><circle cx="288.6" cy="420.9" r="1.18"/><circle cx="300.7" cy="331.4" r="1.18"/><circle cx="215.0" cy="420.7" r="1.18"/><circle cx="321.4" cy="417.8" r="1.18"/><circle cx="221.7" cy="423.0" r="1.18"/><circle cx="357.3" cy="430.9" r="1.18"/><circle cx="286.6" cy="422.6" r="1.18"/><circle cx="181.9" cy="420.6" r="1.18"/><circle cx="300.4" cy="418.8" r="1.18"/><circle cx="144.2" cy="431.3" r="1.18"/><circle cx="305.1" cy="397.7" r="1.18"/><circle cx="279.3" cy="420.3" r="1.18"/><circle cx="280.3" cy="430.3" r="1.18"/><circle cx="145.7" cy="425.4" r="1.18"/><circle cx="259.2" cy="412.9" r="1.18"/><circle cx="242.8" cy="418.1" r="1.18"/><circle cx="107.6" cy="431.1" r="1.18"/><circle cx="285.5" cy="431.1" r="1.18"/><circle cx="161.6" cy="415.3" r="1.18"/><circle cx="315.0" cy="429.2" r="1.18"/><circle cx="207.6" cy="421.9" r="1.18"/><circle cx="218.0" cy="428.7" r="1.18"/><circle cx="307.3" cy="396.0" r="1.18"/><circle cx="300.8" cy="340.3" r="1.18"/><circle cx="167.7" cy="429.0" r="1.18"/><circle cx="173.1" cy="420.9" r="1.18"/><circle cx="114.0" cy="427.7" r="1.18"/><circle cx="178.9" cy="421.4" r="1.18"/><circle cx="281.6" cy="425.6" r="1.18"/><circle cx="163.1" cy="412.3" r="1.18"/><circle cx="335.3" cy="420.9" r="1.18"/><circle cx="119.4" cy="430.0" r="1.18"/><circle cx="180.6" cy="431.3" r="1.18"/><circle cx="91.1" cy="428.7" r="1.18"/><circle cx="230.4" cy="427.4" r="1.18"/><circle cx="240.2" cy="422.1" r="1.18"/><circle cx="275.2" cy="384.2" r="1.18"/><circle cx="242.3" cy="419.4" r="1.18"/><circle cx="198.1" cy="424.7" r="1.18"/><circle cx="144.7" cy="425.7" r="1.18"/><circle cx="205.4" cy="421.9" r="1.18"/><circle cx="273.8" cy="428.4" r="1.18"/><circle cx="169.8" cy="431.1" r="1.18"/><circle cx="260.1" cy="413.3" r="1.18"/><circle cx="351.8" cy="428.6" r="1.18"/><circle cx="200.0" cy="423.4" r="1.18"/><circle cx="248.6" cy="398.9" r="1.18"/><circle cx="299.9" cy="325.6" r="1.18"/><circle cx="326.5" cy="419.9" r="1.18"/><circle cx="241.8" cy="416.7" r="1.18"/><circle cx="188.8" cy="420.0" r="1.18"/><circle cx="97.6" cy="428.4" r="1.18"/><circle cx="304.6" cy="345.8" r="1.18"/><circle cx="286.9" cy="420.1" r="1.18"/><circle cx="132.2" cy="426.2" r="1.18"/><circle cx="309.4" cy="399.7" r="1.18"/><circle cx="257.8" cy="413.1" r="1.18"/><circle cx="310.4" cy="401.0" r="1.18"/><circle cx="172.6" cy="421.9" r="1.18"/><circle cx="307.5" cy="396.0" r="1.18"/><circle cx="265.1" cy="411.8" r="1.18"/><circle cx="187.5" cy="422.4" r="1.18"/><circle cx="298.1" cy="369.7" r="1.18"/><circle cx="235.5" cy="413.6" r="1.18"/><circle cx="304.5" cy="413.7" r="1.18"/><circle cx="106.6" cy="427.8" r="1.18"/><circle cx="163.3" cy="421.3" r="1.18"/><circle cx="293.1" cy="425.0" r="1.18"/><circle cx="266.2" cy="413.0" r="1.18"/><circle cx="210.9" cy="426.9" r="1.18"/><circle cx="318.5" cy="403.9" r="1.18"/><circle cx="240.1" cy="413.6" r="1.18"/><circle cx="254.8" cy="418.1" r="1.18"/><circle cx="281.4" cy="429.0" r="1.18"/><circle cx="233.0" cy="420.1" r="1.18"/><circle cx="298.2" cy="400.1" r="1.18"/><circle cx="163.7" cy="413.3" r="1.18"/><circle cx="309.3" cy="424.7" r="1.18"/><circle cx="302.4" cy="402.6" r="1.18"/><circle cx="157.9" cy="421.4" r="1.18"/><circle cx="315.1" cy="431.1" r="1.18"/><circle cx="179.2" cy="422.7" r="1.18"/><circle cx="192.9" cy="422.3" r="1.18"/><circle cx="204.8" cy="425.0" r="1.18"/><circle cx="308.6" cy="422.9" r="1.18"/><circle cx="250.3" cy="424.6" r="1.18"/><circle cx="235.1" cy="423.8" r="1.18"/><circle cx="234.4" cy="418.9" r="1.18"/><circle cx="302.9" cy="395.6" r="1.18"/><circle cx="299.0" cy="396.4" r="1.18"/><circle cx="158.2" cy="407.8" r="1.18"/><circle cx="286.6" cy="409.8" r="1.18"/><circle cx="132.2" cy="415.0" r="1.18"/><circle cx="258.6" cy="413.2" r="1.18"/><circle cx="160.5" cy="414.4" r="1.18"/><circle cx="314.9" cy="429.6" r="1.18"/><circle cx="301.0" cy="427.1" r="1.18"/><circle cx="100.0" cy="431.1" r="1.18"/><circle cx="139.6" cy="426.9" r="1.18"/><circle cx="298.1" cy="389.8" r="1.18"/><circle cx="167.0" cy="420.3" r="1.18"/><circle cx="270.7" cy="412.2" r="1.18"/><circle cx="367.9" cy="431.1" r="1.18"/><circle cx="311.9" cy="411.0" r="1.18"/><circle cx="129.8" cy="414.0" r="1.18"/><circle cx="283.6" cy="389.2" r="1.18"/><circle cx="269.8" cy="417.6" r="1.18"/><circle cx="180.8" cy="422.9" r="1.18"/><circle cx="203.2" cy="419.5" r="1.18"/><circle cx="265.8" cy="400.0" r="1.18"/><circle cx="77.3" cy="431.3" r="1.18"/><circle cx="316.7" cy="420.1" r="1.18"/><circle cx="300.4" cy="342.6" r="1.18"/><circle cx="67.5" cy="428.6" r="1.18"/><circle cx="268.8" cy="413.9" r="1.18"/><circle cx="227.8" cy="428.3" r="1.18"/><circle cx="292.2" cy="372.2" r="1.18"/><circle cx="301.9" cy="386.0" r="1.18"/><circle cx="293.2" cy="399.9" r="1.18"/><circle cx="236.2" cy="423.9" r="1.18"/><circle cx="300.7" cy="424.8" r="1.18"/><circle cx="262.0" cy="419.9" r="1.18"/><circle cx="291.3" cy="427.4" r="1.18"/><circle cx="175.9" cy="420.2" r="1.18"/><circle cx="157.3" cy="425.4" r="1.18"/><circle cx="175.8" cy="426.7" r="1.18"/><circle cx="156.1" cy="423.0" r="1.18"/><circle cx="152.9" cy="423.7" r="1.18"/><circle cx="315.9" cy="422.4" r="1.18"/><circle cx="109.8" cy="430.9" r="1.18"/><circle cx="298.9" cy="392.1" r="1.18"/><circle cx="281.8" cy="395.4" r="1.18"/><circle cx="269.5" cy="412.3" r="1.18"/><circle cx="170.6" cy="428.6" r="1.18"/><circle cx="128.6" cy="430.2" r="1.18"/><circle cx="312.5" cy="404.1" r="1.18"/><circle cx="139.4" cy="413.2" r="1.18"/><circle cx="270.5" cy="411.1" r="1.18"/><circle cx="316.2" cy="416.7" r="1.18"/><circle cx="209.1" cy="424.9" r="1.18"/><circle cx="163.2" cy="431.1" r="1.18"/><circle cx="299.5" cy="429.5" r="1.18"/><circle cx="176.7" cy="431.4" r="1.18"/><circle cx="185.3" cy="421.5" r="1.18"/><circle cx="282.8" cy="409.7" r="1.18"/><circle cx="85.1" cy="421.3" r="1.18"/><circle cx="91.9" cy="428.2" r="1.18"/><circle cx="288.6" cy="404.4" r="1.18"/><circle cx="248.5" cy="414.7" r="1.18"/><circle cx="300.9" cy="334.0" r="1.18"/><circle cx="299.0" cy="397.4" r="1.18"/><circle cx="73.8" cy="427.9" r="1.18"/><circle cx="232.2" cy="417.6" r="1.18"/><circle cx="291.7" cy="402.3" r="1.18"/><circle cx="198.1" cy="425.5" r="1.18"/><circle cx="173.0" cy="421.5" r="1.18"/><circle cx="297.8" cy="429.7" r="1.18"/><circle cx="301.0" cy="352.9" r="1.18"/><circle cx="214.7" cy="428.1" r="1.18"/><circle cx="327.3" cy="412.3" r="1.18"/><circle cx="123.0" cy="428.0" r="1.18"/><circle cx="358.1" cy="428.7" r="1.18"/><circle cx="358.3" cy="431.3" r="1.18"/><circle cx="298.4" cy="393.4" r="1.18"/><circle cx="302.5" cy="408.5" r="1.18"/><circle cx="125.2" cy="431.1" r="1.18"/><circle cx="237.2" cy="430.8" r="1.18"/><circle cx="175.6" cy="430.1" r="1.18"/><circle cx="277.0" cy="404.8" r="1.18"/><circle cx="254.7" cy="412.9" r="1.18"/><circle cx="309.3" cy="425.6" r="1.18"/><circle cx="300.7" cy="351.4" r="1.18"/><circle cx="219.5" cy="425.1" r="1.18"/><circle cx="147.8" cy="429.0" r="1.18"/><circle cx="303.7" cy="404.6" r="1.18"/><circle cx="181.9" cy="431.2" r="1.18"/><circle cx="160.8" cy="427.4" r="1.18"/><circle cx="294.1" cy="396.1" r="1.18"/><circle cx="159.7" cy="428.6" r="1.18"/><circle cx="243.9" cy="430.0" r="1.18"/><circle cx="224.6" cy="417.8" r="1.18"/><circle cx="339.1" cy="428.8" r="1.18"/><circle cx="265.2" cy="425.1" r="1.18"/><circle cx="301.5" cy="328.5" r="1.18"/><circle cx="308.0" cy="397.9" r="1.18"/><circle cx="142.9" cy="428.9" r="1.18"/><circle cx="159.9" cy="421.6" r="1.18"/><circle cx="283.0" cy="403.4" r="1.18"/><circle cx="316.3" cy="416.8" r="1.18"/><circle cx="270.0" cy="408.4" r="1.18"/><circle cx="240.2" cy="426.7" r="1.18"/><circle cx="248.8" cy="414.8" r="1.18"/><circle cx="224.8" cy="412.9" r="1.18"/><circle cx="135.3" cy="426.9" r="1.18"/><circle cx="285.7" cy="401.1" r="1.18"/><circle cx="241.1" cy="420.5" r="1.18"/><circle cx="295.6" cy="394.9" r="1.18"/><circle cx="259.8" cy="413.8" r="1.18"/><circle cx="171.7" cy="421.0" r="1.18"/><circle cx="157.5" cy="423.8" r="1.18"/><circle cx="239.6" cy="430.7" r="1.18"/><circle cx="284.4" cy="363.8" r="1.18"/><circle cx="196.6" cy="416.7" r="1.18"/><circle cx="300.5" cy="391.1" r="1.18"/><circle cx="65.5" cy="428.2" r="1.18"/><circle cx="239.4" cy="417.1" r="1.18"/><circle cx="132.7" cy="431.1" r="1.18"/><circle cx="287.8" cy="426.6" r="1.18"/><circle cx="165.0" cy="429.1" r="1.18"/><circle cx="325.9" cy="425.5" r="1.18"/><circle cx="320.3" cy="404.0" r="1.18"/><circle cx="306.4" cy="418.3" r="1.18"/><circle cx="307.5" cy="407.9" r="1.18"/><circle cx="301.7" cy="420.0" r="1.18"/><circle cx="275.9" cy="413.3" r="1.18"/><circle cx="291.7" cy="374.5" r="1.18"/><circle cx="220.0" cy="424.7" r="1.18"/><circle cx="80.5" cy="429.0" r="1.18"/><circle cx="319.8" cy="407.2" r="1.18"/><circle cx="226.5" cy="420.4" r="1.18"/><circle cx="369.5" cy="429.3" r="1.18"/><circle cx="193.7" cy="427.5" r="1.18"/><circle cx="282.4" cy="389.2" r="1.18"/><circle cx="267.8" cy="409.1" r="1.18"/><circle cx="222.6" cy="429.3" r="1.18"/><circle cx="239.7" cy="402.8" r="1.18"/><circle cx="231.2" cy="415.8" r="1.18"/><circle cx="294.3" cy="388.0" r="1.18"/><circle cx="288.8" cy="405.4" r="1.18"/><circle cx="299.5" cy="421.7" r="1.18"/><circle cx="298.9" cy="372.9" r="1.18"/><circle cx="269.8" cy="411.2" r="1.18"/><circle cx="299.4" cy="424.9" r="1.18"/><circle cx="287.6" cy="430.9" r="1.18"/><circle cx="185.6" cy="427.9" r="1.18"/><circle cx="116.7" cy="427.5" r="1.18"/><circle cx="128.1" cy="413.1" r="1.18"/><circle cx="309.2" cy="377.9" r="1.18"/><circle cx="234.0" cy="418.1" r="1.18"/><circle cx="319.1" cy="422.1" r="1.18"/><circle cx="336.9" cy="431.0" r="1.18"/><circle cx="240.7" cy="430.1" r="1.18"/><circle cx="75.2" cy="431.0" r="1.18"/><circle cx="317.0" cy="410.6" r="1.18"/><circle cx="92.4" cy="427.8" r="1.18"/><circle cx="64.5" cy="428.7" r="1.18"/><circle cx="206.0" cy="417.2" r="1.18"/><circle cx="299.2" cy="429.9" r="1.18"/><circle cx="300.8" cy="322.7" r="1.18"/><circle cx="276.3" cy="404.2" r="1.18"/><circle cx="312.9" cy="421.8" r="1.18"/><circle cx="308.0" cy="407.6" r="1.18"/><circle cx="216.7" cy="428.7" r="1.18"/><circle cx="280.4" cy="431.1" r="1.18"/><circle cx="341.9" cy="429.1" r="1.18"/><circle cx="300.7" cy="395.5" r="1.18"/><circle cx="299.5" cy="374.1" r="1.18"/><circle cx="258.7" cy="430.4" r="1.18"/><circle cx="310.3" cy="417.6" r="1.18"/><circle cx="352.1" cy="430.3" r="1.18"/><circle cx="232.8" cy="417.2" r="1.18"/><circle cx="285.5" cy="409.0" r="1.18"/><circle cx="149.7" cy="431.1" r="1.18"/><circle cx="300.2" cy="391.0" r="1.18"/><circle cx="322.3" cy="417.5" r="1.18"/><circle cx="280.8" cy="385.3" r="1.18"/><circle cx="257.2" cy="419.9" r="1.18"/><circle cx="115.8" cy="428.3" r="1.18"/><circle cx="114.7" cy="428.5" r="1.18"/><circle cx="133.4" cy="413.4" r="1.18"/><circle cx="317.3" cy="403.7" r="1.18"/><circle cx="293.3" cy="418.8" r="1.18"/><circle cx="275.4" cy="421.7" r="1.18"/><circle cx="243.1" cy="393.8" r="1.18"/><circle cx="312.9" cy="398.7" r="1.18"/><circle cx="119.5" cy="430.7" r="1.18"/><circle cx="289.9" cy="419.4" r="1.18"/><circle cx="301.0" cy="392.4" r="1.18"/><circle cx="299.9" cy="421.1" r="1.18"/><circle cx="295.0" cy="376.3" r="1.18"/><circle cx="238.9" cy="410.1" r="1.18"/><circle cx="221.3" cy="423.8" r="1.18"/><circle cx="325.6" cy="430.6" r="1.18"/><circle cx="157.1" cy="418.0" r="1.18"/><circle cx="141.9" cy="427.6" r="1.18"/><circle cx="306.6" cy="414.8" r="1.18"/><circle cx="187.0" cy="422.8" r="1.18"/><circle cx="295.4" cy="400.0" r="1.18"/><circle cx="199.7" cy="428.6" r="1.18"/><circle cx="174.1" cy="427.0" r="1.18"/><circle cx="236.2" cy="430.9" r="1.18"/><circle cx="275.5" cy="414.6" r="1.18"/><circle cx="195.3" cy="427.2" r="1.18"/><circle cx="257.4" cy="417.2" r="1.18"/><circle cx="201.4" cy="430.6" r="1.18"/><circle cx="294.6" cy="425.8" r="1.18"/><circle cx="190.8" cy="420.9" r="1.18"/><circle cx="284.0" cy="431.0" r="1.18"/><circle cx="312.4" cy="399.5" r="1.18"/><circle cx="332.6" cy="397.8" r="1.18"/><circle cx="275.1" cy="373.7" r="1.18"/><circle cx="280.6" cy="414.1" r="1.18"/><circle cx="337.4" cy="424.6" r="1.18"/><circle cx="159.5" cy="426.8" r="1.18"/><circle cx="234.3" cy="415.5" r="1.18"/><circle cx="302.2" cy="352.0" r="1.18"/><circle cx="297.8" cy="395.1" r="1.18"/><circle cx="266.7" cy="406.5" r="1.18"/><circle cx="294.5" cy="426.4" r="1.18"/><circle cx="314.4" cy="414.0" r="1.18"/><circle cx="204.2" cy="420.9" r="1.18"/><circle cx="303.6" cy="397.1" r="1.18"/><circle cx="288.7" cy="404.5" r="1.18"/><circle cx="314.0" cy="412.5" r="1.18"/><circle cx="299.6" cy="399.4" r="1.18"/><circle cx="73.4" cy="421.7" r="1.18"/><circle cx="245.0" cy="431.3" r="1.18"/><circle cx="213.2" cy="421.3" r="1.18"/><circle cx="304.7" cy="423.6" r="1.18"/><circle cx="323.6" cy="421.6" r="1.18"/><circle cx="336.6" cy="431.0" r="1.18"/><circle cx="232.5" cy="409.8" r="1.18"/><circle cx="169.2" cy="421.4" r="1.18"/><circle cx="71.7" cy="427.9" r="1.18"/><circle cx="277.1" cy="410.9" r="1.18"/><circle cx="264.1" cy="413.1" r="1.18"/><circle cx="304.3" cy="394.6" r="1.18"/><circle cx="312.9" cy="417.5" r="1.18"/><circle cx="313.0" cy="424.0" r="1.18"/><circle cx="277.5" cy="397.4" r="1.18"/><circle cx="300.3" cy="355.7" r="1.18"/><circle cx="241.1" cy="415.3" r="1.18"/><circle cx="264.2" cy="400.4" r="1.18"/><circle cx="135.3" cy="426.7" r="1.18"/><circle cx="335.8" cy="429.1" r="1.18"/><circle cx="374.4" cy="430.3" r="1.18"/><circle cx="169.9" cy="424.0" r="1.18"/><circle cx="187.4" cy="423.6" r="1.18"/><circle cx="63.9" cy="431.3" r="1.18"/><circle cx="272.0" cy="411.5" r="1.18"/><circle cx="277.1" cy="427.1" r="1.18"/><circle cx="351.7" cy="430.9" r="1.18"/><circle cx="73.6" cy="431.3" r="1.18"/><circle cx="99.4" cy="427.9" r="1.18"/><circle cx="318.8" cy="413.0" r="1.18"/><circle cx="271.6" cy="430.5" r="1.18"/><circle cx="307.3" cy="419.6" r="1.18"/><circle cx="247.9" cy="412.2" r="1.18"/><circle cx="68.7" cy="431.3" r="1.18"/><circle cx="333.4" cy="425.3" r="1.18"/><circle cx="269.3" cy="428.9" r="1.18"/><circle cx="315.2" cy="409.6" r="1.18"/><circle cx="234.0" cy="416.9" r="1.18"/><circle cx="256.0" cy="413.5" r="1.18"/><circle cx="152.6" cy="424.4" r="1.18"/><circle cx="252.3" cy="408.3" r="1.18"/><circle cx="160.0" cy="425.7" r="1.18"/><circle cx="265.0" cy="381.7" r="1.18"/><circle cx="167.1" cy="430.3" r="1.18"/><circle cx="163.9" cy="406.3" r="1.18"/><circle cx="189.7" cy="430.2" r="1.18"/><circle cx="152.8" cy="418.2" r="1.18"/><circle cx="253.1" cy="415.4" r="1.18"/><circle cx="200.1" cy="419.7" r="1.18"/><circle cx="327.0" cy="419.9" r="1.18"/><circle cx="283.0" cy="409.8" r="1.18"/><circle cx="260.3" cy="411.7" r="1.18"/><circle cx="245.1" cy="426.4" r="1.18"/><circle cx="264.7" cy="415.6" r="1.18"/><circle cx="172.2" cy="419.2" r="1.18"/><circle cx="351.5" cy="431.1" r="1.18"/><circle cx="148.6" cy="424.1" r="1.18"/><circle cx="217.0" cy="419.7" r="1.18"/><circle cx="246.7" cy="428.4" r="1.18"/><circle cx="295.7" cy="431.1" r="1.18"/><circle cx="279.8" cy="407.4" r="1.18"/><circle cx="260.9" cy="413.5" r="1.18"/><circle cx="301.3" cy="344.4" r="1.18"/><circle cx="263.7" cy="427.0" r="1.18"/><circle cx="83.5" cy="431.3" r="1.18"/><circle cx="301.7" cy="367.7" r="1.18"/><circle cx="203.5" cy="423.4" r="1.18"/><circle cx="193.9" cy="426.6" r="1.18"/><circle cx="305.4" cy="405.9" r="1.18"/><circle cx="102.0" cy="428.6" r="1.18"/><circle cx="303.2" cy="390.2" r="1.18"/><circle cx="150.8" cy="426.0" r="1.18"/><circle cx="246.9" cy="424.7" r="1.18"/><circle cx="309.0" cy="417.4" r="1.18"/><circle cx="300.5" cy="398.3" r="1.18"/><circle cx="219.4" cy="419.0" r="1.18"/><circle cx="289.6" cy="413.6" r="1.18"/><circle cx="174.8" cy="425.0" r="1.18"/><circle cx="264.2" cy="424.2" r="1.18"/><circle cx="317.2" cy="431.0" r="1.18"/><circle cx="277.1" cy="421.0" r="1.18"/><circle cx="76.6" cy="421.6" r="1.18"/><circle cx="284.8" cy="399.0" r="1.18"/><circle cx="176.2" cy="422.6" r="1.18"/><circle cx="316.1" cy="418.8" r="1.18"/><circle cx="314.9" cy="402.4" r="1.18"/><circle cx="234.8" cy="416.6" r="1.18"/><circle cx="157.9" cy="430.9" r="1.18"/><circle cx="189.4" cy="423.8" r="1.18"/><circle cx="355.2" cy="430.3" r="1.18"/><circle cx="315.6" cy="409.5" r="1.18"/><circle cx="261.1" cy="407.3" r="1.18"/><circle cx="238.2" cy="416.9" r="1.18"/><circle cx="289.1" cy="383.3" r="1.18"/><circle cx="286.0" cy="429.7" r="1.18"/><circle cx="168.2" cy="428.3" r="1.18"/><circle cx="301.2" cy="348.1" r="1.18"/><circle cx="195.6" cy="423.1" r="1.18"/><circle cx="327.6" cy="429.2" r="1.18"/><circle cx="260.8" cy="416.9" r="1.18"/><circle cx="301.6" cy="339.9" r="1.18"/><circle cx="299.1" cy="396.7" r="1.18"/><circle cx="228.2" cy="423.8" r="1.18"/><circle cx="284.6" cy="409.2" r="1.18"/><circle cx="200.8" cy="421.0" r="1.18"/><circle cx="282.1" cy="413.6" r="1.18"/><circle cx="116.9" cy="428.1" r="1.18"/><circle cx="292.1" cy="399.2" r="1.18"/><circle cx="275.3" cy="427.0" r="1.18"/><circle cx="249.5" cy="426.8" r="1.18"/><circle cx="159.1" cy="422.7" r="1.18"/><circle cx="280.1" cy="418.3" r="1.18"/><circle cx="259.2" cy="411.3" r="1.18"/><circle cx="232.2" cy="419.8" r="1.18"/><circle cx="215.9" cy="421.3" r="1.18"/><circle cx="309.1" cy="417.4" r="1.18"/><circle cx="75.3" cy="421.6" r="1.18"/><circle cx="156.1" cy="425.9" r="1.18"/><circle cx="204.2" cy="418.8" r="1.18"/><circle cx="301.9" cy="414.7" r="1.18"/><circle cx="101.5" cy="430.9" r="1.18"/><circle cx="251.7" cy="423.2" r="1.18"/><circle cx="309.2" cy="426.5" r="1.18"/><circle cx="259.9" cy="397.1" r="1.18"/><circle cx="232.9" cy="425.1" r="1.18"/><circle cx="138.8" cy="431.2" r="1.18"/><circle cx="181.0" cy="429.6" r="1.18"/><circle cx="247.3" cy="419.1" r="1.18"/><circle cx="257.0" cy="430.2" r="1.18"/><circle cx="214.3" cy="422.1" r="1.18"/><circle cx="303.9" cy="365.5" r="1.18"/><circle cx="290.4" cy="407.1" r="1.18"/><circle cx="144.0" cy="424.0" r="1.18"/><circle cx="301.4" cy="318.6" r="1.18"/><circle cx="227.5" cy="419.4" r="1.18"/><circle cx="185.3" cy="426.8" r="1.18"/><circle cx="282.4" cy="412.3" r="1.18"/><circle cx="266.0" cy="420.5" r="1.18"/><circle cx="268.5" cy="424.4" r="1.18"/><circle cx="329.4" cy="421.4" r="1.18"/><circle cx="312.2" cy="431.0" r="1.18"/><circle cx="167.1" cy="420.7" r="1.18"/><circle cx="292.1" cy="419.5" r="1.18"/><circle cx="320.8" cy="417.5" r="1.18"/><circle cx="298.0" cy="380.9" r="1.18"/><circle cx="304.6" cy="364.1" r="1.18"/><circle cx="250.7" cy="422.0" r="1.18"/><circle cx="284.1" cy="421.1" r="1.18"/><circle cx="139.1" cy="427.9" r="1.18"/><circle cx="275.8" cy="406.5" r="1.18"/><circle cx="299.8" cy="373.9" r="1.18"/><circle cx="259.3" cy="411.4" r="1.18"/><circle cx="134.7" cy="428.2" r="1.18"/><circle cx="294.0" cy="368.6" r="1.18"/><circle cx="212.0" cy="418.7" r="1.18"/><circle cx="367.0" cy="429.4" r="1.18"/><circle cx="281.7" cy="398.6" r="1.18"/><circle cx="303.5" cy="392.8" r="1.18"/><circle cx="295.3" cy="418.2" r="1.18"/><circle cx="186.0" cy="429.9" r="1.18"/><circle cx="287.8" cy="412.1" r="1.18"/><circle cx="272.5" cy="413.5" r="1.18"/><circle cx="295.4" cy="396.3" r="1.18"/><circle cx="374.7" cy="429.8" r="1.18"/><circle cx="162.1" cy="427.8" r="1.18"/><circle cx="305.7" cy="416.0" r="1.18"/><circle cx="225.5" cy="420.5" r="1.18"/><circle cx="333.1" cy="422.2" r="1.18"/><circle cx="210.2" cy="430.2" r="1.18"/><circle cx="263.7" cy="412.9" r="1.18"/><circle cx="162.5" cy="422.2" r="1.18"/><circle cx="271.8" cy="408.7" r="1.18"/><circle cx="287.7" cy="421.3" r="1.18"/><circle cx="163.6" cy="428.2" r="1.18"/><circle cx="214.6" cy="424.8" r="1.18"/><circle cx="321.3" cy="418.4" r="1.18"/><circle cx="242.5" cy="431.1" r="1.18"/><circle cx="304.2" cy="400.0" r="1.18"/><circle cx="93.8" cy="428.2" r="1.18"/><circle cx="274.3" cy="413.8" r="1.18"/><circle cx="291.5" cy="431.1" r="1.18"/><circle cx="291.4" cy="412.9" r="1.18"/><circle cx="192.2" cy="428.3" r="1.18"/><circle cx="170.2" cy="427.4" r="1.18"/><circle cx="67.7" cy="429.7" r="1.18"/><circle cx="303.0" cy="362.1" r="1.18"/><circle cx="168.8" cy="429.1" r="1.18"/><circle cx="294.1" cy="422.5" r="1.18"/><circle cx="302.5" cy="335.1" r="1.18"/><circle cx="77.6" cy="429.1" r="1.18"/><circle cx="321.7" cy="416.6" r="1.18"/><circle cx="252.1" cy="425.0" r="1.18"/><circle cx="303.9" cy="397.5" r="1.18"/><circle cx="316.9" cy="415.9" r="1.18"/><circle cx="248.0" cy="412.6" r="1.18"/><circle cx="84.6" cy="422.0" r="1.18"/><circle cx="301.3" cy="317.9" r="1.18"/><circle cx="309.3" cy="397.4" r="1.18"/><circle cx="297.8" cy="412.9" r="1.18"/><circle cx="254.9" cy="412.1" r="1.18"/><circle cx="265.0" cy="431.1" r="1.18"/><circle cx="298.0" cy="427.0" r="1.18"/><circle cx="233.4" cy="406.1" r="1.18"/><circle cx="138.1" cy="416.4" r="1.18"/><circle cx="81.3" cy="421.7" r="1.18"/><circle cx="353.5" cy="428.5" r="1.18"/><circle cx="308.7" cy="397.5" r="1.18"/><circle cx="318.9" cy="426.6" r="1.18"/><circle cx="300.7" cy="319.9" r="1.18"/><circle cx="295.3" cy="409.6" r="1.18"/><circle cx="298.4" cy="398.8" r="1.18"/><circle cx="360.5" cy="429.2" r="1.18"/><circle cx="302.6" cy="394.5" r="1.18"/><circle cx="239.4" cy="417.0" r="1.18"/><circle cx="258.8" cy="427.3" r="1.18"/><circle cx="234.0" cy="408.8" r="1.18"/><circle cx="268.1" cy="411.5" r="1.18"/><circle cx="231.7" cy="406.3" r="1.18"/><circle cx="321.0" cy="412.3" r="1.18"/><circle cx="225.0" cy="420.1" r="1.18"/><circle cx="324.8" cy="421.0" r="1.18"/><circle cx="253.3" cy="407.5" r="1.18"/><circle cx="83.9" cy="431.0" r="1.18"/><circle cx="219.3" cy="418.7" r="1.18"/><circle cx="285.0" cy="415.3" r="1.18"/><circle cx="297.2" cy="380.8" r="1.18"/><circle cx="89.4" cy="431.1" r="1.18"/><circle cx="216.0" cy="428.0" r="1.18"/><circle cx="129.4" cy="415.4" r="1.18"/><circle cx="100.1" cy="430.2" r="1.18"/><circle cx="64.5" cy="429.5" r="1.18"/><circle cx="287.8" cy="401.1" r="1.18"/><circle cx="279.2" cy="419.8" r="1.18"/><circle cx="348.9" cy="427.4" r="1.18"/><circle cx="123.6" cy="428.3" r="1.18"/><circle cx="111.9" cy="431.2" r="1.18"/><circle cx="308.1" cy="384.0" r="1.18"/><circle cx="302.7" cy="413.2" r="1.18"/><circle cx="363.1" cy="429.2" r="1.18"/><circle cx="299.5" cy="371.4" r="1.18"/><circle cx="354.8" cy="430.9" r="1.18"/><circle cx="278.7" cy="393.2" r="1.18"/><circle cx="281.7" cy="403.4" r="1.18"/><circle cx="279.8" cy="375.9" r="1.18"/><circle cx="300.0" cy="348.3" r="1.18"/><circle cx="254.3" cy="424.6" r="1.18"/><circle cx="87.4" cy="429.7" r="1.18"/><circle cx="282.5" cy="425.4" r="1.18"/><circle cx="163.6" cy="421.0" r="1.18"/><circle cx="316.0" cy="418.3" r="1.18"/><circle cx="256.7" cy="388.2" r="1.18"/><circle cx="209.5" cy="431.3" r="1.18"/><circle cx="189.9" cy="418.9" r="1.18"/><circle cx="180.3" cy="420.4" r="1.18"/><circle cx="269.0" cy="427.5" r="1.18"/><circle cx="146.2" cy="428.9" r="1.18"/><circle cx="109.1" cy="429.0" r="1.18"/><circle cx="303.7" cy="430.9" r="1.18"/><circle cx="264.4" cy="411.2" r="1.18"/><circle cx="322.2" cy="427.3" r="1.18"/><circle cx="246.9" cy="413.3" r="1.18"/><circle cx="313.6" cy="415.2" r="1.18"/><circle cx="236.7" cy="415.3" r="1.18"/><circle cx="347.4" cy="430.4" r="1.18"/><circle cx="358.6" cy="429.1" r="1.18"/><circle cx="300.5" cy="392.5" r="1.18"/><circle cx="268.8" cy="417.5" r="1.18"/><circle cx="247.3" cy="399.4" r="1.18"/><circle cx="298.5" cy="428.6" r="1.18"/><circle cx="161.0" cy="424.5" r="1.18"/><circle cx="126.8" cy="413.8" r="1.18"/><circle cx="165.5" cy="425.1" r="1.18"/><circle cx="224.9" cy="419.4" r="1.18"/><circle cx="88.4" cy="427.7" r="1.18"/><circle cx="230.6" cy="427.5" r="1.18"/><circle cx="285.8" cy="398.0" r="1.18"/><circle cx="300.6" cy="429.3" r="1.18"/><circle cx="154.0" cy="424.0" r="1.18"/><circle cx="245.1" cy="413.5" r="1.18"/><circle cx="304.9" cy="425.4" r="1.18"/><circle cx="164.8" cy="427.5" r="1.18"/><circle cx="266.7" cy="427.2" r="1.18"/><circle cx="274.8" cy="431.1" r="1.18"/><circle cx="265.8" cy="429.4" r="1.18"/><circle cx="243.4" cy="412.7" r="1.18"/><circle cx="255.9" cy="414.1" r="1.18"/><circle cx="213.8" cy="419.7" r="1.18"/><circle cx="301.9" cy="331.4" r="1.18"/><circle cx="276.0" cy="414.4" r="1.18"/><circle cx="215.1" cy="425.7" r="1.18"/><circle cx="206.8" cy="421.0" r="1.18"/><circle cx="254.7" cy="426.8" r="1.18"/><circle cx="240.7" cy="408.8" r="1.18"/><circle cx="333.8" cy="425.1" r="1.18"/><circle cx="79.4" cy="421.9" r="1.18"/><circle cx="332.7" cy="431.3" r="1.18"/><circle cx="159.7" cy="417.3" r="1.18"/><circle cx="120.4" cy="429.2" r="1.18"/><circle cx="322.2" cy="427.6" r="1.18"/><circle cx="301.8" cy="397.7" r="1.18"/><circle cx="284.7" cy="430.2" r="1.18"/><circle cx="156.9" cy="419.3" r="1.18"/><circle cx="287.3" cy="418.1" r="1.18"/><circle cx="145.4" cy="426.1" r="1.18"/><circle cx="219.2" cy="422.2" r="1.18"/><circle cx="213.9" cy="419.3" r="1.18"/><circle cx="300.2" cy="325.6" r="1.18"/><circle cx="307.1" cy="397.3" r="1.18"/><circle cx="169.7" cy="410.1" r="1.18"/><circle cx="287.2" cy="406.1" r="1.18"/><circle cx="295.8" cy="362.2" r="1.18"/><circle cx="148.4" cy="427.4" r="1.18"/><circle cx="287.3" cy="400.1" r="1.18"/><circle cx="163.9" cy="414.3" r="1.18"/><circle cx="307.0" cy="400.7" r="1.18"/><circle cx="307.8" cy="412.9" r="1.18"/><circle cx="258.5" cy="417.3" r="1.18"/><circle cx="286.2" cy="420.1" r="1.18"/><circle cx="267.4" cy="431.3" r="1.18"/><circle cx="224.6" cy="420.5" r="1.18"/><circle cx="297.7" cy="407.9" r="1.18"/><circle cx="257.6" cy="420.1" r="1.18"/><circle cx="291.2" cy="397.0" r="1.18"/><circle cx="169.2" cy="431.0" r="1.18"/><circle cx="135.6" cy="410.8" r="1.18"/><circle cx="161.9" cy="423.3" r="1.18"/><circle cx="290.9" cy="406.2" r="1.18"/><circle cx="303.4" cy="415.0" r="1.18"/><circle cx="304.2" cy="402.1" r="1.18"/><circle cx="267.9" cy="430.2" r="1.18"/><circle cx="227.5" cy="419.3" r="1.18"/><circle cx="217.7" cy="425.1" r="1.18"/><circle cx="143.8" cy="428.8" r="1.18"/><circle cx="305.7" cy="369.9" r="1.18"/><circle cx="74.0" cy="421.7" r="1.18"/><circle cx="190.5" cy="425.7" r="1.18"/><circle cx="209.4" cy="420.7" r="1.18"/><circle cx="196.5" cy="423.7" r="1.18"/><circle cx="266.0" cy="424.9" r="1.18"/><circle cx="149.3" cy="430.3" r="1.18"/><circle cx="154.4" cy="431.1" r="1.18"/><circle cx="265.8" cy="416.0" r="1.18"/><circle cx="289.3" cy="398.9" r="1.18"/><circle cx="302.5" cy="331.4" r="1.18"/><circle cx="283.0" cy="428.3" r="1.18"/><circle cx="102.9" cy="428.1" r="1.18"/><circle cx="301.3" cy="388.6" r="1.18"/><circle cx="71.7" cy="429.2" r="1.18"/><circle cx="212.1" cy="425.7" r="1.18"/><circle cx="144.5" cy="429.8" r="1.18"/><circle cx="319.0" cy="411.2" r="1.18"/><circle cx="280.9" cy="394.0" r="1.18"/><circle cx="309.8" cy="426.5" r="1.18"/><circle cx="231.7" cy="423.1" r="1.18"/><circle cx="300.5" cy="357.1" r="1.18"/><circle cx="308.8" cy="381.3" r="1.18"/><circle cx="288.7" cy="411.6" r="1.18"/><circle cx="303.2" cy="419.5" r="1.18"/><circle cx="186.8" cy="422.5" r="1.18"/><circle cx="305.6" cy="398.2" r="1.18"/><circle cx="346.0" cy="428.3" r="1.18"/><circle cx="166.5" cy="422.2" r="1.18"/><circle cx="303.8" cy="420.3" r="1.18"/><circle cx="246.9" cy="414.6" r="1.18"/><circle cx="288.6" cy="420.1" r="1.18"/><circle cx="239.2" cy="420.5" r="1.18"/><circle cx="145.1" cy="425.9" r="1.18"/><circle cx="148.3" cy="424.2" r="1.18"/><circle cx="291.4" cy="426.7" r="1.18"/><circle cx="116.3" cy="428.0" r="1.18"/><circle cx="301.7" cy="378.3" r="1.18"/><circle cx="226.5" cy="417.6" r="1.18"/><circle cx="160.0" cy="423.3" r="1.18"/><circle cx="302.9" cy="392.8" r="1.18"/><circle cx="266.2" cy="412.0" r="1.18"/><circle cx="196.0" cy="422.0" r="1.18"/><circle cx="340.7" cy="425.9" r="1.18"/><circle cx="336.4" cy="426.2" r="1.18"/><circle cx="292.1" cy="417.6" r="1.18"/><circle cx="128.5" cy="412.7" r="1.18"/><circle cx="176.8" cy="423.1" r="1.18"/><circle cx="307.1" cy="380.2" r="1.18"/><circle cx="287.3" cy="390.9" r="1.18"/><circle cx="297.5" cy="416.9" r="1.18"/><circle cx="254.3" cy="423.4" r="1.18"/><circle cx="293.6" cy="388.8" r="1.18"/><circle cx="288.3" cy="405.3" r="1.18"/><circle cx="68.8" cy="428.0" r="1.18"/><circle cx="324.3" cy="419.8" r="1.18"/><circle cx="289.6" cy="399.0" r="1.18"/><circle cx="283.6" cy="418.8" r="1.18"/><circle cx="178.3" cy="423.5" r="1.18"/><circle cx="233.0" cy="421.1" r="1.18"/><circle cx="239.2" cy="431.0" r="1.18"/><circle cx="232.9" cy="415.6" r="1.18"/><circle cx="314.3" cy="419.2" r="1.18"/><circle cx="169.4" cy="427.1" r="1.18"/><circle cx="294.6" cy="415.8" r="1.18"/><circle cx="85.6" cy="429.9" r="1.18"/><circle cx="153.1" cy="424.2" r="1.18"/><circle cx="298.2" cy="424.3" r="1.18"/><circle cx="242.4" cy="417.1" r="1.18"/><circle cx="144.7" cy="431.3" r="1.18"/><circle cx="307.7" cy="408.4" r="1.18"/><circle cx="161.5" cy="414.8" r="1.18"/><circle cx="353.7" cy="427.8" r="1.18"/><circle cx="311.1" cy="408.5" r="1.18"/><circle cx="69.5" cy="431.3" r="1.18"/><circle cx="302.2" cy="429.6" r="1.18"/><circle cx="328.4" cy="431.3" r="1.18"/><circle cx="348.2" cy="429.2" r="1.18"/><circle cx="278.8" cy="409.0" r="1.18"/><circle cx="238.4" cy="423.1" r="1.18"/><circle cx="112.9" cy="427.8" r="1.18"/><circle cx="298.8" cy="392.3" r="1.18"/><circle cx="301.1" cy="350.5" r="1.18"/><circle cx="309.6" cy="409.1" r="1.18"/><circle cx="289.7" cy="381.3" r="1.18"/><circle cx="296.8" cy="412.5" r="1.18"/><circle cx="267.0" cy="413.2" r="1.18"/><circle cx="266.1" cy="411.0" r="1.18"/><circle cx="174.7" cy="426.9" r="1.18"/><circle cx="252.4" cy="415.3" r="1.18"/><circle cx="94.3" cy="421.4" r="1.18"/><circle cx="245.3" cy="420.2" r="1.18"/><circle cx="181.9" cy="421.0" r="1.18"/><circle cx="316.8" cy="431.3" r="1.18"/><circle cx="309.7" cy="399.4" r="1.18"/><circle cx="308.3" cy="416.9" r="1.18"/><circle cx="69.1" cy="429.7" r="1.18"/><circle cx="229.8" cy="427.5" r="1.18"/><circle cx="192.3" cy="423.0" r="1.18"/><circle cx="285.2" cy="412.4" r="1.18"/><circle cx="276.5" cy="406.4" r="1.18"/><circle cx="224.5" cy="424.0" r="1.18"/><circle cx="300.3" cy="329.5" r="1.18"/><circle cx="302.4" cy="321.7" r="1.18"/><circle cx="257.2" cy="427.7" r="1.18"/><circle cx="300.5" cy="413.3" r="1.18"/><circle cx="126.4" cy="428.2" r="1.18"/><circle cx="89.6" cy="429.9" r="1.18"/><circle cx="81.5" cy="429.5" r="1.18"/><circle cx="274.1" cy="409.9" r="1.18"/><circle cx="194.3" cy="428.0" r="1.18"/><circle cx="279.5" cy="405.3" r="1.18"/><circle cx="278.6" cy="415.3" r="1.18"/><circle cx="266.4" cy="420.0" r="1.18"/><circle cx="191.1" cy="425.7" r="1.18"/><circle cx="280.5" cy="393.8" r="1.18"/><circle cx="77.7" cy="427.3" r="1.18"/><circle cx="328.0" cy="422.3" r="1.18"/><circle cx="308.3" cy="422.6" r="1.18"/><circle cx="304.4" cy="431.0" r="1.18"/><circle cx="123.0" cy="431.0" r="1.18"/><circle cx="311.7" cy="430.2" r="1.18"/><circle cx="294.9" cy="398.7" r="1.18"/><circle cx="223.9" cy="426.1" r="1.18"/><circle cx="301.9" cy="364.9" r="1.18"/><circle cx="133.7" cy="410.6" r="1.18"/><circle cx="291.8" cy="400.4" r="1.18"/><circle cx="177.8" cy="420.3" r="1.18"/><circle cx="310.5" cy="402.2" r="1.18"/><circle cx="237.1" cy="422.0" r="1.18"/><circle cx="304.2" cy="402.6" r="1.18"/><circle cx="292.9" cy="404.4" r="1.18"/><circle cx="239.1" cy="417.8" r="1.18"/><circle cx="103.0" cy="431.0" r="1.18"/><circle cx="157.0" cy="422.7" r="1.18"/><circle cx="260.8" cy="385.4" r="1.18"/><circle cx="238.3" cy="429.8" r="1.18"/><circle cx="245.1" cy="422.7" r="1.18"/><circle cx="343.7" cy="421.1" r="1.18"/><circle cx="171.2" cy="430.1" r="1.18"/><circle cx="342.9" cy="429.1" r="1.18"/><circle cx="284.1" cy="408.9" r="1.18"/><circle cx="303.2" cy="415.3" r="1.18"/><circle cx="248.5" cy="394.1" r="1.18"/><circle cx="140.6" cy="428.7" r="1.18"/><circle cx="309.2" cy="426.9" r="1.18"/><circle cx="260.0" cy="417.0" r="1.18"/><circle cx="232.5" cy="409.4" r="1.18"/><circle cx="246.4" cy="429.1" r="1.18"/><circle cx="300.4" cy="334.7" r="1.18"/><circle cx="154.6" cy="423.9" r="1.18"/><circle cx="254.3" cy="420.3" r="1.18"/><circle cx="298.7" cy="401.8" r="1.18"/><circle cx="217.9" cy="420.6" r="1.18"/><circle cx="280.2" cy="428.3" r="1.18"/><circle cx="313.6" cy="420.3" r="1.18"/><circle cx="279.7" cy="401.5" r="1.18"/><circle cx="254.2" cy="413.1" r="1.18"/><circle cx="155.9" cy="430.3" r="1.18"/><circle cx="334.9" cy="425.5" r="1.18"/><circle cx="219.3" cy="420.1" r="1.18"/><circle cx="233.7" cy="409.9" r="1.18"/><circle cx="237.7" cy="423.0" r="1.18"/><circle cx="274.7" cy="375.4" r="1.18"/><circle cx="320.6" cy="419.6" r="1.18"/><circle cx="323.9" cy="429.3" r="1.18"/><circle cx="232.9" cy="408.9" r="1.18"/><circle cx="269.2" cy="425.1" r="1.18"/><circle cx="280.1" cy="428.2" r="1.18"/><circle cx="150.5" cy="426.4" r="1.18"/><circle cx="359.6" cy="431.3" r="1.18"/><circle cx="246.9" cy="429.0" r="1.18"/><circle cx="317.0" cy="405.1" r="1.18"/><circle cx="319.2" cy="404.4" r="1.18"/><circle cx="69.0" cy="429.5" r="1.18"/><circle cx="300.9" cy="399.6" r="1.18"/><circle cx="108.2" cy="428.4" r="1.18"/><circle cx="162.5" cy="421.2" r="1.18"/><circle cx="324.8" cy="424.7" r="1.18"/><circle cx="306.1" cy="404.1" r="1.18"/><circle cx="260.0" cy="424.3" r="1.18"/><circle cx="343.3" cy="431.3" r="1.18"/><circle cx="271.2" cy="413.1" r="1.18"/><circle cx="163.4" cy="406.6" r="1.18"/><circle cx="276.6" cy="415.2" r="1.18"/><circle cx="238.8" cy="429.4" r="1.18"/><circle cx="279.1" cy="416.3" r="1.18"/><circle cx="303.5" cy="406.4" r="1.18"/><circle cx="282.9" cy="409.8" r="1.18"/><circle cx="238.9" cy="414.0" r="1.18"/><circle cx="235.1" cy="428.8" r="1.18"/><circle cx="173.1" cy="412.3" r="1.18"/><circle cx="261.1" cy="410.9" r="1.18"/><circle cx="244.7" cy="416.9" r="1.18"/><circle cx="244.3" cy="430.6" r="1.18"/><circle cx="247.4" cy="428.5" r="1.18"/><circle cx="87.8" cy="428.0" r="1.18"/><circle cx="231.8" cy="421.0" r="1.18"/><circle cx="252.3" cy="412.7" r="1.18"/><circle cx="259.9" cy="420.3" r="1.18"/><circle cx="229.6" cy="431.0" r="1.18"/><circle cx="274.8" cy="408.7" r="1.18"/><circle cx="285.9" cy="415.7" r="1.18"/><circle cx="301.7" cy="354.5" r="1.18"/><circle cx="318.2" cy="407.4" r="1.18"/><circle cx="144.8" cy="428.1" r="1.18"/><circle cx="302.5" cy="366.5" r="1.18"/><circle cx="360.7" cy="430.0" r="1.18"/><circle cx="235.7" cy="424.8" r="1.18"/><circle cx="274.8" cy="411.8" r="1.18"/><circle cx="304.0" cy="406.3" r="1.18"/><circle cx="285.1" cy="417.5" r="1.18"/><circle cx="196.9" cy="420.9" r="1.18"/><circle cx="333.8" cy="425.7" r="1.18"/><circle cx="132.2" cy="428.3" r="1.18"/><circle cx="275.5" cy="414.3" r="1.18"/><circle cx="341.0" cy="412.0" r="1.18"/><circle cx="316.9" cy="429.4" r="1.18"/><circle cx="241.8" cy="409.1" r="1.18"/><circle cx="214.5" cy="431.3" r="1.18"/><circle cx="310.0" cy="411.2" r="1.18"/><circle cx="310.0" cy="413.8" r="1.18"/><circle cx="126.4" cy="427.6" r="1.18"/><circle cx="115.9" cy="429.6" r="1.18"/><circle cx="118.5" cy="427.2" r="1.18"/><circle cx="227.0" cy="416.0" r="1.18"/><circle cx="183.9" cy="425.1" r="1.18"/><circle cx="207.1" cy="420.8" r="1.18"/><circle cx="167.9" cy="428.2" r="1.18"/><circle cx="299.6" cy="391.9" r="1.18"/><circle cx="278.7" cy="415.1" r="1.18"/><circle cx="251.7" cy="428.8" r="1.18"/><circle cx="311.9" cy="391.2" r="1.18"/><circle cx="277.0" cy="408.0" r="1.18"/><circle cx="99.4" cy="430.6" r="1.18"/><circle cx="239.2" cy="427.0" r="1.18"/><circle cx="232.7" cy="417.1" r="1.18"/><circle cx="279.0" cy="419.5" r="1.18"/><circle cx="311.2" cy="427.5" r="1.18"/><circle cx="296.9" cy="413.5" r="1.18"/><circle cx="199.8" cy="425.4" r="1.18"/><circle cx="77.0" cy="430.9" r="1.18"/><circle cx="136.8" cy="428.6" r="1.18"/><circle cx="264.8" cy="411.4" r="1.18"/><circle cx="169.1" cy="421.6" r="1.18"/><circle cx="306.3" cy="353.4" r="1.18"/><circle cx="273.9" cy="413.2" r="1.18"/><circle cx="131.1" cy="410.8" r="1.18"/><circle cx="276.8" cy="420.7" r="1.18"/><circle cx="142.0" cy="431.2" r="1.18"/><circle cx="304.5" cy="386.1" r="1.18"/><circle cx="285.4" cy="424.2" r="1.18"/><circle cx="292.8" cy="421.1" r="1.18"/><circle cx="355.0" cy="427.8" r="1.18"/><circle cx="229.9" cy="417.1" r="1.18"/><circle cx="252.3" cy="411.9" r="1.18"/><circle cx="210.4" cy="423.1" r="1.18"/><circle cx="321.2" cy="416.8" r="1.18"/><circle cx="344.8" cy="428.3" r="1.18"/><circle cx="249.3" cy="426.7" r="1.18"/><circle cx="158.3" cy="427.0" r="1.18"/><circle cx="325.8" cy="428.2" r="1.18"/><circle cx="177.7" cy="422.3" r="1.18"/><circle cx="119.7" cy="427.5" r="1.18"/><circle cx="141.3" cy="429.0" r="1.18"/><circle cx="270.4" cy="389.0" r="1.18"/><circle cx="266.6" cy="410.0" r="1.18"/><circle cx="158.6" cy="416.7" r="1.18"/><circle cx="301.7" cy="364.1" r="1.18"/><circle cx="125.3" cy="429.8" r="1.18"/><circle cx="319.2" cy="408.9" r="1.18"/><circle cx="256.5" cy="414.6" r="1.18"/><circle cx="302.5" cy="356.6" r="1.18"/><circle cx="304.0" cy="365.7" r="1.18"/><circle cx="190.9" cy="431.2" r="1.18"/><circle cx="315.8" cy="402.6" r="1.18"/><circle cx="202.7" cy="423.7" r="1.18"/><circle cx="245.6" cy="431.1" r="1.18"/><circle cx="306.3" cy="348.3" r="1.18"/><circle cx="277.0" cy="414.1" r="1.18"/><circle cx="250.4" cy="418.8" r="1.18"/><circle cx="272.4" cy="409.7" r="1.18"/><circle cx="312.4" cy="425.8" r="1.18"/><circle cx="293.5" cy="377.9" r="1.18"/><circle cx="296.1" cy="430.3" r="1.18"/><circle cx="364.6" cy="431.1" r="1.18"/><circle cx="318.0" cy="423.3" r="1.18"/><circle cx="248.2" cy="422.2" r="1.18"/><circle cx="263.0" cy="418.2" r="1.18"/><circle cx="217.6" cy="421.3" r="1.18"/><circle cx="284.7" cy="411.7" r="1.18"/><circle cx="280.4" cy="376.7" r="1.18"/><circle cx="322.0" cy="420.7" r="1.18"/><circle cx="152.5" cy="424.6" r="1.18"/><circle cx="153.7" cy="429.6" r="1.18"/><circle cx="303.8" cy="387.5" r="1.18"/><circle cx="241.3" cy="404.7" r="1.18"/><circle cx="184.2" cy="420.8" r="1.18"/><circle cx="264.7" cy="420.3" r="1.18"/><circle cx="292.5" cy="386.7" r="1.18"/><circle cx="267.6" cy="424.4" r="1.18"/><circle cx="212.5" cy="424.7" r="1.18"/><circle cx="276.1" cy="414.3" r="1.18"/><circle cx="316.7" cy="424.1" r="1.18"/><circle cx="134.0" cy="416.3" r="1.18"/><circle cx="292.8" cy="425.2" r="1.18"/><circle cx="332.0" cy="425.4" r="1.18"/><circle cx="223.5" cy="416.9" r="1.18"/><circle cx="265.4" cy="417.5" r="1.18"/><circle cx="148.1" cy="428.0" r="1.18"/><circle cx="202.6" cy="419.6" r="1.18"/><circle cx="306.0" cy="390.8" r="1.18"/><circle cx="243.3" cy="422.1" r="1.18"/><circle cx="186.1" cy="421.3" r="1.18"/><circle cx="147.7" cy="424.9" r="1.18"/><circle cx="118.6" cy="430.7" r="1.18"/><circle cx="163.4" cy="403.9" r="1.18"/><circle cx="252.6" cy="420.7" r="1.18"/><circle cx="192.1" cy="429.4" r="1.18"/><circle cx="289.8" cy="352.2" r="1.18"/><circle cx="238.8" cy="408.8" r="1.18"/><circle cx="266.1" cy="430.4" r="1.18"/><circle cx="176.4" cy="418.9" r="1.18"/><circle cx="281.7" cy="368.3" r="1.18"/><circle cx="130.8" cy="428.1" r="1.18"/><circle cx="234.2" cy="421.6" r="1.18"/><circle cx="316.3" cy="411.0" r="1.18"/><circle cx="167.5" cy="425.2" r="1.18"/><circle cx="163.4" cy="418.3" r="1.18"/><circle cx="303.3" cy="348.6" r="1.18"/><circle cx="322.4" cy="422.4" r="1.18"/><circle cx="271.2" cy="399.5" r="1.18"/><circle cx="328.3" cy="413.8" r="1.18"/><circle cx="117.1" cy="427.9" r="1.18"/><circle cx="282.3" cy="403.5" r="1.18"/><circle cx="272.6" cy="424.5" r="1.18"/><circle cx="298.9" cy="424.4" r="1.18"/><circle cx="302.6" cy="342.7" r="1.18"/><circle cx="328.8" cy="428.5" r="1.18"/><circle cx="255.1" cy="423.0" r="1.18"/><circle cx="311.9" cy="405.3" r="1.18"/><circle cx="330.2" cy="421.4" r="1.18"/><circle cx="178.7" cy="422.5" r="1.18"/><circle cx="182.6" cy="427.5" r="1.18"/><circle cx="264.6" cy="427.3" r="1.18"/><circle cx="313.6" cy="396.7" r="1.18"/><circle cx="311.2" cy="412.0" r="1.18"/><circle cx="291.2" cy="411.8" r="1.18"/><circle cx="325.7" cy="423.7" r="1.18"/><circle cx="320.1" cy="411.8" r="1.18"/><circle cx="203.5" cy="424.2" r="1.18"/><circle cx="235.6" cy="422.9" r="1.18"/><circle cx="101.0" cy="428.6" r="1.18"/><circle cx="270.6" cy="409.3" r="1.18"/><circle cx="234.3" cy="423.3" r="1.18"/><circle cx="204.6" cy="420.7" r="1.18"/><circle cx="138.6" cy="425.8" r="1.18"/><circle cx="168.3" cy="422.6" r="1.18"/><circle cx="76.9" cy="428.5" r="1.18"/><circle cx="333.9" cy="425.8" r="1.18"/><circle cx="320.0" cy="429.7" r="1.18"/><circle cx="189.2" cy="430.4" r="1.18"/><circle cx="199.8" cy="421.1" r="1.18"/><circle cx="277.4" cy="419.0" r="1.18"/><circle cx="285.4" cy="416.7" r="1.18"/><circle cx="294.6" cy="386.4" r="1.18"/><circle cx="188.5" cy="419.3" r="1.18"/><circle cx="304.2" cy="395.6" r="1.18"/><circle cx="292.2" cy="399.8" r="1.18"/><circle cx="286.3" cy="402.1" r="1.18"/><circle cx="262.2" cy="425.8" r="1.18"/><circle cx="257.6" cy="418.3" r="1.18"/><circle cx="339.2" cy="422.7" r="1.18"/><circle cx="301.1" cy="417.2" r="1.18"/><circle cx="300.4" cy="316.4" r="1.18"/><circle cx="283.8" cy="403.7" r="1.18"/><circle cx="70.4" cy="427.7" r="1.18"/><circle cx="301.4" cy="316.3" r="1.18"/><circle cx="315.3" cy="430.1" r="1.18"/><circle cx="329.5" cy="426.9" r="1.18"/><circle cx="307.6" cy="402.7" r="1.18"/><circle cx="244.5" cy="424.8" r="1.18"/><circle cx="247.4" cy="418.8" r="1.18"/><circle cx="222.8" cy="425.1" r="1.18"/><circle cx="216.3" cy="419.0" r="1.18"/><circle cx="269.8" cy="430.0" r="1.18"/><circle cx="104.6" cy="430.4" r="1.18"/><circle cx="301.8" cy="324.3" r="1.18"/><circle cx="334.5" cy="423.0" r="1.18"/><circle cx="224.9" cy="425.7" r="1.18"/><circle cx="295.1" cy="411.5" r="1.18"/><circle cx="309.6" cy="407.3" r="1.18"/><circle cx="103.5" cy="428.0" r="1.18"/><circle cx="300.2" cy="331.8" r="1.18"/><circle cx="303.1" cy="427.6" r="1.18"/><circle cx="294.5" cy="391.5" r="1.18"/><circle cx="282.7" cy="368.9" r="1.18"/><circle cx="268.5" cy="414.5" r="1.18"/><circle cx="250.8" cy="412.4" r="1.18"/><circle cx="177.6" cy="420.3" r="1.18"/><circle cx="276.5" cy="430.0" r="1.18"/><circle cx="287.7" cy="409.2" r="1.18"/><circle cx="96.5" cy="430.1" r="1.18"/><circle cx="286.0" cy="411.2" r="1.18"/><circle cx="274.6" cy="421.1" r="1.18"/><circle cx="297.4" cy="409.7" r="1.18"/><circle cx="292.1" cy="411.5" r="1.18"/><circle cx="216.1" cy="420.2" r="1.18"/><circle cx="236.8" cy="425.1" r="1.18"/><circle cx="155.4" cy="425.2" r="1.18"/><circle cx="237.6" cy="431.1" r="1.18"/><circle cx="311.3" cy="397.5" r="1.18"/><circle cx="282.4" cy="397.0" r="1.18"/><circle cx="285.0" cy="415.8" r="1.18"/><circle cx="307.2" cy="400.9" r="1.18"/><circle cx="254.1" cy="429.2" r="1.18"/><circle cx="158.2" cy="420.8" r="1.18"/><circle cx="158.5" cy="422.4" r="1.18"/><circle cx="328.3" cy="426.3" r="1.18"/><circle cx="70.1" cy="431.0" r="1.18"/><circle cx="293.0" cy="381.2" r="1.18"/><circle cx="294.1" cy="426.2" r="1.18"/><circle cx="254.1" cy="425.4" r="1.18"/><circle cx="90.9" cy="422.0" r="1.18"/><circle cx="249.2" cy="401.2" r="1.18"/><circle cx="70.4" cy="430.0" r="1.18"/><circle cx="252.6" cy="423.9" r="1.18"/><circle cx="317.9" cy="404.5" r="1.18"/><circle cx="114.5" cy="430.4" r="1.18"/><circle cx="301.7" cy="325.5" r="1.18"/><circle cx="271.2" cy="417.2" r="1.18"/><circle cx="275.2" cy="414.9" r="1.18"/><circle cx="349.6" cy="428.6" r="1.18"/><circle cx="285.1" cy="410.9" r="1.18"/><circle cx="328.0" cy="416.2" r="1.18"/><circle cx="302.5" cy="361.6" r="1.18"/><circle cx="241.6" cy="420.2" r="1.18"/><circle cx="245.3" cy="395.3" r="1.18"/><circle cx="297.5" cy="371.1" r="1.18"/><circle cx="319.1" cy="418.1" r="1.18"/><circle cx="97.4" cy="431.0" r="1.18"/><circle cx="315.2" cy="418.4" r="1.18"/><circle cx="236.9" cy="403.2" r="1.18"/><circle cx="268.7" cy="408.2" r="1.18"/><circle cx="301.4" cy="350.3" r="1.18"/><circle cx="177.3" cy="417.6" r="1.18"/><circle cx="297.5" cy="427.2" r="1.18"/><circle cx="233.9" cy="418.2" r="1.18"/><circle cx="206.3" cy="425.0" r="1.18"/><circle cx="163.6" cy="425.6" r="1.18"/><circle cx="252.2" cy="413.0" r="1.18"/><circle cx="277.5" cy="420.1" r="1.18"/><circle cx="233.6" cy="408.0" r="1.18"/><circle cx="149.6" cy="424.5" r="1.18"/><circle cx="301.0" cy="350.1" r="1.18"/><circle cx="243.7" cy="392.8" r="1.18"/><circle cx="211.1" cy="420.4" r="1.18"/><circle cx="205.7" cy="421.2" r="1.18"/><circle cx="173.4" cy="421.8" r="1.18"/><circle cx="268.7" cy="424.4" r="1.18"/><circle cx="302.7" cy="326.4" r="1.18"/><circle cx="256.6" cy="419.7" r="1.18"/><circle cx="190.8" cy="419.8" r="1.18"/><circle cx="286.4" cy="399.8" r="1.18"/><circle cx="347.0" cy="430.7" r="1.18"/><circle cx="287.8" cy="402.2" r="1.18"/><circle cx="284.3" cy="422.0" r="1.18"/><circle cx="257.2" cy="398.6" r="1.18"/><circle cx="261.8" cy="417.7" r="1.18"/><circle cx="231.0" cy="431.0" r="1.18"/><circle cx="239.6" cy="396.6" r="1.18"/><circle cx="310.5" cy="415.2" r="1.18"/><circle cx="118.0" cy="412.5" r="1.18"/><circle cx="273.6" cy="406.8" r="1.18"/><circle cx="270.9" cy="410.9" r="1.18"/><circle cx="252.5" cy="416.7" r="1.18"/><circle cx="203.6" cy="429.6" r="1.18"/><circle cx="148.2" cy="421.7" r="1.18"/><circle cx="365.3" cy="429.1" r="1.18"/><circle cx="264.0" cy="419.2" r="1.18"/><circle cx="301.3" cy="406.4" r="1.18"/><circle cx="299.9" cy="399.1" r="1.18"/><circle cx="311.5" cy="410.4" r="1.18"/><circle cx="241.5" cy="417.0" r="1.18"/><circle cx="207.1" cy="420.8" r="1.18"/><circle cx="85.7" cy="428.0" r="1.18"/><circle cx="314.9" cy="397.5" r="1.18"/><circle cx="193.1" cy="424.0" r="1.18"/><circle cx="224.2" cy="423.7" r="1.18"/><circle cx="191.5" cy="424.9" r="1.18"/><circle cx="189.7" cy="422.7" r="1.18"/><circle cx="370.9" cy="430.5" r="1.18"/><circle cx="253.1" cy="412.6" r="1.18"/><circle cx="309.5" cy="392.7" r="1.18"/><circle cx="183.4" cy="431.3" r="1.18"/><circle cx="302.3" cy="328.3" r="1.18"/><circle cx="136.1" cy="431.0" r="1.18"/><circle cx="280.3" cy="406.1" r="1.18"/><circle cx="279.1" cy="396.7" r="1.18"/><circle cx="288.2" cy="399.3" r="1.18"/><circle cx="301.6" cy="422.1" r="1.18"/><circle cx="254.7" cy="428.1" r="1.18"/><circle cx="312.4" cy="406.8" r="1.18"/><circle cx="239.2" cy="394.5" r="1.18"/><circle cx="300.6" cy="415.6" r="1.18"/><circle cx="289.4" cy="407.6" r="1.18"/><circle cx="342.2" cy="431.4" r="1.18"/><circle cx="311.1" cy="411.9" r="1.18"/><circle cx="305.6" cy="350.5" r="1.18"/><circle cx="274.3" cy="368.1" r="1.18"/><circle cx="174.1" cy="421.5" r="1.18"/><circle cx="256.4" cy="425.1" r="1.18"/><circle cx="253.0" cy="413.9" r="1.18"/><circle cx="231.2" cy="416.1" r="1.18"/><circle cx="296.4" cy="362.2" r="1.18"/><circle cx="231.5" cy="417.4" r="1.18"/><circle cx="150.6" cy="427.1" r="1.18"/><circle cx="95.6" cy="428.1" r="1.18"/><circle cx="295.1" cy="429.3" r="1.18"/><circle cx="315.2" cy="412.6" r="1.18"/><circle cx="272.2" cy="428.0" r="1.18"/><circle cx="339.1" cy="428.3" r="1.18"/><circle cx="302.0" cy="333.3" r="1.18"/><circle cx="233.9" cy="411.2" r="1.18"/><circle cx="314.7" cy="428.1" r="1.18"/><circle cx="267.1" cy="420.7" r="1.18"/><circle cx="301.6" cy="349.2" r="1.18"/><circle cx="256.7" cy="384.4" r="1.18"/><circle cx="288.8" cy="431.2" r="1.18"/><circle cx="251.5" cy="424.3" r="1.18"/><circle cx="137.0" cy="431.0" r="1.18"/><circle cx="256.3" cy="418.5" r="1.18"/><circle cx="273.5" cy="430.0" r="1.18"/><circle cx="229.9" cy="421.0" r="1.18"/><circle cx="238.3" cy="423.1" r="1.18"/><circle cx="197.9" cy="431.1" r="1.18"/><circle cx="373.1" cy="430.2" r="1.18"/><circle cx="278.8" cy="389.6" r="1.18"/><circle cx="249.6" cy="422.0" r="1.18"/><circle cx="163.5" cy="422.8" r="1.18"/><circle cx="228.5" cy="426.3" r="1.18"/><circle cx="248.2" cy="424.9" r="1.18"/><circle cx="280.8" cy="417.1" r="1.18"/><circle cx="85.5" cy="421.8" r="1.18"/><circle cx="303.8" cy="371.9" r="1.18"/><circle cx="303.3" cy="419.7" r="1.18"/><circle cx="233.5" cy="404.1" r="1.18"/><circle cx="288.1" cy="352.5" r="1.18"/><circle cx="259.4" cy="422.2" r="1.18"/><circle cx="256.5" cy="414.9" r="1.18"/><circle cx="302.9" cy="392.0" r="1.18"/><circle cx="330.6" cy="424.1" r="1.18"/><circle cx="291.1" cy="400.8" r="1.18"/><circle cx="165.9" cy="427.2" r="1.18"/><circle cx="129.1" cy="419.2" r="1.18"/><circle cx="258.8" cy="418.7" r="1.18"/><circle cx="243.1" cy="426.4" r="1.18"/><circle cx="188.0" cy="420.2" r="1.18"/><circle cx="314.4" cy="398.5" r="1.18"/><circle cx="84.8" cy="421.1" r="1.18"/><circle cx="78.8" cy="422.2" r="1.18"/><circle cx="217.3" cy="418.0" r="1.18"/><circle cx="248.9" cy="428.3" r="1.18"/><circle cx="253.3" cy="431.1" r="1.18"/><circle cx="272.5" cy="423.6" r="1.18"/><circle cx="242.0" cy="413.3" r="1.18"/><circle cx="340.8" cy="426.7" r="1.18"/><circle cx="352.6" cy="431.4" r="1.18"/><circle cx="291.1" cy="402.6" r="1.18"/><circle cx="262.6" cy="410.7" r="1.18"/><circle cx="254.3" cy="431.2" r="1.18"/><circle cx="151.0" cy="430.4" r="1.18"/><circle cx="164.0" cy="429.2" r="1.18"/><circle cx="296.7" cy="417.0" r="1.18"/><circle cx="307.3" cy="427.8" r="1.18"/><circle cx="246.4" cy="412.8" r="1.18"/><circle cx="302.6" cy="411.8" r="1.18"/><circle cx="252.4" cy="420.6" r="1.18"/><circle cx="205.3" cy="430.4" r="1.18"/><circle cx="225.8" cy="416.0" r="1.18"/><circle cx="290.2" cy="404.9" r="1.18"/><circle cx="151.9" cy="425.7" r="1.18"/><circle cx="69.8" cy="428.5" r="1.18"/><circle cx="277.4" cy="417.3" r="1.18"/><circle cx="300.7" cy="354.1" r="1.18"/><circle cx="300.9" cy="407.0" r="1.18"/><circle cx="266.9" cy="412.1" r="1.18"/><circle cx="256.0" cy="387.3" r="1.18"/><circle cx="303.1" cy="413.3" r="1.18"/><circle cx="313.0" cy="420.0" r="1.18"/><circle cx="287.3" cy="400.4" r="1.18"/><circle cx="291.2" cy="406.1" r="1.18"/><circle cx="296.5" cy="368.8" r="1.18"/><circle cx="177.1" cy="427.4" r="1.18"/><circle cx="120.9" cy="428.4" r="1.18"/><circle cx="293.7" cy="420.3" r="1.18"/><circle cx="369.6" cy="431.2" r="1.18"/><circle cx="364.3" cy="429.6" r="1.18"/><circle cx="298.6" cy="426.5" r="1.18"/><circle cx="302.5" cy="388.8" r="1.18"/><circle cx="280.7" cy="403.4" r="1.18"/><circle cx="295.1" cy="366.7" r="1.18"/><circle cx="201.8" cy="424.6" r="1.18"/><circle cx="302.0" cy="424.4" r="1.18"/><circle cx="160.8" cy="416.3" r="1.18"/><circle cx="320.8" cy="414.7" r="1.18"/><circle cx="294.2" cy="398.9" r="1.18"/><circle cx="289.9" cy="367.4" r="1.18"/><circle cx="156.8" cy="421.5" r="1.18"/><circle cx="263.6" cy="413.2" r="1.18"/><circle cx="315.7" cy="412.8" r="1.18"/><circle cx="315.1" cy="399.8" r="1.18"/><circle cx="73.1" cy="422.0" r="1.18"/><circle cx="244.1" cy="425.4" r="1.18"/><circle cx="85.7" cy="421.8" r="1.18"/><circle cx="314.0" cy="397.9" r="1.18"/><circle cx="82.0" cy="421.3" r="1.18"/><circle cx="253.0" cy="414.6" r="1.18"/><circle cx="251.7" cy="406.5" r="1.18"/><circle cx="242.0" cy="419.3" r="1.18"/><circle cx="279.9" cy="425.6" r="1.18"/><circle cx="250.5" cy="426.3" r="1.18"/><circle cx="202.1" cy="422.0" r="1.18"/><circle cx="302.1" cy="363.1" r="1.18"/><circle cx="302.7" cy="363.6" r="1.18"/><circle cx="315.9" cy="409.5" r="1.18"/><circle cx="172.4" cy="424.4" r="1.18"/><circle cx="83.3" cy="428.6" r="1.18"/><circle cx="215.7" cy="421.0" r="1.18"/><circle cx="142.3" cy="423.2" r="1.18"/><circle cx="303.2" cy="414.6" r="1.18"/><circle cx="305.9" cy="421.7" r="1.18"/><circle cx="258.6" cy="411.4" r="1.18"/><circle cx="281.6" cy="391.5" r="1.18"/><circle cx="103.6" cy="431.0" r="1.18"/><circle cx="151.9" cy="424.7" r="1.18"/><circle cx="322.4" cy="429.8" r="1.18"/><circle cx="158.2" cy="427.3" r="1.18"/><circle cx="123.1" cy="413.6" r="1.18"/><circle cx="272.4" cy="408.7" r="1.18"/><circle cx="277.6" cy="366.6" r="1.18"/><circle cx="338.0" cy="425.2" r="1.18"/><circle cx="283.1" cy="404.2" r="1.18"/><circle cx="94.2" cy="428.1" r="1.18"/><circle cx="133.5" cy="430.4" r="1.18"/><circle cx="161.2" cy="419.4" r="1.18"/><circle cx="344.7" cy="400.8" r="1.18"/><circle cx="287.6" cy="354.7" r="1.18"/><circle cx="375.2" cy="430.3" r="1.18"/><circle cx="305.2" cy="389.5" r="1.18"/><circle cx="101.8" cy="428.4" r="1.18"/><circle cx="170.2" cy="429.4" r="1.18"/><circle cx="313.8" cy="410.6" r="1.18"/><circle cx="299.9" cy="414.4" r="1.18"/><circle cx="284.9" cy="414.4" r="1.18"/><circle cx="250.9" cy="425.3" r="1.18"/><circle cx="134.3" cy="423.1" r="1.18"/><circle cx="251.8" cy="430.4" r="1.18"/><circle cx="247.6" cy="420.7" r="1.18"/><circle cx="131.8" cy="430.9" r="1.18"/><circle cx="301.3" cy="320.5" r="1.18"/><circle cx="300.6" cy="339.5" r="1.18"/><circle cx="196.1" cy="424.3" r="1.18"/><circle cx="139.5" cy="425.0" r="1.18"/><circle cx="308.9" cy="408.0" r="1.18"/><circle cx="302.2" cy="373.3" r="1.18"/><circle cx="319.2" cy="407.8" r="1.18"/><circle cx="172.2" cy="428.3" r="1.18"/><circle cx="308.5" cy="431.4" r="1.18"/><circle cx="302.6" cy="325.8" r="1.18"/><circle cx="229.1" cy="431.2" r="1.18"/><circle cx="264.1" cy="414.6" r="1.18"/><circle cx="256.9" cy="412.5" r="1.18"/><circle cx="253.1" cy="422.9" r="1.18"/><circle cx="309.7" cy="409.7" r="1.18"/><circle cx="292.0" cy="409.4" r="1.18"/><circle cx="106.1" cy="429.7" r="1.18"/><circle cx="204.6" cy="425.5" r="1.18"/><circle cx="325.6" cy="416.0" r="1.18"/><circle cx="256.6" cy="413.3" r="1.18"/><circle cx="101.2" cy="430.9" r="1.18"/><circle cx="248.5" cy="429.4" r="1.18"/><circle cx="219.6" cy="426.0" r="1.18"/><circle cx="322.2" cy="411.8" r="1.18"/><circle cx="152.1" cy="415.3" r="1.18"/><circle cx="310.9" cy="410.9" r="1.18"/><circle cx="205.7" cy="430.0" r="1.18"/><circle cx="307.4" cy="390.0" r="1.18"/><circle cx="361.9" cy="428.7" r="1.18"/><circle cx="184.7" cy="421.8" r="1.18"/><circle cx="295.8" cy="392.0" r="1.18"/><circle cx="100.5" cy="428.5" r="1.18"/><circle cx="270.6" cy="430.9" r="1.18"/><circle cx="304.6" cy="426.8" r="1.18"/><circle cx="313.5" cy="423.9" r="1.18"/><circle cx="277.0" cy="373.3" r="1.18"/><circle cx="85.0" cy="427.3" r="1.18"/><circle cx="298.8" cy="389.6" r="1.18"/><circle cx="301.0" cy="380.8" r="1.18"/><circle cx="231.2" cy="425.3" r="1.18"/><circle cx="273.5" cy="430.9" r="1.18"/><circle cx="249.2" cy="424.6" r="1.18"/><circle cx="124.7" cy="428.0" r="1.18"/><circle cx="256.8" cy="421.6" r="1.18"/><circle cx="199.1" cy="426.0" r="1.18"/><circle cx="331.2" cy="422.4" r="1.18"/><circle cx="290.1" cy="405.2" r="1.18"/><circle cx="171.1" cy="421.6" r="1.18"/><circle cx="305.0" cy="383.0" r="1.18"/><circle cx="301.3" cy="355.5" r="1.18"/><circle cx="228.7" cy="416.0" r="1.18"/><circle cx="278.8" cy="431.4" r="1.18"/><circle cx="131.8" cy="427.7" r="1.18"/><circle cx="294.0" cy="411.7" r="1.18"/><circle cx="335.4" cy="424.0" r="1.18"/><circle cx="283.8" cy="420.5" r="1.18"/><circle cx="344.6" cy="427.5" r="1.18"/><circle cx="294.1" cy="367.7" r="1.18"/><circle cx="252.8" cy="426.0" r="1.18"/><circle cx="293.8" cy="404.9" r="1.18"/><circle cx="236.4" cy="422.9" r="1.18"/><circle cx="180.5" cy="426.6" r="1.18"/><circle cx="319.7" cy="423.1" r="1.18"/><circle cx="72.4" cy="431.2" r="1.18"/><circle cx="239.3" cy="413.7" r="1.18"/><circle cx="323.2" cy="416.5" r="1.18"/><circle cx="256.8" cy="415.2" r="1.18"/><circle cx="300.6" cy="347.6" r="1.18"/><circle cx="111.8" cy="427.8" r="1.18"/><circle cx="347.7" cy="428.0" r="1.18"/><circle cx="298.3" cy="408.5" r="1.18"/><circle cx="228.5" cy="411.7" r="1.18"/><circle cx="236.6" cy="424.9" r="1.18"/><circle cx="276.2" cy="428.4" r="1.18"/><circle cx="193.0" cy="420.5" r="1.18"/><circle cx="228.3" cy="417.8" r="1.18"/><circle cx="229.1" cy="428.5" r="1.18"/><circle cx="310.3" cy="420.9" r="1.18"/><circle cx="259.1" cy="384.9" r="1.18"/><circle cx="224.0" cy="426.8" r="1.18"/><circle cx="301.1" cy="339.4" r="1.18"/><circle cx="196.7" cy="422.1" r="1.18"/><circle cx="316.4" cy="413.4" r="1.18"/><circle cx="222.7" cy="430.1" r="1.18"/><circle cx="300.7" cy="351.3" r="1.18"/><circle cx="141.4" cy="425.4" r="1.18"/><circle cx="305.9" cy="416.1" r="1.18"/><circle cx="148.3" cy="423.4" r="1.18"/><circle cx="249.8" cy="414.2" r="1.18"/><circle cx="269.2" cy="431.2" r="1.18"/><circle cx="277.7" cy="429.0" r="1.18"/><circle cx="157.4" cy="428.2" r="1.18"/><circle cx="156.8" cy="424.2" r="1.18"/><circle cx="284.7" cy="388.7" r="1.18"/><circle cx="222.7" cy="417.4" r="1.18"/><circle cx="195.1" cy="430.9" r="1.18"/><circle cx="233.8" cy="421.1" r="1.18"/><circle cx="122.0" cy="430.9" r="1.18"/><circle cx="291.1" cy="431.2" r="1.18"/><circle cx="299.0" cy="370.8" r="1.18"/><circle cx="330.4" cy="425.5" r="1.18"/><circle cx="306.2" cy="362.9" r="1.18"/><circle cx="210.8" cy="418.4" r="1.18"/><circle cx="259.0" cy="431.3" r="1.18"/><circle cx="295.4" cy="400.6" r="1.18"/><circle cx="286.4" cy="427.7" r="1.18"/><circle cx="247.4" cy="424.1" r="1.18"/><circle cx="287.6" cy="431.3" r="1.18"/><circle cx="316.0" cy="400.3" r="1.18"/><circle cx="339.7" cy="426.4" r="1.18"/><circle cx="353.0" cy="428.5" r="1.18"/><circle cx="300.0" cy="342.9" r="1.18"/><circle cx="261.0" cy="422.8" r="1.18"/><circle cx="285.1" cy="412.2" r="1.18"/><circle cx="350.1" cy="430.3" r="1.18"/><circle cx="130.3" cy="431.1" r="1.18"/><circle cx="247.1" cy="431.1" r="1.18"/><circle cx="162.4" cy="430.9" r="1.18"/><circle cx="282.0" cy="398.4" r="1.18"/><circle cx="264.9" cy="421.0" r="1.18"/><circle cx="151.4" cy="422.7" r="1.18"/><circle cx="74.4" cy="431.1" r="1.18"/><circle cx="211.1" cy="428.1" r="1.18"/><circle cx="298.4" cy="375.2" r="1.18"/><circle cx="304.9" cy="414.9" r="1.18"/><circle cx="310.8" cy="415.5" r="1.18"/><circle cx="281.0" cy="401.2" r="1.18"/><circle cx="292.8" cy="366.1" r="1.18"/><circle cx="198.1" cy="429.9" r="1.18"/><circle cx="320.3" cy="406.8" r="1.18"/><circle cx="255.9" cy="424.1" r="1.18"/><circle cx="298.7" cy="363.2" r="1.18"/><circle cx="261.5" cy="421.4" r="1.18"/><circle cx="271.7" cy="423.9" r="1.18"/><circle cx="247.8" cy="428.8" r="1.18"/><circle cx="283.4" cy="414.2" r="1.18"/><circle cx="306.6" cy="431.1" r="1.18"/><circle cx="208.7" cy="428.1" r="1.18"/><circle cx="310.9" cy="384.6" r="1.18"/><circle cx="133.1" cy="430.7" r="1.18"/><circle cx="236.5" cy="413.9" r="1.18"/><circle cx="79.9" cy="427.8" r="1.18"/><circle cx="186.3" cy="421.1" r="1.18"/><circle cx="323.7" cy="420.1" r="1.18"/><circle cx="124.2" cy="428.4" r="1.18"/><circle cx="320.5" cy="422.6" r="1.18"/><circle cx="276.1" cy="420.8" r="1.18"/><circle cx="295.8" cy="429.2" r="1.18"/><circle cx="237.0" cy="426.9" r="1.18"/><circle cx="326.5" cy="423.4" r="1.18"/><circle cx="225.2" cy="419.8" r="1.18"/><circle cx="73.5" cy="427.8" r="1.18"/><circle cx="318.5" cy="421.8" r="1.18"/><circle cx="311.6" cy="423.5" r="1.18"/><circle cx="95.1" cy="428.2" r="1.18"/><circle cx="289.3" cy="397.9" r="1.18"/><circle cx="314.6" cy="401.7" r="1.18"/><circle cx="287.8" cy="419.1" r="1.18"/><circle cx="180.9" cy="421.8" r="1.18"/><circle cx="77.8" cy="422.0" r="1.18"/><circle cx="79.1" cy="430.0" r="1.18"/><circle cx="306.0" cy="399.6" r="1.18"/><circle cx="272.7" cy="412.8" r="1.18"/><circle cx="283.0" cy="405.9" r="1.18"/><circle cx="342.3" cy="425.9" r="1.18"/><circle cx="154.2" cy="426.5" r="1.18"/><circle cx="154.7" cy="422.9" r="1.18"/><circle cx="301.8" cy="358.4" r="1.18"/><circle cx="302.6" cy="352.7" r="1.18"/><circle cx="121.6" cy="427.1" r="1.18"/><circle cx="373.7" cy="429.9" r="1.18"/><circle cx="224.8" cy="428.9" r="1.18"/><circle cx="278.6" cy="422.3" r="1.18"/><circle cx="254.8" cy="419.8" r="1.18"/><circle cx="205.1" cy="415.5" r="1.18"/><circle cx="250.8" cy="413.0" r="1.18"/><circle cx="301.2" cy="315.4" r="1.18"/><circle cx="376.8" cy="430.0" r="1.18"/><circle cx="314.2" cy="413.1" r="1.18"/><circle cx="208.5" cy="419.0" r="1.18"/><circle cx="305.9" cy="364.2" r="1.18"/><circle cx="200.1" cy="423.2" r="1.18"/><circle cx="251.4" cy="424.5" r="1.18"/><circle cx="231.9" cy="431.0" r="1.18"/><circle cx="342.8" cy="431.4" r="1.18"/><circle cx="96.4" cy="429.4" r="1.18"/><circle cx="257.2" cy="421.2" r="1.18"/><circle cx="144.9" cy="430.1" r="1.18"/><circle cx="161.4" cy="427.9" r="1.18"/><circle cx="210.2" cy="421.7" r="1.18"/><circle cx="258.0" cy="411.9" r="1.18"/><circle cx="205.7" cy="430.6" r="1.18"/><circle cx="299.5" cy="428.0" r="1.18"/><circle cx="296.9" cy="403.7" r="1.18"/><circle cx="170.9" cy="428.9" r="1.18"/><circle cx="226.4" cy="415.6" r="1.18"/><circle cx="326.6" cy="421.4" r="1.18"/><circle cx="83.1" cy="422.0" r="1.18"/><circle cx="242.5" cy="421.1" r="1.18"/><circle cx="66.3" cy="430.9" r="1.18"/><circle cx="304.5" cy="426.5" r="1.18"/><circle cx="105.6" cy="428.1" r="1.18"/><circle cx="192.3" cy="424.6" r="1.18"/><circle cx="283.1" cy="407.0" r="1.18"/><circle cx="172.1" cy="428.5" r="1.18"/><circle cx="184.3" cy="430.8" r="1.18"/><circle cx="313.9" cy="422.2" r="1.18"/><circle cx="289.6" cy="428.0" r="1.18"/><circle cx="266.7" cy="415.8" r="1.18"/><circle cx="301.8" cy="330.7" r="1.18"/><circle cx="301.5" cy="346.9" r="1.18"/><circle cx="213.1" cy="431.0" r="1.18"/><circle cx="183.5" cy="428.0" r="1.18"/><circle cx="298.6" cy="417.4" r="1.18"/><circle cx="197.1" cy="421.8" r="1.18"/><circle cx="250.9" cy="414.7" r="1.18"/><circle cx="294.6" cy="411.9" r="1.18"/><circle cx="119.3" cy="427.4" r="1.18"/><circle cx="164.1" cy="420.9" r="1.18"/><circle cx="295.1" cy="428.4" r="1.18"/><circle cx="191.1" cy="409.3" r="1.18"/><circle cx="127.0" cy="428.4" r="1.18"/><circle cx="137.0" cy="414.4" r="1.18"/><circle cx="93.5" cy="421.3" r="1.18"/><circle cx="318.2" cy="406.9" r="1.18"/><circle cx="305.6" cy="322.5" r="1.18"/><circle cx="304.3" cy="358.3" r="1.18"/><circle cx="208.5" cy="430.0" r="1.18"/><circle cx="269.9" cy="408.1" r="1.18"/><circle cx="290.4" cy="417.9" r="1.18"/><circle cx="73.0" cy="430.7" r="1.18"/><circle cx="314.2" cy="422.3" r="1.18"/><circle cx="304.4" cy="422.0" r="1.18"/><circle cx="317.6" cy="425.7" r="1.18"/><circle cx="290.4" cy="409.8" r="1.18"/><circle cx="236.0" cy="425.2" r="1.18"/><circle cx="94.5" cy="431.2" r="1.18"/><circle cx="276.7" cy="406.8" r="1.18"/><circle cx="158.4" cy="419.8" r="1.18"/><circle cx="300.7" cy="392.2" r="1.18"/><circle cx="299.9" cy="404.7" r="1.18"/><circle cx="317.5" cy="431.2" r="1.18"/><circle cx="64.9" cy="429.8" r="1.18"/><circle cx="329.6" cy="422.2" r="1.18"/><circle cx="310.1" cy="427.9" r="1.18"/><circle cx="139.0" cy="417.0" r="1.18"/><circle cx="236.3" cy="426.1" r="1.18"/><circle cx="333.2" cy="426.6" r="1.18"/><circle cx="314.5" cy="416.5" r="1.18"/><circle cx="355.6" cy="428.6" r="1.18"/><circle cx="112.6" cy="431.4" r="1.18"/><circle cx="339.8" cy="426.1" r="1.18"/><circle cx="229.4" cy="403.0" r="1.18"/><circle cx="253.6" cy="430.8" r="1.18"/><circle cx="240.6" cy="412.3" r="1.18"/><circle cx="262.9" cy="414.9" r="1.18"/><circle cx="314.1" cy="413.0" r="1.18"/><circle cx="193.1" cy="430.7" r="1.18"/><circle cx="306.2" cy="419.9" r="1.18"/><circle cx="315.3" cy="387.0" r="1.18"/><circle cx="247.4" cy="425.9" r="1.18"/><circle cx="307.5" cy="430.7" r="1.18"/><circle cx="332.6" cy="424.3" r="1.18"/><circle cx="237.3" cy="402.3" r="1.18"/><circle cx="297.3" cy="399.5" r="1.18"/><circle cx="241.0" cy="415.5" r="1.18"/><circle cx="158.8" cy="423.8" r="1.18"/><circle cx="211.2" cy="425.8" r="1.18"/><circle cx="318.6" cy="425.3" r="1.18"/><circle cx="249.2" cy="414.1" r="1.18"/><circle cx="272.0" cy="413.4" r="1.18"/><circle cx="221.2" cy="419.9" r="1.18"/><circle cx="179.3" cy="425.4" r="1.18"/><circle cx="293.0" cy="430.1" r="1.18"/><circle cx="370.1" cy="429.3" r="1.18"/><circle cx="252.7" cy="424.0" r="1.18"/><circle cx="301.0" cy="352.6" r="1.18"/><circle cx="193.4" cy="419.5" r="1.18"/><circle cx="245.9" cy="416.2" r="1.18"/><circle cx="110.3" cy="430.3" r="1.18"/><circle cx="373.1" cy="429.6" r="1.18"/><circle cx="297.8" cy="370.1" r="1.18"/><circle cx="229.5" cy="418.4" r="1.18"/><circle cx="300.8" cy="371.8" r="1.18"/><circle cx="170.4" cy="422.6" r="1.18"/><circle cx="132.6" cy="419.1" r="1.18"/><circle cx="299.9" cy="413.4" r="1.18"/><circle cx="258.8" cy="410.0" r="1.18"/><circle cx="225.8" cy="425.2" r="1.18"/><circle cx="257.2" cy="411.6" r="1.18"/><circle cx="209.4" cy="431.1" r="1.18"/><circle cx="303.3" cy="407.7" r="1.18"/><circle cx="325.8" cy="422.5" r="1.18"/><circle cx="240.3" cy="416.9" r="1.18"/><circle cx="146.2" cy="410.7" r="1.18"/><circle cx="292.5" cy="415.5" r="1.18"/><circle cx="293.9" cy="411.7" r="1.18"/><circle cx="123.8" cy="430.4" r="1.18"/><circle cx="306.9" cy="365.7" r="1.18"/><circle cx="284.6" cy="408.6" r="1.18"/><circle cx="167.5" cy="420.2" r="1.18"/><circle cx="341.5" cy="430.3" r="1.18"/><circle cx="89.3" cy="428.3" r="1.18"/><circle cx="126.6" cy="431.3" r="1.18"/><circle cx="269.0" cy="424.6" r="1.18"/><circle cx="301.6" cy="390.6" r="1.18"/><circle cx="285.2" cy="407.5" r="1.18"/><circle cx="162.6" cy="428.2" r="1.18"/><circle cx="182.3" cy="422.9" r="1.18"/><circle cx="142.4" cy="430.6" r="1.18"/><circle cx="252.8" cy="422.0" r="1.18"/><circle cx="215.8" cy="420.9" r="1.18"/><circle cx="274.5" cy="421.6" r="1.18"/><circle cx="349.7" cy="428.0" r="1.18"/><circle cx="158.3" cy="420.3" r="1.18"/><circle cx="238.2" cy="418.6" r="1.18"/><circle cx="295.7" cy="394.5" r="1.18"/><circle cx="288.7" cy="373.7" r="1.18"/><circle cx="163.5" cy="404.2" r="1.18"/><circle cx="104.7" cy="428.2" r="1.18"/><circle cx="229.5" cy="415.9" r="1.18"/><circle cx="279.7" cy="416.4" r="1.18"/><circle cx="178.7" cy="420.5" r="1.18"/><circle cx="177.5" cy="424.1" r="1.18"/><circle cx="269.0" cy="425.7" r="1.18"/><circle cx="295.2" cy="415.9" r="1.18"/><circle cx="278.1" cy="412.5" r="1.18"/><circle cx="301.9" cy="406.6" r="1.18"/><circle cx="301.5" cy="360.1" r="1.18"/><circle cx="266.9" cy="418.5" r="1.18"/><circle cx="250.1" cy="412.9" r="1.18"/><circle cx="196.9" cy="428.9" r="1.18"/><circle cx="340.9" cy="427.2" r="1.18"/><circle cx="226.3" cy="421.3" r="1.18"/><circle cx="200.8" cy="425.1" r="1.18"/><circle cx="239.3" cy="423.4" r="1.18"/><circle cx="157.9" cy="416.5" r="1.18"/><circle cx="281.6" cy="423.6" r="1.18"/><circle cx="294.4" cy="399.5" r="1.18"/><circle cx="163.1" cy="429.7" r="1.18"/><circle cx="234.6" cy="427.8" r="1.18"/><circle cx="319.7" cy="411.7" r="1.18"/><circle cx="305.3" cy="361.2" r="1.18"/><circle cx="263.4" cy="425.0" r="1.18"/><circle cx="285.2" cy="414.0" r="1.18"/><circle cx="309.7" cy="410.2" r="1.18"/><circle cx="273.9" cy="411.5" r="1.18"/><circle cx="260.8" cy="412.8" r="1.18"/><circle cx="281.5" cy="404.6" r="1.18"/><circle cx="290.9" cy="379.6" r="1.18"/><circle cx="194.5" cy="421.5" r="1.18"/><circle cx="313.0" cy="421.6" r="1.18"/><circle cx="137.5" cy="427.5" r="1.18"/><circle cx="283.3" cy="428.9" r="1.18"/><circle cx="329.7" cy="426.7" r="1.18"/><circle cx="261.0" cy="427.5" r="1.18"/><circle cx="291.8" cy="414.4" r="1.18"/><circle cx="372.3" cy="430.3" r="1.18"/><circle cx="355.9" cy="428.0" r="1.18"/><circle cx="318.5" cy="417.6" r="1.18"/><circle cx="320.5" cy="425.0" r="1.18"/><circle cx="221.3" cy="429.4" r="1.18"/><circle cx="203.4" cy="419.7" r="1.18"/><circle cx="251.0" cy="418.9" r="1.18"/><circle cx="133.3" cy="429.4" r="1.18"/><circle cx="140.4" cy="423.3" r="1.18"/><circle cx="282.3" cy="416.8" r="1.18"/><circle cx="225.4" cy="427.3" r="1.18"/><circle cx="245.5" cy="399.2" r="1.18"/><circle cx="182.6" cy="429.4" r="1.18"/><circle cx="337.3" cy="429.3" r="1.18"/><circle cx="289.7" cy="412.7" r="1.18"/><circle cx="117.0" cy="428.1" r="1.18"/><circle cx="284.3" cy="404.6" r="1.18"/><circle cx="326.0" cy="419.8" r="1.18"/><circle cx="216.8" cy="419.8" r="1.18"/><circle cx="318.0" cy="405.7" r="1.18"/><circle cx="299.9" cy="388.6" r="1.18"/><circle cx="165.6" cy="428.1" r="1.18"/><circle cx="247.2" cy="402.8" r="1.18"/><circle cx="255.8" cy="418.9" r="1.18"/><circle cx="323.3" cy="414.4" r="1.18"/><circle cx="270.1" cy="405.9" r="1.18"/><circle cx="144.0" cy="426.0" r="1.18"/><circle cx="251.9" cy="430.8" r="1.18"/><circle cx="317.7" cy="413.8" r="1.18"/><circle cx="251.5" cy="416.0" r="1.18"/><circle cx="206.6" cy="419.9" r="1.18"/><circle cx="193.3" cy="425.0" r="1.18"/><circle cx="287.3" cy="411.8" r="1.18"/><circle cx="274.5" cy="414.0" r="1.18"/><circle cx="323.5" cy="423.6" r="1.18"/><circle cx="208.0" cy="427.7" r="1.18"/><circle cx="297.4" cy="398.1" r="1.18"/><circle cx="212.7" cy="421.0" r="1.18"/><circle cx="214.7" cy="428.1" r="1.18"/><circle cx="128.7" cy="427.6" r="1.18"/><circle cx="296.0" cy="406.8" r="1.18"/><circle cx="221.3" cy="412.9" r="1.18"/><circle cx="136.2" cy="427.2" r="1.18"/><circle cx="270.9" cy="414.0" r="1.18"/><circle cx="306.0" cy="371.5" r="1.18"/><circle cx="298.9" cy="396.3" r="1.18"/><circle cx="309.7" cy="423.7" r="1.18"/><circle cx="298.2" cy="418.5" r="1.18"/><circle cx="278.9" cy="419.0" r="1.18"/><circle cx="91.5" cy="421.2" r="1.18"/><circle cx="311.3" cy="398.9" r="1.18"/><circle cx="95.2" cy="430.8" r="1.18"/><circle cx="218.8" cy="424.9" r="1.18"/><circle cx="207.5" cy="420.8" r="1.18"/><circle cx="306.5" cy="408.6" r="1.18"/><circle cx="292.3" cy="419.5" r="1.18"/><circle cx="310.9" cy="400.1" r="1.18"/><circle cx="279.5" cy="407.1" r="1.18"/><circle cx="309.7" cy="394.4" r="1.18"/><circle cx="164.7" cy="422.5" r="1.18"/><circle cx="75.0" cy="428.5" r="1.18"/><circle cx="284.0" cy="410.2" r="1.18"/><circle cx="166.3" cy="429.3" r="1.18"/><circle cx="311.4" cy="420.5" r="1.18"/><circle cx="251.3" cy="409.6" r="1.18"/><circle cx="230.2" cy="423.4" r="1.18"/><circle cx="162.9" cy="416.0" r="1.18"/><circle cx="240.2" cy="431.1" r="1.18"/><circle cx="239.2" cy="409.4" r="1.18"/><circle cx="309.8" cy="399.5" r="1.18"/><circle cx="212.3" cy="431.4" r="1.18"/><circle cx="314.3" cy="413.1" r="1.18"/><circle cx="297.9" cy="393.2" r="1.18"/><circle cx="280.7" cy="407.8" r="1.18"/><circle cx="207.5" cy="430.7" r="1.18"/><circle cx="227.4" cy="418.3" r="1.18"/><circle cx="300.1" cy="412.3" r="1.18"/><circle cx="217.1" cy="424.7" r="1.18"/><circle cx="136.1" cy="426.9" r="1.18"/><circle cx="346.0" cy="429.3" r="1.18"/><circle cx="166.0" cy="423.6" r="1.18"/><circle cx="245.8" cy="415.9" r="1.18"/><circle cx="242.4" cy="396.2" r="1.18"/><circle cx="312.4" cy="410.8" r="1.18"/><circle cx="245.1" cy="411.4" r="1.18"/><circle cx="143.2" cy="425.2" r="1.18"/><circle cx="308.6" cy="395.0" r="1.18"/><circle cx="200.0" cy="420.9" r="1.18"/><circle cx="182.8" cy="429.8" r="1.18"/><circle cx="134.8" cy="427.5" r="1.18"/><circle cx="356.5" cy="428.6" r="1.18"/><circle cx="82.1" cy="427.8" r="1.18"/><circle cx="125.5" cy="413.6" r="1.18"/><circle cx="280.0" cy="396.8" r="1.18"/><circle cx="182.9" cy="425.0" r="1.18"/><circle cx="276.9" cy="373.8" r="1.18"/><circle cx="290.0" cy="401.4" r="1.18"/><circle cx="290.9" cy="431.1" r="1.18"/><circle cx="74.2" cy="422.6" r="1.18"/><circle cx="137.6" cy="429.1" r="1.18"/><circle cx="197.9" cy="420.2" r="1.18"/><circle cx="272.8" cy="412.4" r="1.18"/><circle cx="297.7" cy="398.5" r="1.18"/><circle cx="301.4" cy="325.5" r="1.18"/><circle cx="311.3" cy="423.4" r="1.18"/><circle cx="273.6" cy="424.7" r="1.18"/><circle cx="304.9" cy="372.4" r="1.18"/><circle cx="230.5" cy="425.7" r="1.18"/><circle cx="126.8" cy="412.5" r="1.18"/><circle cx="153.8" cy="420.6" r="1.18"/><circle cx="261.8" cy="420.0" r="1.18"/><circle cx="304.7" cy="401.2" r="1.18"/><circle cx="305.0" cy="416.5" r="1.18"/><circle cx="251.0" cy="413.5" r="1.18"/><circle cx="138.2" cy="430.2" r="1.18"/><circle cx="277.8" cy="384.4" r="1.18"/><circle cx="275.2" cy="410.0" r="1.18"/><circle cx="311.5" cy="409.3" r="1.18"/><circle cx="247.9" cy="395.8" r="1.18"/><circle cx="357.1" cy="428.7" r="1.18"/><circle cx="159.7" cy="422.6" r="1.18"/><circle cx="341.1" cy="431.1" r="1.18"/><circle cx="171.6" cy="426.0" r="1.18"/><circle cx="359.5" cy="429.5" r="1.18"/><circle cx="300.1" cy="332.9" r="1.18"/><circle cx="88.5" cy="428.0" r="1.18"/><circle cx="335.3" cy="430.0" r="1.18"/><circle cx="260.2" cy="413.1" r="1.18"/><circle cx="289.2" cy="424.7" r="1.18"/><circle cx="297.0" cy="372.5" r="1.18"/><circle cx="304.4" cy="401.9" r="1.18"/><circle cx="293.4" cy="392.9" r="1.18"/><circle cx="212.8" cy="419.2" r="1.18"/><circle cx="177.3" cy="425.2" r="1.18"/><circle cx="131.9" cy="430.5" r="1.18"/><circle cx="330.5" cy="428.6" r="1.18"/><circle cx="338.0" cy="404.0" r="1.18"/><circle cx="184.4" cy="421.7" r="1.18"/><circle cx="269.4" cy="420.8" r="1.18"/><circle cx="321.7" cy="400.3" r="1.18"/><circle cx="113.8" cy="428.5" r="1.18"/><circle cx="165.4" cy="414.2" r="1.18"/><circle cx="316.3" cy="406.2" r="1.18"/><circle cx="201.3" cy="429.3" r="1.18"/><circle cx="210.3" cy="423.8" r="1.18"/><circle cx="257.6" cy="414.0" r="1.18"/><circle cx="127.5" cy="428.0" r="1.18"/><circle cx="280.5" cy="418.3" r="1.18"/><circle cx="120.7" cy="427.4" r="1.18"/><circle cx="149.9" cy="426.6" r="1.18"/><circle cx="296.5" cy="364.1" r="1.18"/><circle cx="297.8" cy="418.5" r="1.18"/><circle cx="79.5" cy="428.6" r="1.18"/><circle cx="67.4" cy="428.0" r="1.18"/><circle cx="336.5" cy="427.9" r="1.18"/><circle cx="128.7" cy="410.1" r="1.18"/><circle cx="312.1" cy="416.9" r="1.18"/><circle cx="88.3" cy="430.4" r="1.18"/><circle cx="313.4" cy="387.6" r="1.18"/><circle cx="84.4" cy="428.3" r="1.18"/><circle cx="321.0" cy="417.1" r="1.18"/><circle cx="134.2" cy="431.3" r="1.18"/><circle cx="327.2" cy="427.0" r="1.18"/><circle cx="185.0" cy="425.9" r="1.18"/><circle cx="302.8" cy="357.5" r="1.18"/><circle cx="239.7" cy="417.7" r="1.18"/><circle cx="162.6" cy="407.2" r="1.18"/><circle cx="142.4" cy="421.7" r="1.18"/><circle cx="353.4" cy="427.9" r="1.18"/><circle cx="350.6" cy="428.5" r="1.18"/><circle cx="302.2" cy="412.3" r="1.18"/><circle cx="182.8" cy="420.6" r="1.18"/><circle cx="128.0" cy="427.7" r="1.18"/><circle cx="169.7" cy="430.9" r="1.18"/><circle cx="333.0" cy="423.6" r="1.18"/><circle cx="300.5" cy="342.8" r="1.18"/><circle cx="147.1" cy="429.8" r="1.18"/><circle cx="233.3" cy="393.0" r="1.18"/><circle cx="209.0" cy="419.9" r="1.18"/><circle cx="316.3" cy="418.9" r="1.18"/><circle cx="75.6" cy="421.3" r="1.18"/><circle cx="206.4" cy="422.3" r="1.18"/><circle cx="222.5" cy="419.9" r="1.18"/><circle cx="320.9" cy="408.8" r="1.18"/><circle cx="247.4" cy="409.4" r="1.18"/><circle cx="104.3" cy="431.4" r="1.18"/><circle cx="247.1" cy="430.4" r="1.18"/><circle cx="163.0" cy="406.7" r="1.18"/><circle cx="194.8" cy="426.4" r="1.18"/><circle cx="270.6" cy="424.6" r="1.18"/><circle cx="247.3" cy="424.2" r="1.18"/><circle cx="299.2" cy="411.7" r="1.18"/><circle cx="157.1" cy="419.5" r="1.18"/><circle cx="264.5" cy="414.8" r="1.18"/><circle cx="285.6" cy="401.2" r="1.18"/><circle cx="240.1" cy="402.2" r="1.18"/><circle cx="208.1" cy="423.1" r="1.18"/><circle cx="277.3" cy="415.6" r="1.18"/><circle cx="298.3" cy="417.2" r="1.18"/><circle cx="240.3" cy="397.7" r="1.18"/><circle cx="162.7" cy="422.8" r="1.18"/><circle cx="305.2" cy="402.1" r="1.18"/><circle cx="301.4" cy="404.3" r="1.18"/><circle cx="229.0" cy="419.5" r="1.18"/><circle cx="140.6" cy="430.8" r="1.18"/><circle cx="132.9" cy="426.6" r="1.18"/><circle cx="308.7" cy="414.9" r="1.18"/><circle cx="256.5" cy="414.3" r="1.18"/><circle cx="301.5" cy="368.5" r="1.18"/><circle cx="258.1" cy="428.0" r="1.18"/><circle cx="301.7" cy="420.6" r="1.18"/><circle cx="283.2" cy="391.0" r="1.18"/><circle cx="291.5" cy="430.0" r="1.18"/><circle cx="248.9" cy="421.7" r="1.18"/><circle cx="313.3" cy="411.8" r="1.18"/><circle cx="137.9" cy="416.3" r="1.18"/><circle cx="114.9" cy="427.6" r="1.18"/><circle cx="304.6" cy="361.1" r="1.18"/><circle cx="301.3" cy="399.9" r="1.18"/><circle cx="258.1" cy="422.6" r="1.18"/><circle cx="300.1" cy="366.0" r="1.18"/><circle cx="161.0" cy="425.4" r="1.18"/><circle cx="161.7" cy="418.0" r="1.18"/><circle cx="126.6" cy="423.8" r="1.18"/><circle cx="153.0" cy="425.4" r="1.18"/><circle cx="296.5" cy="403.9" r="1.18"/><circle cx="312.2" cy="409.0" r="1.18"/><circle cx="319.9" cy="409.5" r="1.18"/><circle cx="233.5" cy="430.3" r="1.18"/><circle cx="196.4" cy="424.6" r="1.18"/><circle cx="336.5" cy="428.3" r="1.18"/><circle cx="288.3" cy="400.4" r="1.18"/><circle cx="194.7" cy="428.4" r="1.18"/><circle cx="269.3" cy="417.1" r="1.18"/><circle cx="155.9" cy="429.4" r="1.18"/><circle cx="247.9" cy="423.6" r="1.18"/><circle cx="317.4" cy="400.0" r="1.18"/><circle cx="228.2" cy="419.7" r="1.18"/><circle cx="214.0" cy="421.3" r="1.18"/><circle cx="149.0" cy="420.2" r="1.18"/><circle cx="168.9" cy="426.4" r="1.18"/><circle cx="293.5" cy="382.9" r="1.18"/><circle cx="85.8" cy="431.1" r="1.18"/><circle cx="107.3" cy="428.1" r="1.18"/><circle cx="305.8" cy="393.1" r="1.18"/><circle cx="312.3" cy="398.0" r="1.18"/><circle cx="301.8" cy="394.5" r="1.18"/><circle cx="285.0" cy="428.4" r="1.18"/><circle cx="242.2" cy="429.9" r="1.18"/><circle cx="301.0" cy="357.1" r="1.18"/><circle cx="249.8" cy="424.7" r="1.18"/><circle cx="165.6" cy="419.7" r="1.18"/><circle cx="233.1" cy="428.9" r="1.18"/><circle cx="287.9" cy="415.8" r="1.18"/><circle cx="312.5" cy="415.7" r="1.18"/><circle cx="167.1" cy="430.8" r="1.18"/><circle cx="148.0" cy="416.5" r="1.18"/><circle cx="331.4" cy="431.1" r="1.18"/><circle cx="295.9" cy="396.4" r="1.18"/><circle cx="304.9" cy="378.0" r="1.18"/><circle cx="321.0" cy="427.4" r="1.18"/><circle cx="305.8" cy="413.2" r="1.18"/><circle cx="176.1" cy="429.2" r="1.18"/><circle cx="293.0" cy="363.9" r="1.18"/><circle cx="235.7" cy="431.3" r="1.18"/><circle cx="306.4" cy="329.0" r="1.18"/><circle cx="273.2" cy="425.7" r="1.18"/><circle cx="299.4" cy="373.0" r="1.18"/><circle cx="292.8" cy="377.8" r="1.18"/><circle cx="267.4" cy="415.5" r="1.18"/><circle cx="252.2" cy="412.3" r="1.18"/><circle cx="233.9" cy="416.4" r="1.18"/><circle cx="290.6" cy="409.9" r="1.18"/><circle cx="322.4" cy="423.9" r="1.18"/><circle cx="339.5" cy="430.3" r="1.18"/><circle cx="322.8" cy="404.1" r="1.18"/><circle cx="307.0" cy="403.2" r="1.18"/><circle cx="175.4" cy="429.5" r="1.18"/><circle cx="303.0" cy="346.2" r="1.18"/><circle cx="194.4" cy="427.4" r="1.18"/><circle cx="251.7" cy="412.1" r="1.18"/><circle cx="297.7" cy="389.8" r="1.18"/><circle cx="322.5" cy="429.8" r="1.18"/><circle cx="238.1" cy="424.0" r="1.18"/><circle cx="90.5" cy="428.7" r="1.18"/><circle cx="285.4" cy="405.6" r="1.18"/><circle cx="237.9" cy="429.2" r="1.18"/><circle cx="301.3" cy="400.8" r="1.18"/><circle cx="253.6" cy="429.1" r="1.18"/><circle cx="329.0" cy="425.0" r="1.18"/><circle cx="107.9" cy="431.2" r="1.18"/><circle cx="183.7" cy="423.2" r="1.18"/><circle cx="134.5" cy="414.0" r="1.18"/><circle cx="243.4" cy="428.5" r="1.18"/><circle cx="303.8" cy="349.1" r="1.18"/><circle cx="273.0" cy="415.2" r="1.18"/><circle cx="305.9" cy="394.5" r="1.18"/><circle cx="277.7" cy="405.4" r="1.18"/><circle cx="104.3" cy="430.0" r="1.18"/><circle cx="278.3" cy="406.2" r="1.18"/><circle cx="296.5" cy="405.3" r="1.18"/><circle cx="349.6" cy="429.3" r="1.18"/><circle cx="264.7" cy="410.3" r="1.18"/><circle cx="127.3" cy="427.3" r="1.18"/><circle cx="240.6" cy="422.1" r="1.18"/><circle cx="296.5" cy="425.5" r="1.18"/><circle cx="311.3" cy="395.5" r="1.18"/><circle cx="315.1" cy="428.1" r="1.18"/><circle cx="277.9" cy="408.5" r="1.18"/><circle cx="192.6" cy="430.5" r="1.18"/><circle cx="211.1" cy="422.0" r="1.18"/><circle cx="292.4" cy="404.2" r="1.18"/><circle cx="241.1" cy="427.8" r="1.18"/><circle cx="345.2" cy="429.6" r="1.18"/><circle cx="158.2" cy="424.5" r="1.18"/><circle cx="237.1" cy="425.0" r="1.18"/><circle cx="303.9" cy="430.7" r="1.18"/><circle cx="177.4" cy="423.4" r="1.18"/><circle cx="247.8" cy="396.8" r="1.18"/><circle cx="303.9" cy="431.2" r="1.18"/><circle cx="207.3" cy="426.8" r="1.18"/><circle cx="152.3" cy="429.2" r="1.18"/><circle cx="318.7" cy="425.3" r="1.18"/><circle cx="121.5" cy="430.2" r="1.18"/><circle cx="234.3" cy="424.3" r="1.18"/><circle cx="327.8" cy="421.7" r="1.18"/><circle cx="283.5" cy="410.4" r="1.18"/><circle cx="311.9" cy="421.1" r="1.18"/><circle cx="303.7" cy="395.9" r="1.18"/><circle cx="151.0" cy="423.2" r="1.18"/><circle cx="214.7" cy="423.1" r="1.18"/><circle cx="240.3" cy="414.3" r="1.18"/><circle cx="286.5" cy="417.4" r="1.18"/><circle cx="267.0" cy="425.8" r="1.18"/><circle cx="292.7" cy="403.5" r="1.18"/><circle cx="254.9" cy="430.1" r="1.18"/><circle cx="303.1" cy="394.0" r="1.18"/><circle cx="187.9" cy="424.5" r="1.18"/><circle cx="302.9" cy="391.7" r="1.18"/><circle cx="202.5" cy="430.7" r="1.18"/><circle cx="308.7" cy="414.1" r="1.18"/><circle cx="356.8" cy="420.0" r="1.18"/><circle cx="155.3" cy="418.2" r="1.18"/><circle cx="326.8" cy="418.9" r="1.18"/><circle cx="258.4" cy="405.1" r="1.18"/><circle cx="306.2" cy="398.8" r="1.18"/><circle cx="219.3" cy="425.9" r="1.18"/><circle cx="130.9" cy="428.4" r="1.18"/><circle cx="263.1" cy="421.4" r="1.18"/><circle cx="146.8" cy="425.8" r="1.18"/><circle cx="167.4" cy="419.4" r="1.18"/><circle cx="140.5" cy="410.2" r="1.18"/><circle cx="220.3" cy="429.6" r="1.18"/><circle cx="321.4" cy="411.1" r="1.18"/><circle cx="87.8" cy="428.7" r="1.18"/><circle cx="327.4" cy="424.7" r="1.18"/><circle cx="285.8" cy="414.2" r="1.18"/><circle cx="235.1" cy="415.0" r="1.18"/><circle cx="299.4" cy="425.3" r="1.18"/><circle cx="259.1" cy="413.8" r="1.18"/><circle cx="226.6" cy="426.7" r="1.18"/><circle cx="317.8" cy="430.3" r="1.18"/><circle cx="85.4" cy="429.5" r="1.18"/><circle cx="277.4" cy="429.6" r="1.18"/><circle cx="331.6" cy="425.9" r="1.18"/><circle cx="242.0" cy="422.9" r="1.18"/><circle cx="337.8" cy="430.7" r="1.18"/><circle cx="296.8" cy="420.1" r="1.18"/><circle cx="248.9" cy="412.2" r="1.18"/><circle cx="246.7" cy="409.2" r="1.18"/><circle cx="292.9" cy="421.8" r="1.18"/><circle cx="212.6" cy="428.6" r="1.18"/><circle cx="305.7" cy="392.7" r="1.18"/><circle cx="283.6" cy="416.0" r="1.18"/><circle cx="306.7" cy="390.9" r="1.18"/><circle cx="111.1" cy="431.2" r="1.18"/><circle cx="170.5" cy="421.0" r="1.18"/><circle cx="323.8" cy="428.3" r="1.18"/><circle cx="290.8" cy="421.2" r="1.18"/><circle cx="303.6" cy="418.4" r="1.18"/><circle cx="327.9" cy="422.2" r="1.18"/><circle cx="251.6" cy="420.4" r="1.18"/><circle cx="234.8" cy="423.1" r="1.18"/><circle cx="299.6" cy="393.1" r="1.18"/><circle cx="90.0" cy="431.1" r="1.18"/><circle cx="269.9" cy="416.0" r="1.18"/><circle cx="313.9" cy="402.9" r="1.18"/><circle cx="272.5" cy="414.2" r="1.18"/><circle cx="137.7" cy="414.9" r="1.18"/><circle cx="186.9" cy="430.6" r="1.18"/><circle cx="287.6" cy="389.4" r="1.18"/><circle cx="218.6" cy="430.1" r="1.18"/><circle cx="302.6" cy="359.4" r="1.18"/><circle cx="273.7" cy="411.5" r="1.18"/><circle cx="296.4" cy="402.9" r="1.18"/><circle cx="251.1" cy="412.0" r="1.18"/><circle cx="189.7" cy="431.3" r="1.18"/><circle cx="293.5" cy="402.1" r="1.18"/><circle cx="271.3" cy="419.3" r="1.18"/><circle cx="294.1" cy="391.9" r="1.18"/><circle cx="157.3" cy="424.8" r="1.18"/><circle cx="283.4" cy="431.4" r="1.18"/><circle cx="83.2" cy="428.3" r="1.18"/><circle cx="300.0" cy="415.7" r="1.18"/><circle cx="318.4" cy="412.8" r="1.18"/><circle cx="307.6" cy="335.5" r="1.18"/><circle cx="276.3" cy="422.8" r="1.18"/><circle cx="239.3" cy="423.0" r="1.18"/><circle cx="228.5" cy="426.7" r="1.18"/><circle cx="304.0" cy="368.0" r="1.18"/><circle cx="157.6" cy="427.0" r="1.18"/><circle cx="300.2" cy="343.6" r="1.18"/><circle cx="301.0" cy="368.7" r="1.18"/><circle cx="258.8" cy="411.3" r="1.18"/><circle cx="190.7" cy="431.3" r="1.18"/><circle cx="197.5" cy="419.8" r="1.18"/><circle cx="303.2" cy="418.1" r="1.18"/><circle cx="300.1" cy="370.0" r="1.18"/><circle cx="305.7" cy="421.8" r="1.18"/><circle cx="281.6" cy="407.2" r="1.18"/><circle cx="255.6" cy="426.7" r="1.18"/><circle cx="266.5" cy="411.5" r="1.18"/><circle cx="311.0" cy="431.0" r="1.18"/><circle cx="158.5" cy="416.6" r="1.18"/><circle cx="257.4" cy="431.1" r="1.18"/><circle cx="305.9" cy="405.6" r="1.18"/><circle cx="233.6" cy="413.0" r="1.18"/><circle cx="299.7" cy="388.7" r="1.18"/><circle cx="187.0" cy="425.3" r="1.18"/><circle cx="140.0" cy="416.4" r="1.18"/><circle cx="316.4" cy="428.8" r="1.18"/><circle cx="237.5" cy="404.7" r="1.18"/><circle cx="302.8" cy="330.6" r="1.18"/><circle cx="287.5" cy="429.8" r="1.18"/><circle cx="202.4" cy="421.3" r="1.18"/><circle cx="226.1" cy="431.3" r="1.18"/><circle cx="295.7" cy="417.8" r="1.18"/><circle cx="189.0" cy="422.9" r="1.18"/><circle cx="234.3" cy="417.9" r="1.18"/><circle cx="270.3" cy="426.3" r="1.18"/><circle cx="272.0" cy="427.5" r="1.18"/><circle cx="375.5" cy="430.6" r="1.18"/><circle cx="265.9" cy="408.6" r="1.18"/><circle cx="258.1" cy="402.3" r="1.18"/><circle cx="158.8" cy="412.4" r="1.18"/><circle cx="251.9" cy="420.8" r="1.18"/><circle cx="263.4" cy="431.2" r="1.18"/><circle cx="223.0" cy="423.9" r="1.18"/><circle cx="267.7" cy="414.3" r="1.18"/><circle cx="164.5" cy="428.3" r="1.18"/><circle cx="156.5" cy="428.3" r="1.18"/><circle cx="143.5" cy="430.3" r="1.18"/><circle cx="304.1" cy="401.8" r="1.18"/><circle cx="161.8" cy="423.5" r="1.18"/><circle cx="158.5" cy="417.7" r="1.18"/><circle cx="219.4" cy="420.3" r="1.18"/><circle cx="286.6" cy="398.2" r="1.18"/><circle cx="164.3" cy="429.4" r="1.18"/><circle cx="197.5" cy="427.9" r="1.18"/><circle cx="164.3" cy="416.2" r="1.18"/><circle cx="171.8" cy="427.5" r="1.18"/><circle cx="240.1" cy="411.7" r="1.18"/><circle cx="200.8" cy="428.9" r="1.18"/><circle cx="256.1" cy="429.3" r="1.18"/><circle cx="260.9" cy="427.5" r="1.18"/><circle cx="306.9" cy="429.2" r="1.18"/><circle cx="296.8" cy="395.3" r="1.18"/><circle cx="263.1" cy="408.6" r="1.18"/><circle cx="221.9" cy="417.9" r="1.18"/><circle cx="157.6" cy="424.2" r="1.18"/><circle cx="292.6" cy="422.5" r="1.18"/><circle cx="162.6" cy="409.6" r="1.18"/><circle cx="157.2" cy="429.7" r="1.18"/><circle cx="278.1" cy="405.9" r="1.18"/><circle cx="130.2" cy="428.5" r="1.18"/><circle cx="235.7" cy="418.6" r="1.18"/><circle cx="291.7" cy="425.9" r="1.18"/><circle cx="289.5" cy="367.8" r="1.18"/><circle cx="240.4" cy="423.5" r="1.18"/><circle cx="308.8" cy="417.5" r="1.18"/><circle cx="293.9" cy="373.3" r="1.18"/><circle cx="297.6" cy="390.1" r="1.18"/><circle cx="226.2" cy="417.3" r="1.18"/>
</g>
<circle cx="301.8" cy="304.5" r="1.6" fill="#1f4aa0" stroke="#1b3578" stroke-width="0.7"/>
<path d="M315.4,304.6 L306.96,304.60" stroke="#1f4aa0" stroke-width="1.3" marker-end="url(#ab)" fill="none"/>
<text x="319.9" y="307.6" style="font-size:8.3px;fill:#2450a4;stroke:#2450a4;stroke-width:0.15px" textLength="34.9" lengthAdjust="spacingAndGlyphs">rs34656207</text>
<circle cx="305.2" cy="368" r="1.6" fill="#1f4aa0" stroke="#1b3578" stroke-width="0.7"/>
<path d="M317.2,363.6 L310.82,366.03" stroke="#1f4aa0" stroke-width="1.3" marker-end="url(#ab)" fill="none"/>
<text x="321" y="363.8" style="font-size:8.3px;fill:#2450a4;stroke:#2450a4;stroke-width:0.15px" textLength="31.9" lengthAdjust="spacingAndGlyphs">rs3129776</text>
<circle cx="300.2" cy="388.4" r="1.6" fill="#1f4aa0" stroke="#1b3578" stroke-width="0.7"/>
<path d="M312.6,383.7 L305.41,386.51" stroke="#1f4aa0" stroke-width="1.3" marker-end="url(#ab)" fill="none"/>
<text x="313.5" y="383.2" style="font-size:7.6px;fill:#2450a4;stroke:#2450a4;stroke-width:0.15px" textLength="52.3" lengthAdjust="spacingAndGlyphs">6:32547629_intron5</text>
<circle cx="325.6" cy="426.4" r="1.6" fill="#1f4aa0" stroke="#1b3578" stroke-width="0.7"/>
<path d="M380.6,400.7 L332.36,422.80" stroke="#1f4aa0" stroke-width="1.3" marker-end="url(#ab)" fill="none"/>
<text x="351.2" y="398.7" style="font-size:7.6px;fill:#2450a4;stroke:#2450a4;stroke-width:0.15px" textLength="49.8" lengthAdjust="spacingAndGlyphs">6:33037626_exon2</text>
<circle cx="325.6" cy="417.4" r="1.6" fill="#1f4aa0" stroke="#1b3578" stroke-width="0.7"/>
<path d="M335.8,412.8 L330.75,415.18" stroke="#1f4aa0" stroke-width="1.3" marker-end="url(#ab)" fill="none"/>
<text x="327.6" y="410.2" style="font-size:8.3px;fill:#2450a4;stroke:#2450a4;stroke-width:0.15px" textLength="31.6" lengthAdjust="spacingAndGlyphs">rs6934289</text>
<circle cx="304.2" cy="431.8" r="1.6" fill="#1f4aa0" stroke="#1b3578" stroke-width="0.7"/>
<path d="M334.6,430.8 L309.56,430.80" stroke="#1f4aa0" stroke-width="1.3" marker-end="url(#ab)" fill="none"/>
<path d="M322.7,435.6 L305.76,435.60" stroke="#1f4aa0" stroke-width="1.4" marker-end="url(#ab)" fill="none"/>
<text x="335.2" y="432.8" style="font-size:7.6px;fill:#2450a4;stroke:#2450a4;stroke-width:0.15px" textLength="52.6" lengthAdjust="spacingAndGlyphs">6:32827726_intron5</text>
<circle cx="300.2" cy="423.6" r="1.6" fill="#1f4aa0" stroke="#1b3578" stroke-width="0.7"/>
<circle cx="300.2" cy="425.8" r="1.6" fill="#7b2d8b" stroke="#5a1a70" stroke-width="0.7"/>
<path d="M284.7,422 L294.65,422.82" stroke="#1f4aa0" stroke-width="1.3" marker-end="url(#ab)" fill="none"/>
<path d="M281.6,427.6 L294.45,426.23" stroke="#8a3a9a" stroke-width="1.55" marker-end="url(#ap)" fill="none"/>
<text x="218" y="423.8" style="font-size:7.6px;fill:#2450a4;stroke:#2450a4;stroke-width:0.15px" textLength="61" lengthAdjust="spacingAndGlyphs">6:32551940_exon2_AT</text>
<text x="218" y="431" style="font-size:7.6px;fill:#2450a4;stroke:#2450a4;stroke-width:0.15px;fill:#7b2d8b;stroke:#7b2d8b" textLength="59.5" lengthAdjust="spacingAndGlyphs">6:32552205_intron1_A</text>
<circle cx="236.4" cy="386.2" r="1.6" fill="#1f4aa0" stroke="#1b3578" stroke-width="0.7"/>
<path d="M217.2,329.6 L233.63,379.55" stroke="#1f4aa0" stroke-width="1.3" marker-end="url(#ab)" fill="none"/>
<text x="199.3" y="324.5" style="font-size:8.3px;fill:#2450a4;stroke:#2450a4;stroke-width:0.15px" textLength="29.5" lengthAdjust="spacingAndGlyphs">HLA-B*39</text>
<circle cx="246.9" cy="389.8" r="1.6" fill="#7b2d8b" stroke="#5a1a70" stroke-width="0.7"/>
<path d="M246.9,358 L246.90,384.74" stroke="#8a3a9a" stroke-width="1.55" marker-end="url(#ap)" fill="none"/>
<text x="232" y="355.3" style="font-size:8.3px;fill:#2450a4;stroke:#2450a4;stroke-width:0.15px;fill:#7b2d8b;stroke:#7b2d8b" textLength="31.6" lengthAdjust="spacingAndGlyphs">rs3093949</text>
<circle cx="163.8" cy="398" r="1.6" fill="#1f4aa0" stroke="#1b3578" stroke-width="0.7"/>
<path d="M151.4,355.2 L160.96,392.31" stroke="#1f4aa0" stroke-width="1.3" marker-end="url(#ab)" fill="none"/>
<text x="106.6" y="350.9" style="font-size:7.6px;fill:#2450a4;stroke:#2450a4;stroke-width:0.15px" textLength="60.4" lengthAdjust="spacingAndGlyphs">HLA_A_62_exon2_QR</text>
<circle cx="158" cy="428" r="1.6" fill="#1f4aa0" stroke="#1b3578" stroke-width="0.7"/>
<path d="M140.5,407.2 L154.36,422.79" stroke="#1f4aa0" stroke-width="1.3" marker-end="url(#ab)" fill="none"/>
<text x="117" y="404.2" style="font-size:8.3px;fill:#2450a4;stroke:#2450a4;stroke-width:0.15px" textLength="28.3" lengthAdjust="spacingAndGlyphs">rs452850</text>
<path d="M105,462.1 H187 M232,462.1 H245" stroke="#1f4aa0" stroke-width="0.4" opacity="0.6"/>
<g fill="#1f4aa0"><rect x="63.2" y="458.7" width="1.3" height="6.8" opacity="1"/><rect x="65.8" y="458.7" width="0.5" height="6.8" opacity="1"/><rect x="66.6" y="458.7" width="0.5" height="6.8" opacity="1"/><rect x="67.6" y="458.7" width="0.9" height="6.8" opacity="1"/><rect x="69.0" y="458.7" width="0.5" height="6.8" opacity="1"/><rect x="69.8" y="458.7" width="0.5" height="6.8" opacity="1"/><rect x="71.1" y="458.7" width="0.5" height="6.8" opacity="1"/><rect x="72.4" y="458.7" width="0.5" height="6.8" opacity="1"/><rect x="73.2" y="458.7" width="0.9" height="6.8" opacity="1"/><rect x="74.9" y="458.7" width="0.9" height="6.8" opacity="1"/><rect x="76.3" y="458.7" width="0.7" height="6.8" opacity="1"/><rect x="77.5" y="458.7" width="0.9" height="6.8" opacity="1"/><rect x="78.9" y="458.7" width="0.5" height="6.8" opacity="1"/><rect x="80.2" y="458.7" width="0.7" height="6.8" opacity="1"/><rect x="83.0" y="458.7" width="0.5" height="6.8" opacity="1"/><rect x="84.0" y="458.7" width="0.5" height="6.8" opacity="1"/><rect x="85.3" y="458.7" width="1.3" height="6.8" opacity="1"/><rect x="88.0" y="458.7" width="0.5" height="6.8" opacity="1"/><rect x="88.8" y="458.7" width="0.5" height="6.8" opacity="1"/><rect x="89.6" y="458.7" width="1.3" height="6.8" opacity="1"/><rect x="91.2" y="458.7" width="0.7" height="6.8" opacity="1"/><rect x="93.4" y="458.7" width="0.7" height="6.8" opacity="1"/><rect x="105.0" y="458.7" width="0.9" height="6.8" opacity="1"/><rect x="108.1" y="458.7" width="1.3" height="6.8" opacity="1"/><rect x="109.7" y="458.7" width="0.9" height="6.8" opacity="1"/><rect x="112.6" y="458.7" width="0.7" height="6.8" opacity="1"/><rect x="115.3" y="458.7" width="0.7" height="6.8" opacity="1"/><rect x="116.5" y="458.7" width="0.9" height="6.8" opacity="1"/><rect x="117.7" y="458.7" width="1.3" height="6.8" opacity="1"/><rect x="119.6" y="458.7" width="1.3" height="6.8" opacity="0.45"/><rect x="123.2" y="458.7" width="0.9" height="6.8" opacity="0.45"/><rect x="124.9" y="458.7" width="1.3" height="6.8" opacity="1"/><rect x="126.0" y="458.7" width="1.3" height="6.8" opacity="0.7"/><rect x="127.6" y="458.7" width="0.9" height="6.8" opacity="0.7"/><rect x="130.1" y="458.7" width="0.7" height="6.8" opacity="0.7"/><rect x="131.3" y="458.7" width="0.9" height="6.8" opacity="0.45"/><rect x="133.5" y="458.7" width="0.5" height="6.8" opacity="0.7"/><rect x="134.5" y="458.7" width="0.9" height="6.8" opacity="0.7"/><rect x="135.9" y="458.7" width="0.7" height="6.8" opacity="0.45"/><rect x="140.0" y="458.7" width="0.9" height="6.8" opacity="1"/><rect x="141.2" y="458.7" width="0.5" height="6.8" opacity="1"/><rect x="142.0" y="458.7" width="0.5" height="6.8" opacity="1"/><rect x="142.8" y="458.7" width="0.9" height="6.8" opacity="1"/><rect x="144.2" y="458.7" width="0.7" height="6.8" opacity="1"/><rect x="145.2" y="458.7" width="1.3" height="6.8" opacity="1"/><rect x="147.0" y="458.7" width="1.3" height="6.8" opacity="1"/><rect x="148.8" y="458.7" width="1.3" height="6.8" opacity="1"/><rect x="150.0" y="458.7" width="0.9" height="6.8" opacity="0.45"/><rect x="151.7" y="458.7" width="0.9" height="6.8" opacity="0.7"/><rect x="154.6" y="458.7" width="0.7" height="6.8" opacity="1"/><rect x="155.6" y="458.7" width="0.7" height="6.8" opacity="1"/><rect x="159.1" y="458.7" width="1.3" height="6.8" opacity="1"/><rect x="161.2" y="458.7" width="0.7" height="6.8" opacity="0.7"/><rect x="162.2" y="458.7" width="0.9" height="6.8" opacity="0.7"/><rect x="163.4" y="458.7" width="0.9" height="6.8" opacity="1"/><rect x="164.8" y="458.7" width="0.7" height="6.8" opacity="1"/><rect x="166.3" y="458.7" width="0.9" height="6.8" opacity="0.7"/><rect x="168.7" y="458.7" width="1.3" height="6.8" opacity="0.45"/><rect x="170.0" y="458.7" width="0.5" height="6.8" opacity="1"/><rect x="170.8" y="458.7" width="0.9" height="6.8" opacity="1"/><rect x="172.0" y="458.7" width="0.7" height="6.8" opacity="1"/><rect x="173.0" y="458.7" width="1.3" height="6.8" opacity="1"/><rect x="176.9" y="458.7" width="0.5" height="6.8" opacity="1"/><rect x="178.2" y="458.7" width="1.3" height="6.8" opacity="1"/><rect x="180.0" y="458.7" width="1.3" height="6.8" opacity="1"/><rect x="181.6" y="458.7" width="0.9" height="6.8" opacity="1"/><rect x="183.0" y="458.7" width="0.5" height="6.8" opacity="1"/><rect x="184.3" y="458.7" width="0.7" height="6.8" opacity="1"/><rect x="185.5" y="458.7" width="1.3" height="6.8" opacity="1"/><rect x="194.0" y="458.7" width="1.3" height="6.8" opacity="1"/><rect x="195.6" y="458.7" width="1.3" height="6.8" opacity="1"/><rect x="197.0" y="458.7" width="0.7" height="6.8" opacity="1"/><rect x="198.1" y="458.7" width="0.7" height="6.8" opacity="1"/><rect x="199.2" y="458.7" width="0.9" height="6.8" opacity="1"/><rect x="200.3" y="458.7" width="1.3" height="6.8" opacity="1"/><rect x="201.9" y="458.7" width="0.5" height="6.8" opacity="1"/><rect x="202.7" y="458.7" width="0.5" height="6.8" opacity="1"/><rect x="203.6" y="458.7" width="0.9" height="6.8" opacity="1"/><rect x="204.7" y="458.7" width="0.9" height="6.8" opacity="1"/><rect x="205.8" y="458.7" width="1.3" height="6.8" opacity="1"/><rect x="207.3" y="458.7" width="0.7" height="6.8" opacity="1"/><rect x="194" y="458.7" width="13.5" height="6.8" opacity="0.5"/><rect x="207.5" y="458.7" width="0.7" height="6.8" opacity="1"/><rect x="209.0" y="458.7" width="0.5" height="6.8" opacity="0.45"/><rect x="215.0" y="458.7" width="0.7" height="6.8" opacity="1"/><rect x="215.9" y="458.7" width="0.9" height="6.8" opacity="1"/><rect x="217.1" y="458.7" width="0.5" height="6.8" opacity="1"/><rect x="217.8" y="458.7" width="1.3" height="6.8" opacity="1"/><rect x="215" y="458.7" width="4.0" height="6.8" opacity="0.5"/><rect x="221.2" y="458.7" width="0.7" height="6.8" opacity="1"/><rect x="222.0" y="458.7" width="0.9" height="6.8" opacity="1"/><rect x="223.3" y="458.7" width="1.3" height="6.8" opacity="1"/><rect x="221.2" y="458.7" width="3.8" height="6.8" opacity="0.5"/><rect x="227.5" y="458.7" width="1.3" height="6.8" opacity="1"/><rect x="228.9" y="458.7" width="1.3" height="6.8" opacity="1"/><rect x="230.4" y="458.7" width="1.3" height="6.8" opacity="1"/><rect x="227.5" y="458.7" width="3.7" height="6.8" opacity="0.5"/><rect x="232.0" y="458.7" width="0.7" height="6.8" opacity="0.45"/><rect x="233.5" y="458.7" width="1.3" height="6.8" opacity="0.45"/><rect x="241.4" y="458.7" width="0.9" height="6.8" opacity="1"/><rect x="243.8" y="458.7" width="0.7" height="6.8" opacity="1"/><rect x="245.0" y="458.7" width="0.9" height="6.8" opacity="1"/><rect x="246.1" y="458.7" width="0.7" height="6.8" opacity="1"/><rect x="247.0" y="458.7" width="0.9" height="6.8" opacity="1"/><rect x="248.3" y="458.7" width="0.9" height="6.8" opacity="1"/><rect x="249.6" y="458.7" width="0.5" height="6.8" opacity="1"/><rect x="250.4" y="458.7" width="0.5" height="6.8" opacity="1"/><rect x="251.0" y="458.7" width="1.3" height="6.8" opacity="1"/><rect x="252.5" y="458.7" width="0.7" height="6.8" opacity="1"/><rect x="253.6" y="458.7" width="0.5" height="6.8" opacity="1"/><rect x="254.3" y="458.7" width="0.9" height="6.8" opacity="1"/><rect x="255.4" y="458.7" width="0.9" height="6.8" opacity="1"/><rect x="256.7" y="458.7" width="1.3" height="6.8" opacity="1"/><rect x="258.1" y="458.7" width="0.9" height="6.8" opacity="1"/><rect x="259.4" y="458.7" width="1.3" height="6.8" opacity="1"/><rect x="260.9" y="458.7" width="1.3" height="6.8" opacity="1"/><rect x="262.4" y="458.7" width="0.9" height="6.8" opacity="1"/><rect x="263.7" y="458.7" width="0.9" height="6.8" opacity="1"/><rect x="264.8" y="458.7" width="0.7" height="6.8" opacity="1"/><rect x="265.6" y="458.7" width="0.9" height="6.8" opacity="1"/><rect x="266.8" y="458.7" width="0.7" height="6.8" opacity="1"/><rect x="267.6" y="458.7" width="0.7" height="6.8" opacity="1"/><rect x="268.6" y="458.7" width="1.3" height="6.8" opacity="1"/><rect x="270.0" y="458.7" width="0.9" height="6.8" opacity="1"/><rect x="271.3" y="458.7" width="0.7" height="6.8" opacity="1"/><rect x="272.2" y="458.7" width="0.9" height="6.8" opacity="1"/><rect x="273.2" y="458.7" width="1.3" height="6.8" opacity="1"/><rect x="274.9" y="458.7" width="0.5" height="6.8" opacity="1"/><rect x="275.8" y="458.7" width="0.7" height="6.8" opacity="1"/><rect x="276.8" y="458.7" width="0.5" height="6.8" opacity="1"/><rect x="277.5" y="458.7" width="1.3" height="6.8" opacity="1"/><rect x="279.1" y="458.7" width="1.3" height="6.8" opacity="1"/><rect x="280.5" y="458.7" width="0.5" height="6.8" opacity="1"/><rect x="281.2" y="458.7" width="0.5" height="6.8" opacity="1"/><rect x="282.1" y="458.7" width="0.5" height="6.8" opacity="1"/><rect x="282.9" y="458.7" width="1.3" height="6.8" opacity="1"/><rect x="284.4" y="458.7" width="0.5" height="6.8" opacity="1"/><rect x="285.1" y="458.7" width="1.3" height="6.8" opacity="1"/><rect x="286.6" y="458.7" width="0.7" height="6.8" opacity="1"/><rect x="245" y="458.7" width="42.5" height="6.8" opacity="0.5"/><rect x="291.0" y="458.7" width="0.9" height="6.8" opacity="1"/><rect x="292.1" y="458.7" width="0.9" height="6.8" opacity="1"/><rect x="293.2" y="458.7" width="0.5" height="6.8" opacity="1"/><rect x="293.9" y="458.7" width="0.7" height="6.8" opacity="1"/><rect x="294.8" y="458.7" width="0.7" height="6.8" opacity="1"/><rect x="291" y="458.7" width="4.0" height="6.8" opacity="0.5"/><rect x="301.2" y="458.7" width="1.5" height="6.8"/><rect x="304.6" y="458.7" width="1.5" height="6.8"/><rect x="308.8" y="458.7" width="1.5" height="6.8"/><rect x="312.8" y="458.7" width="1.5" height="6.8"/><rect x="318.6" y="458.7" width="1.6" height="6.8"/><rect x="322" y="458.7" width="1.6" height="6.8"/><rect x="326" y="458.7" width="1.6" height="6.8"/><rect x="330.8" y="458.7" width="1.6" height="6.8"/><rect x="335" y="458.7" width="1.6" height="6.8"/><rect x="340.8" y="458.7" width="4.6" height="6.8"/><rect x="350.6" y="458.7" width="3" height="6.8"/><rect x="360.4" y="458.7" width="3" height="6.8"/><rect x="365.4" y="458.7" width="4.6" height="6.8"/><rect x="371.6" y="458.7" width="1.2" height="6.8"/><rect x="377" y="458.7" width="0.8" height="6.8"/></g>
<text transform="translate(168.2,471.6) rotate(-45)" font-size="5px" fill="#2450a4" stroke="#2450a4" stroke-width="0.1" text-anchor="end">HLA-A</text>
<text transform="translate(239.5,471.6) rotate(-45)" font-size="5px" fill="#2450a4" stroke="#2450a4" stroke-width="0.1" text-anchor="end">HLA-C</text>
<text transform="translate(248.2,471.6) rotate(-45)" font-size="5px" fill="#2450a4" stroke="#2450a4" stroke-width="0.1" text-anchor="end">HLA-B</text>
<text transform="translate(307.7,467.4) rotate(-45)" font-size="5px" fill="#2450a4" stroke="#2450a4" stroke-width="0.1" text-anchor="end">HLA-DRB1</text>
<text transform="translate(315.2,467.4) rotate(-45)" font-size="5px" fill="#2450a4" stroke="#2450a4" stroke-width="0.1" text-anchor="end">HLA-DQA1</text>
<text transform="translate(322.7,467.4) rotate(-45)" font-size="5px" fill="#2450a4" stroke="#2450a4" stroke-width="0.1" text-anchor="end">HLA-DQB1</text>
<text transform="translate(335.2,467.4) rotate(-45)" font-size="5px" fill="#2450a4" stroke="#2450a4" stroke-width="0.1" text-anchor="end">HLA-DPA1</text>
<text transform="translate(343.2,467.4) rotate(-45)" font-size="5px" fill="#2450a4" stroke="#2450a4" stroke-width="0.1" text-anchor="end">HLA-DPB1</text>
</svg></body></html>
